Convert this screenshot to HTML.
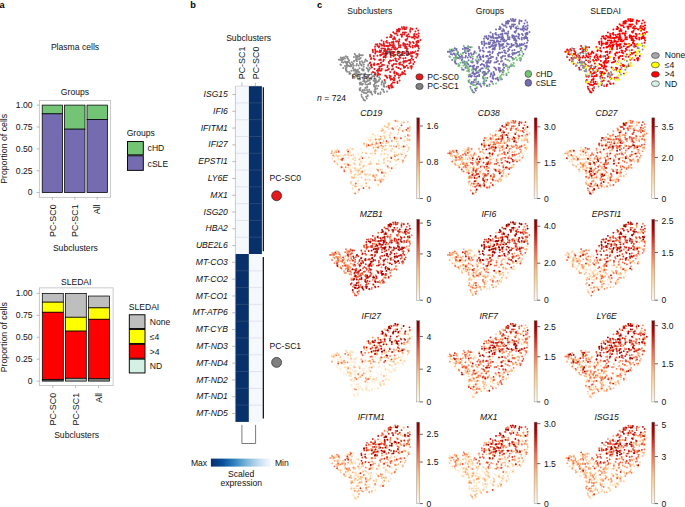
<!DOCTYPE html>
<html><head><meta charset="utf-8"><title>Plasma cells figure</title>
<style>
html,body{margin:0;padding:0;background:#fff;}
svg{display:block;font-family:"Liberation Sans",sans-serif;font-size:8.6px;fill:#111;}
</style></head>
<body>
<svg width="685" height="507" viewBox="0 0 685 507">
<defs>
<linearGradient id="blues" x1="0" x2="1" y1="0" y2="0">
<stop offset="0" stop-color="#08306b"/><stop offset="0.2" stop-color="#08519c"/><stop offset="0.4" stop-color="#3585c0"/><stop offset="0.6" stop-color="#7fb9da"/><stop offset="0.8" stop-color="#c8ddf0"/><stop offset="1" stop-color="#f7fbff"/>
</linearGradient>
<linearGradient id="orrd" x1="0" x2="0" y1="0" y2="1"><stop offset="0.000" stop-color="rgb(127, 0, 0)"/><stop offset="0.125" stop-color="rgb(179, 0, 0)"/><stop offset="0.250" stop-color="rgb(215, 48, 31)"/><stop offset="0.375" stop-color="rgb(239, 101, 72)"/><stop offset="0.500" stop-color="rgb(252, 141, 89)"/><stop offset="0.625" stop-color="rgb(253, 187, 132)"/><stop offset="0.750" stop-color="rgb(253, 212, 158)"/><stop offset="0.875" stop-color="rgb(254, 232, 200)"/><stop offset="1.000" stop-color="rgb(255, 247, 236)"/></linearGradient>
</defs>
<rect width="685" height="507" fill="#fff"/>
<text x="-0.6" y="7.6" font-weight="bold" font-size="9.2" fill="#000">a</text>
<text x="190.3" y="7.7" font-weight="bold" font-size="9.2" fill="#000">b</text>
<text x="317.0" y="7.7" font-weight="bold" font-size="9.2" fill="#000">c</text>
<text x="75.0" y="49.8" text-anchor="middle">Plasma cells</text>
<rect x="39.3" y="100.4" width="71.30" height="96.90" fill="#fff" stroke="#b3b3b3" stroke-width="0.7"/>
<rect x="42.2" y="105.10" width="20.40" height="8.75" fill="#74c476" stroke="#000" stroke-width="0.75"/>
<rect x="42.2" y="113.85" width="20.40" height="78.75" fill="#756bb1" stroke="#000" stroke-width="0.75"/>
<rect x="64.6" y="105.10" width="20.40" height="24.06" fill="#74c476" stroke="#000" stroke-width="0.75"/>
<rect x="64.6" y="129.16" width="20.40" height="63.44" fill="#756bb1" stroke="#000" stroke-width="0.75"/>
<rect x="87.0" y="105.10" width="20.40" height="14.44" fill="#74c476" stroke="#000" stroke-width="0.75"/>
<rect x="87.0" y="119.54" width="20.40" height="73.06" fill="#756bb1" stroke="#000" stroke-width="0.75"/>
<line x1="36.5" x2="39.3" y1="105.10" y2="105.10" stroke="#8a8a8a" stroke-width="0.6"/>
<text x="32.6" y="107.9" text-anchor="end">1.00</text>
<line x1="36.5" x2="39.3" y1="126.97" y2="126.97" stroke="#8a8a8a" stroke-width="0.6"/>
<text x="32.6" y="129.78" text-anchor="end">0.75</text>
<line x1="36.5" x2="39.3" y1="148.85" y2="148.85" stroke="#8a8a8a" stroke-width="0.6"/>
<text x="32.6" y="151.65" text-anchor="end">0.50</text>
<line x1="36.5" x2="39.3" y1="170.72" y2="170.72" stroke="#8a8a8a" stroke-width="0.6"/>
<text x="32.6" y="173.53" text-anchor="end">0.25</text>
<line x1="36.5" x2="39.3" y1="192.60" y2="192.60" stroke="#8a8a8a" stroke-width="0.6"/>
<text x="32.6" y="195.4" text-anchor="end">0</text>
<line x1="52.4" x2="52.4" y1="197.3" y2="199.60000000000002" stroke="#8a8a8a" stroke-width="0.6"/>
<text x="55.6" y="204.4" text-anchor="end" transform="rotate(-90 55.6 204.4)" font-size="8.9">PC-SC0</text>
<line x1="74.8" x2="74.8" y1="197.3" y2="199.60000000000002" stroke="#8a8a8a" stroke-width="0.6"/>
<text x="78.0" y="204.4" text-anchor="end" transform="rotate(-90 78.0 204.4)" font-size="8.9">PC-SC1</text>
<line x1="97.2" x2="97.2" y1="197.3" y2="199.60000000000002" stroke="#8a8a8a" stroke-width="0.6"/>
<text x="100.4" y="204.4" text-anchor="end" transform="rotate(-90 100.4 204.4)" font-size="8.9">All</text>
<text x="74.94999999999999" y="94.5" text-anchor="middle">Groups</text>
<text x="75.35" y="250.8" text-anchor="middle">Subclusters</text>
<text x="7.4" y="148.85" text-anchor="middle" transform="rotate(-90 7.4 148.85)" font-size="8.75">Proportion of cells</text>
<text x="126.7" y="136.4">Groups</text>
<rect x="127.5" y="141.55" width="15.80" height="13.30" fill="#74c476" stroke="#000" stroke-width="0.95"/>
<rect x="127.5" y="155.75" width="15.80" height="14.60" fill="#756bb1" stroke="#000" stroke-width="0.95"/>
<text x="147.6" y="151.1">cHD</text>
<text x="147.6" y="166.8">cSLE</text>
<rect x="39.3" y="287.9" width="73.80" height="97.70" fill="#fff" stroke="#b3b3b3" stroke-width="0.7"/>
<rect x="42.3" y="293.40" width="21.00" height="8.77" fill="#bebebe" stroke="#000" stroke-width="0.75"/>
<rect x="42.3" y="302.17" width="21.00" height="10.09" fill="#ffff00" stroke="#000" stroke-width="0.75"/>
<rect x="42.3" y="312.26" width="21.00" height="67.09" fill="#ff0000" stroke="#000" stroke-width="0.75"/>
<rect x="42.3" y="379.35" width="21.00" height="1.75" fill="#5a5a5a" stroke="#000" stroke-width="0.75"/>
<rect x="65.4" y="293.40" width="20.90" height="23.85" fill="#bebebe" stroke="#000" stroke-width="0.75"/>
<rect x="65.4" y="317.25" width="20.90" height="13.86" fill="#ffff00" stroke="#000" stroke-width="0.75"/>
<rect x="65.4" y="331.11" width="20.90" height="47.18" fill="#ff0000" stroke="#000" stroke-width="0.75"/>
<rect x="65.4" y="378.29" width="20.90" height="2.81" fill="#a9b5ad" stroke="#000" stroke-width="0.75"/>
<rect x="88.6" y="296.03" width="20.80" height="11.84" fill="#bebebe" stroke="#000" stroke-width="0.75"/>
<rect x="88.6" y="307.87" width="20.80" height="11.40" fill="#ffff00" stroke="#000" stroke-width="0.75"/>
<rect x="88.6" y="319.27" width="20.80" height="59.55" fill="#ff0000" stroke="#000" stroke-width="0.75"/>
<rect x="88.6" y="378.82" width="20.80" height="2.28" fill="#8d9690" stroke="#000" stroke-width="0.75"/>
<line x1="36.5" x2="39.3" y1="293.40" y2="293.40" stroke="#8a8a8a" stroke-width="0.6"/>
<text x="32.6" y="296.2" text-anchor="end">1.00</text>
<line x1="36.5" x2="39.3" y1="315.32" y2="315.32" stroke="#8a8a8a" stroke-width="0.6"/>
<text x="32.6" y="318.12" text-anchor="end">0.75</text>
<line x1="36.5" x2="39.3" y1="337.25" y2="337.25" stroke="#8a8a8a" stroke-width="0.6"/>
<text x="32.6" y="340.05" text-anchor="end">0.50</text>
<line x1="36.5" x2="39.3" y1="359.18" y2="359.18" stroke="#8a8a8a" stroke-width="0.6"/>
<text x="32.6" y="361.98" text-anchor="end">0.25</text>
<line x1="36.5" x2="39.3" y1="381.10" y2="381.10" stroke="#8a8a8a" stroke-width="0.6"/>
<text x="32.6" y="383.9" text-anchor="end">0</text>
<line x1="52.8" x2="52.8" y1="385.6" y2="387.90000000000003" stroke="#8a8a8a" stroke-width="0.6"/>
<text x="56.0" y="392.9" text-anchor="end" transform="rotate(-90 56.0 392.9)" font-size="8.9">PC-SC0</text>
<line x1="75.6" x2="75.6" y1="385.6" y2="387.90000000000003" stroke="#8a8a8a" stroke-width="0.6"/>
<text x="78.8" y="392.9" text-anchor="end" transform="rotate(-90 78.8 392.9)" font-size="8.9">PC-SC1</text>
<line x1="98.6" x2="98.6" y1="385.6" y2="387.90000000000003" stroke="#8a8a8a" stroke-width="0.6"/>
<text x="101.8" y="392.9" text-anchor="end" transform="rotate(-90 101.8 392.9)" font-size="8.9">All</text>
<text x="76.19999999999999" y="284.6" text-anchor="middle">SLEDAI</text>
<text x="76.6" y="438.4" text-anchor="middle">Subclusters</text>
<text x="7.4" y="337.25" text-anchor="middle" transform="rotate(-90 7.4 337.25)" font-size="8.75">Proportion of cells</text>
<text x="128.7" y="309.7">SLEDAI</text>
<rect x="129.3" y="314.75" width="15.70" height="13.80" fill="#bebebe" stroke="#000" stroke-width="0.95"/>
<rect x="129.3" y="329.45" width="15.70" height="14.00" fill="#ffff00" stroke="#000" stroke-width="0.95"/>
<rect x="129.3" y="344.35" width="15.70" height="13.90" fill="#ff0000" stroke="#000" stroke-width="0.95"/>
<rect x="129.3" y="359.15" width="15.70" height="13.80" fill="#d3f2e3" stroke="#000" stroke-width="0.95"/>
<text x="149.8" y="324.8">None</text>
<text x="149.8" y="339.9">≤4</text>
<text x="149.8" y="354.5">&gt;4</text>
<text x="149.8" y="369.2">ND</text>
<text x="248.6" y="40.8" text-anchor="middle">Subclusters</text>
<text x="245.2" y="79.2" transform="rotate(-90 245.2 79.2)" font-size="8.9">PC-SC1</text>
<text x="258.7" y="79.2" transform="rotate(-90 258.7 79.2)" font-size="8.9">PC-SC0</text>
<line x1="241.9" x2="241.9" y1="82.7" y2="86.1" stroke="#8a8a8a" stroke-width="0.6"/>
<line x1="255.3" x2="255.3" y1="82.7" y2="86.1" stroke="#8a8a8a" stroke-width="0.6"/>
<rect x="235.4" y="86.1" width="13.50" height="167.90" fill="#f5f9fe"/>
<rect x="248.9" y="86.1" width="13.00" height="167.90" fill="#08306b"/>
<rect x="235.4" y="254.00" width="13.50" height="167.90" fill="#08306b"/>
<rect x="248.9" y="254.00" width="13.00" height="167.90" fill="#f5f9fe"/>
<line x1="235.4" x2="261.9" y1="102.89" y2="102.89" stroke="#9a9a9a" stroke-opacity="0.45" stroke-width="0.5"/>
<line x1="235.4" x2="261.9" y1="119.68" y2="119.68" stroke="#9a9a9a" stroke-opacity="0.45" stroke-width="0.5"/>
<line x1="235.4" x2="261.9" y1="136.47" y2="136.47" stroke="#9a9a9a" stroke-opacity="0.45" stroke-width="0.5"/>
<line x1="235.4" x2="261.9" y1="153.26" y2="153.26" stroke="#9a9a9a" stroke-opacity="0.45" stroke-width="0.5"/>
<line x1="235.4" x2="261.9" y1="170.05" y2="170.05" stroke="#9a9a9a" stroke-opacity="0.45" stroke-width="0.5"/>
<line x1="235.4" x2="261.9" y1="186.84" y2="186.84" stroke="#9a9a9a" stroke-opacity="0.45" stroke-width="0.5"/>
<line x1="235.4" x2="261.9" y1="203.63" y2="203.63" stroke="#9a9a9a" stroke-opacity="0.45" stroke-width="0.5"/>
<line x1="235.4" x2="261.9" y1="220.42" y2="220.42" stroke="#9a9a9a" stroke-opacity="0.45" stroke-width="0.5"/>
<line x1="235.4" x2="261.9" y1="237.21" y2="237.21" stroke="#9a9a9a" stroke-opacity="0.45" stroke-width="0.5"/>
<line x1="235.4" x2="261.9" y1="270.79" y2="270.79" stroke="#9a9a9a" stroke-opacity="0.45" stroke-width="0.5"/>
<line x1="235.4" x2="261.9" y1="287.58" y2="287.58" stroke="#9a9a9a" stroke-opacity="0.45" stroke-width="0.5"/>
<line x1="235.4" x2="261.9" y1="304.37" y2="304.37" stroke="#9a9a9a" stroke-opacity="0.45" stroke-width="0.5"/>
<line x1="235.4" x2="261.9" y1="321.16" y2="321.16" stroke="#9a9a9a" stroke-opacity="0.45" stroke-width="0.5"/>
<line x1="235.4" x2="261.9" y1="337.95" y2="337.95" stroke="#9a9a9a" stroke-opacity="0.45" stroke-width="0.5"/>
<line x1="235.4" x2="261.9" y1="354.74" y2="354.74" stroke="#9a9a9a" stroke-opacity="0.45" stroke-width="0.5"/>
<line x1="235.4" x2="261.9" y1="371.53" y2="371.53" stroke="#9a9a9a" stroke-opacity="0.45" stroke-width="0.5"/>
<line x1="235.4" x2="261.9" y1="388.32" y2="388.32" stroke="#9a9a9a" stroke-opacity="0.45" stroke-width="0.5"/>
<line x1="235.4" x2="261.9" y1="405.11" y2="405.11" stroke="#9a9a9a" stroke-opacity="0.45" stroke-width="0.5"/>
<line x1="235.4" x2="235.4" y1="86.1" y2="421.90" stroke="#9a9a9a" stroke-width="0.5"/>
<line x1="235.4" x2="261.9" y1="86.1" y2="86.1" stroke="#9a9a9a" stroke-opacity="0.6" stroke-width="0.5"/>
<line x1="232.3" x2="235.4" y1="94.49" y2="94.49" stroke="#8a8a8a" stroke-width="0.6"/>
<text x="227.9" y="97.09" text-anchor="end" font-style="italic">ISG15</text>
<line x1="232.3" x2="235.4" y1="111.28" y2="111.28" stroke="#8a8a8a" stroke-width="0.6"/>
<text x="227.9" y="113.88" text-anchor="end" font-style="italic">IFI6</text>
<line x1="232.3" x2="235.4" y1="128.07" y2="128.07" stroke="#8a8a8a" stroke-width="0.6"/>
<text x="227.9" y="130.67" text-anchor="end" font-style="italic">IFITM1</text>
<line x1="232.3" x2="235.4" y1="144.87" y2="144.87" stroke="#8a8a8a" stroke-width="0.6"/>
<text x="227.9" y="147.47" text-anchor="end" font-style="italic">IFI27</text>
<line x1="232.3" x2="235.4" y1="161.65" y2="161.65" stroke="#8a8a8a" stroke-width="0.6"/>
<text x="227.9" y="164.25" text-anchor="end" font-style="italic">EPSTI1</text>
<line x1="232.3" x2="235.4" y1="178.44" y2="178.44" stroke="#8a8a8a" stroke-width="0.6"/>
<text x="227.9" y="181.04" text-anchor="end" font-style="italic">LY6E</text>
<line x1="232.3" x2="235.4" y1="195.23" y2="195.23" stroke="#8a8a8a" stroke-width="0.6"/>
<text x="227.9" y="197.83" text-anchor="end" font-style="italic">MX1</text>
<line x1="232.3" x2="235.4" y1="212.02" y2="212.02" stroke="#8a8a8a" stroke-width="0.6"/>
<text x="227.9" y="214.62" text-anchor="end" font-style="italic">ISG20</text>
<line x1="232.3" x2="235.4" y1="228.81" y2="228.81" stroke="#8a8a8a" stroke-width="0.6"/>
<text x="227.9" y="231.41" text-anchor="end" font-style="italic">HBA2</text>
<line x1="232.3" x2="235.4" y1="245.60" y2="245.60" stroke="#8a8a8a" stroke-width="0.6"/>
<text x="227.9" y="248.2" text-anchor="end" font-style="italic">UBE2L6</text>
<line x1="232.3" x2="235.4" y1="262.39" y2="262.39" stroke="#8a8a8a" stroke-width="0.6"/>
<text x="227.9" y="265.0" text-anchor="end" font-style="italic">MT-CO3</text>
<line x1="232.3" x2="235.4" y1="279.18" y2="279.18" stroke="#8a8a8a" stroke-width="0.6"/>
<text x="227.9" y="281.78" text-anchor="end" font-style="italic">MT-CO2</text>
<line x1="232.3" x2="235.4" y1="295.98" y2="295.98" stroke="#8a8a8a" stroke-width="0.6"/>
<text x="227.9" y="298.58" text-anchor="end" font-style="italic">MT-CO1</text>
<line x1="232.3" x2="235.4" y1="312.76" y2="312.76" stroke="#8a8a8a" stroke-width="0.6"/>
<text x="227.9" y="315.37" text-anchor="end" font-style="italic">MT-ATP6</text>
<line x1="232.3" x2="235.4" y1="329.55" y2="329.55" stroke="#8a8a8a" stroke-width="0.6"/>
<text x="227.9" y="332.15" text-anchor="end" font-style="italic">MT-CYB</text>
<line x1="232.3" x2="235.4" y1="346.35" y2="346.35" stroke="#8a8a8a" stroke-width="0.6"/>
<text x="227.9" y="348.95" text-anchor="end" font-style="italic">MT-ND3</text>
<line x1="232.3" x2="235.4" y1="363.13" y2="363.13" stroke="#8a8a8a" stroke-width="0.6"/>
<text x="227.9" y="365.74" text-anchor="end" font-style="italic">MT-ND4</text>
<line x1="232.3" x2="235.4" y1="379.92" y2="379.92" stroke="#8a8a8a" stroke-width="0.6"/>
<text x="227.9" y="382.52" text-anchor="end" font-style="italic">MT-ND2</text>
<line x1="232.3" x2="235.4" y1="396.72" y2="396.72" stroke="#8a8a8a" stroke-width="0.6"/>
<text x="227.9" y="399.32" text-anchor="end" font-style="italic">MT-ND1</text>
<line x1="232.3" x2="235.4" y1="413.50" y2="413.50" stroke="#8a8a8a" stroke-width="0.6"/>
<text x="227.9" y="416.11" text-anchor="end" font-style="italic">MT-ND5</text>
<line x1="263.3" x2="263.3" y1="87.3" y2="251.3" stroke="#000" stroke-width="1.2"/>
<line x1="263.3" x2="263.3" y1="257.1" y2="418.6" stroke="#000" stroke-width="1.2"/>
<path d="M241.9 424.9V443.5H255.6V424.9" fill="none" stroke="#444" stroke-width="0.7"/>
<text x="269.6" y="181.0">PC-SC0</text>
<circle cx="276.6" cy="195.8" r="4.95" fill="#e41a1c" stroke="#222" stroke-width="0.7"/>
<text x="269.6" y="348.8">PC-SC1</text>
<circle cx="276.6" cy="362.4" r="4.95" fill="#808080" stroke="#222" stroke-width="0.7"/>
<rect x="210.9" y="458.6" width="60.4" height="8" fill="url(#blues)"/>
<text x="190.9" y="465.8">Max</text>
<text x="274.9" y="465.8">Min</text>
<text x="241.2" y="477.0" text-anchor="middle">Scaled</text>
<text x="241.2" y="485.8" text-anchor="middle">expression</text>
<path d="M344.9 58.5h.01M354.6 77.8h.01M363.7 70.6h.01M357.8 69.8h.01M347.2 58.1h.01M350.0 63.4h.01M377.1 76.6h.01M370.1 92.1h.01M360.7 57.9h.01M359.5 88.9h.01M359.2 54.2h.01M356.3 65.5h.01M366.7 67.9h.01M367.0 61.1h.01M338.9 59.7h.01M351.8 62.2h.01M383.9 85.6h.01M380.3 78.7h.01M364.0 80.9h.01M365.1 73.5h.01M362.9 83.7h.01M361.9 61.2h.01M356.8 70.7h.01M349.0 66.0h.01M362.8 69.3h.01M361.7 65.5h.01M375.1 83.2h.01M359.1 75.9h.01M358.1 56.7h.01M350.2 65.9h.01M358.4 74.5h.01M356.1 71.8h.01M379.1 77.3h.01M356.0 58.0h.01M366.8 98.5h.01M379.1 80.0h.01M356.9 58.0h.01M362.0 69.2h.01M345.9 62.3h.01M358.7 71.7h.01M364.8 77.6h.01M345.8 56.3h.01M363.1 98.3h.01M371.4 93.0h.01M368.4 64.6h.01M346.4 63.5h.01M347.2 71.7h.01M348.1 59.0h.01M360.4 87.9h.01M347.0 66.5h.01M367.5 92.3h.01M349.8 72.9h.01M380.3 93.9h.01M356.4 75.7h.01M356.1 70.5h.01M354.4 73.5h.01M376.3 82.4h.01M359.6 68.3h.01M364.7 92.8h.01M373.9 84.7h.01M352.8 63.8h.01M356.9 61.3h.01M374.1 84.8h.01M349.2 72.0h.01M352.7 75.8h.01M345.8 69.8h.01M370.2 84.0h.01M359.7 54.9h.01M362.6 62.7h.01M381.8 82.4h.01M365.0 100.4h.01M378.0 94.1h.01M381.4 84.6h.01M368.1 69.9h.01M367.8 75.1h.01M359.4 58.4h.01M383.8 86.6h.01M356.9 72.3h.01M367.7 69.1h.01M384.1 92.1h.01M349.0 60.3h.01M368.4 71.4h.01M364.2 80.1h.01M347.5 57.1h.01M387.0 91.4h.01M385.4 82.8h.01M343.1 59.2h.01M359.6 77.6h.01M359.8 61.7h.01M383.1 89.8h.01M362.1 84.7h.01M366.9 77.4h.01M375.7 81.0h.01M370.1 68.4h.01M361.6 65.1h.01M340.8 57.6h.01M363.0 78.6h.01M362.8 89.9h.01M351.6 65.9h.01M364.4 80.4h.01M357.7 55.9h.01M346.9 66.8h.01M347.6 65.2h.01M360.0 84.6h.01M364.2 76.5h.01M362.7 55.3h.01M363.4 74.6h.01M358.7 59.3h.01M365.3 87.9h.01M364.5 61.9h.01M346.4 63.4h.01M353.2 67.5h.01M362.4 70.3h.01M365.7 59.6h.01M366.1 93.2h.01M353.1 77.6h.01M368.5 70.3h.01M346.8 65.2h.01M344.0 57.3h.01M374.2 91.5h.01M345.7 67.9h.01M374.8 89.6h.01M352.8 68.3h.01M363.2 81.3h.01M367.3 84.8h.01M359.8 79.6h.01M365.1 82.3h.01M371.0 91.6h.01M359.3 59.2h.01M355.5 69.4h.01M359.7 83.1h.01M378.0 93.6h.01M340.5 64.6h.01M363.9 92.7h.01M340.9 64.9h.01M364.5 75.2h.01M363.8 99.7h.01M357.0 74.0h.01M369.1 80.2h.01M364.3 73.9h.01M356.0 72.7h.01M367.2 87.0h.01M368.1 65.8h.01M354.2 69.5h.01M341.0 59.9h.01M363.7 66.7h.01M342.1 59.2h.01M384.4 86.8h.01M364.5 89.9h.01M369.2 74.8h.01M376.3 81.4h.01M365.3 60.4h.01M383.6 85.9h.01M347.1 63.9h.01M347.2 61.8h.01M353.9 57.0h.01M378.3 86.1h.01M356.9 71.4h.01M366.0 87.6h.01M367.0 90.1h.01M360.0 79.3h.01M350.9 66.3h.01M375.4 87.5h.01M383.7 91.4h.01M367.7 76.3h.01M370.2 82.8h.01M360.9 83.9h.01M380.6 92.6h.01M359.1 56.2h.01M361.5 74.0h.01M343.2 67.9h.01M342.8 57.7h.01M360.3 90.1h.01M342.3 60.1h.01M343.3 62.6h.01M377.3 88.4h.01M346.4 69.0h.01M355.3 70.6h.01M354.1 60.9h.01M341.8 62.0h.01M356.5 56.1h.01M351.0 65.1h.01M362.7 83.9h.01M374.4 79.7h.01M350.8 66.5h.01M361.4 94.8h.01M374.6 81.4h.01M367.8 81.0h.01M361.2 55.3h.01M355.7 55.5h.01M375.9 80.1h.01M347.2 62.7h.01M356.7 59.7h.01M376.0 81.6h.01M376.8 82.3h.01M356.9 64.1h.01M340.3 59.6h.01M371.0 77.7h.01M366.1 76.9h.01M351.4 70.7h.01M357.8 76.1h.01M382.2 81.2h.01M369.6 80.5h.01M353.5 70.4h.01M347.3 64.7h.01M367.7 80.5h.01M381.9 89.3h.01M369.2 89.8h.01M353.9 61.4h.01M363.4 92.3h.01M346.2 70.8h.01M354.7 53.9h.01M373.6 80.6h.01M345.0 66.0h.01M364.9 81.7h.01M367.7 96.1h.01M349.4 74.1h.01M360.5 58.2h.01M358.7 65.5h.01M354.2 70.6h.01M365.5 84.3h.01M371.7 73.1h.01M363.8 64.6h.01M366.8 78.6h.01M367.7 95.3h.01M374.2 86.1h.01M375.2 92.9h.01M369.5 78.6h.01M385.1 81.4h.01M359.3 72.6h.01M374.4 81.2h.01M378.7 80.9h.01M375.6 91.5h.01M382.7 82.3h.01M366.1 96.7h.01M348.8 62.0h.01M383.8 83.9h.01M369.6 67.8h.01M363.6 69.4h.01M372.2 94.5h.01M371.3 79.1h.01M386.7 86.8h.01M342.2 58.4h.01M350.4 73.6h.01M373.7 76.3h.01M356.0 56.6h.01M359.6 77.0h.01M370.9 78.4h.01M361.8 96.8h.01M368.1 80.2h.01M353.8 65.6h.01M360.6 64.4h.01M372.4 76.6h.01M377.8 81.6h.01M359.9 63.3h.01M363.7 99.9h.01M368.5 83.9h.01M356.9 70.7h.01M364.6 75.1h.01M357.7 70.8h.01M356.4 73.6h.01M344.9 61.4h.01M351.5 65.0h.01M368.5 91.4h.01M364.9 90.2h.01M375.7 89.2h.01M351.7 64.9h.01M363.2 77.6h.01M355.9 59.9h.01M384.9 83.2h.01M359.8 90.2h.01M374.2 86.5h.01M376.2 85.7h.01M360.9 82.6h.01M358.1 78.9h.01M366.5 81.7h.01M366.9 87.7h.01M360.5 74.4h.01M368.9 70.1h.01M361.8 91.5h.01" stroke="#8c8c8c" stroke-width="2.0" stroke-linecap="round" fill="none"/>
<path d="M382.3 54.1h.01M405.8 40.2h.01M390.9 54.6h.01M387.2 70.2h.01M406.3 48.0h.01M401.8 36.4h.01M378.0 70.9h.01M370.2 56.6h.01M400.3 62.6h.01M386.5 46.1h.01M379.4 66.6h.01M384.0 51.1h.01M384.3 45.3h.01M402.1 64.8h.01M374.5 72.7h.01M416.4 46.1h.01M407.2 38.8h.01M380.6 52.1h.01M383.8 59.7h.01M396.1 33.4h.01M395.1 58.6h.01M375.4 52.1h.01M415.1 46.8h.01M381.5 44.6h.01M398.8 68.1h.01M390.7 57.1h.01M377.1 64.4h.01M411.1 55.9h.01M394.6 78.8h.01M389.9 77.8h.01M400.1 64.4h.01M399.1 45.6h.01M375.0 46.8h.01M416.7 42.5h.01M375.1 49.3h.01M386.7 53.7h.01M415.1 36.2h.01M384.1 56.3h.01M413.3 64.0h.01M400.2 57.7h.01M381.3 55.0h.01M418.5 36.1h.01M410.6 28.3h.01M377.0 70.8h.01M391.6 84.1h.01M391.5 49.5h.01M381.3 70.4h.01M377.2 44.3h.01M399.3 64.6h.01M416.9 37.6h.01M415.5 51.4h.01M418.2 42.2h.01M412.6 28.9h.01M412.7 52.1h.01M416.5 28.5h.01M417.4 55.7h.01M402.2 72.3h.01M403.0 32.6h.01M400.5 45.2h.01M399.2 41.6h.01M416.7 34.6h.01M389.3 43.0h.01M404.0 67.8h.01M384.8 53.5h.01M398.4 41.9h.01M418.5 41.5h.01M389.4 88.6h.01M403.3 43.3h.01M370.8 65.6h.01M389.9 49.7h.01M374.8 59.6h.01M389.2 63.4h.01M374.4 65.0h.01M415.4 31.6h.01M379.8 50.6h.01M386.5 76.5h.01M416.3 37.3h.01M405.6 39.8h.01M403.5 66.0h.01M385.2 49.8h.01M413.7 37.5h.01M399.1 31.6h.01M397.4 54.3h.01M396.4 67.1h.01M396.0 64.1h.01M403.3 73.8h.01M391.5 52.8h.01M392.9 82.4h.01M398.8 59.3h.01M390.8 34.7h.01M379.3 74.2h.01M391.1 60.8h.01M390.1 45.4h.01M375.5 73.4h.01M406.9 65.8h.01M405.2 74.3h.01M405.8 61.8h.01M390.8 76.2h.01M392.4 45.4h.01M402.5 52.7h.01M411.4 68.4h.01M378.5 64.1h.01M407.8 54.8h.01M397.6 73.6h.01M409.6 54.2h.01M373.8 58.4h.01M371.2 64.5h.01M392.2 86.2h.01M411.6 67.6h.01M387.3 77.8h.01M384.5 46.0h.01M372.7 50.6h.01M391.4 42.6h.01M405.9 32.6h.01M384.9 48.6h.01M406.7 51.6h.01M387.8 49.8h.01M405.1 47.9h.01M414.0 52.7h.01M403.7 61.2h.01M411.6 65.9h.01M386.8 40.9h.01M390.4 85.8h.01M387.4 52.6h.01M378.1 69.3h.01M418.2 45.7h.01M417.8 46.0h.01M393.5 56.2h.01M394.1 49.1h.01M400.9 34.6h.01M397.5 41.3h.01M390.0 60.6h.01M410.4 46.7h.01M407.8 51.8h.01M393.4 42.5h.01M381.5 40.6h.01M413.8 43.0h.01M378.9 47.2h.01M386.2 41.8h.01M407.1 54.2h.01M380.9 60.1h.01M380.4 66.5h.01M405.9 28.9h.01M396.0 41.3h.01M387.6 70.0h.01M397.5 30.0h.01M378.7 64.3h.01M402.5 52.1h.01M415.7 45.4h.01M390.4 54.0h.01M389.4 45.5h.01M391.6 35.7h.01M385.2 75.5h.01M396.9 61.3h.01M388.7 61.9h.01M380.3 55.4h.01M409.6 44.6h.01M379.2 60.0h.01M385.6 70.4h.01M411.8 58.3h.01M390.2 72.0h.01M393.4 41.4h.01M385.5 57.5h.01M388.7 87.3h.01M386.2 52.9h.01M389.3 45.4h.01M418.8 48.5h.01M393.1 52.3h.01M396.5 33.6h.01M407.4 36.2h.01M379.7 43.7h.01M386.6 54.3h.01M392.5 69.3h.01M384.5 53.8h.01M409.6 36.6h.01M393.0 53.1h.01M392.6 79.2h.01M408.4 53.1h.01M397.1 29.7h.01M390.0 60.7h.01M395.9 58.8h.01M404.9 46.3h.01M382.9 45.4h.01M393.6 44.5h.01M411.6 37.3h.01M407.1 35.2h.01M392.1 45.5h.01M406.6 50.7h.01M395.0 38.9h.01M418.7 33.4h.01M403.3 58.6h.01M392.8 65.3h.01M374.5 69.0h.01M389.3 87.6h.01M394.1 72.4h.01M377.6 75.3h.01M381.8 69.1h.01M381.8 45.5h.01M383.8 43.7h.01M387.2 42.7h.01M406.6 35.9h.01M397.9 29.9h.01M394.0 45.8h.01M395.0 55.3h.01M404.5 29.3h.01M370.2 62.4h.01M385.7 55.8h.01M393.6 47.1h.01M379.3 46.3h.01M380.0 74.4h.01M383.5 57.2h.01M410.4 60.7h.01M385.0 49.4h.01M410.2 31.7h.01M412.8 47.4h.01M410.8 52.3h.01M400.2 75.4h.01M394.3 52.0h.01M389.9 51.8h.01M387.5 46.0h.01M398.1 51.4h.01M379.4 68.4h.01M416.2 54.1h.01M414.6 38.8h.01M379.2 74.5h.01M404.5 61.2h.01M394.6 71.6h.01M394.6 33.4h.01M398.7 47.2h.01M384.0 53.9h.01M395.1 75.7h.01M415.0 45.8h.01M381.1 62.5h.01M381.7 66.0h.01M405.6 44.6h.01M410.1 29.9h.01M395.6 60.4h.01M409.4 41.8h.01M403.8 73.1h.01M397.1 48.8h.01M391.7 87.6h.01M400.8 55.2h.01M374.2 63.6h.01M399.4 56.8h.01M401.9 35.5h.01M400.5 69.1h.01M394.5 80.1h.01M383.9 65.0h.01M409.2 46.0h.01M378.3 70.5h.01M384.7 51.0h.01M404.7 71.1h.01M393.9 77.4h.01M394.9 38.3h.01M407.5 48.7h.01M386.1 50.6h.01M381.5 48.5h.01M387.5 67.3h.01M391.6 36.6h.01M393.0 39.0h.01M410.6 62.7h.01M382.2 64.7h.01M397.0 31.3h.01M416.2 57.6h.01M398.9 77.7h.01M403.7 62.7h.01M400.4 74.5h.01M404.6 71.0h.01M375.7 44.4h.01M403.9 27.0h.01M405.5 58.1h.01M375.7 51.8h.01M392.8 87.3h.01M406.4 40.5h.01M417.7 53.9h.01M412.3 56.3h.01M393.2 32.3h.01M413.4 64.1h.01M400.2 29.3h.01M412.1 37.5h.01M395.3 47.5h.01M399.3 39.5h.01M418.1 40.7h.01M416.5 41.5h.01M418.2 46.7h.01M390.8 85.2h.01M400.5 47.3h.01M404.9 52.9h.01M410.5 66.6h.01M385.8 57.0h.01M396.4 72.7h.01M406.5 47.2h.01M390.1 37.1h.01M390.1 52.2h.01M405.2 67.0h.01M402.6 28.8h.01M375.5 52.3h.01M380.6 59.6h.01M396.4 41.4h.01M397.7 31.4h.01M397.9 74.0h.01M407.9 36.7h.01M403.3 61.5h.01M411.9 66.8h.01M378.0 74.7h.01M390.7 79.8h.01M393.8 80.3h.01M391.8 78.7h.01M399.5 29.5h.01M404.4 32.5h.01M383.1 48.5h.01M405.4 61.1h.01M391.9 42.2h.01M383.1 53.1h.01M408.5 34.3h.01M401.8 27.2h.01M387.6 65.7h.01M404.0 66.6h.01M406.6 50.2h.01M418.5 33.4h.01M420.4 39.9h.01M400.5 45.3h.01M395.6 49.5h.01M386.6 76.3h.01M392.0 69.5h.01M403.4 45.6h.01M407.5 44.3h.01M381.3 44.7h.01M409.9 42.6h.01M375.3 50.5h.01M392.9 53.8h.01M392.1 65.3h.01M416.9 44.2h.01M418.0 50.8h.01M388.3 46.0h.01M384.5 80.1h.01M417.9 37.8h.01M414.1 34.5h.01M418.1 41.1h.01M404.4 27.4h.01M403.2 44.1h.01M417.7 42.2h.01M371.4 58.3h.01M394.0 38.7h.01M381.1 50.7h.01M377.5 46.1h.01M398.5 52.3h.01M393.0 69.1h.01M390.5 44.7h.01M413.0 42.0h.01M392.9 46.2h.01M397.8 30.8h.01M402.4 34.6h.01M369.8 63.0h.01M393.4 43.3h.01M375.5 74.5h.01M413.6 36.3h.01M389.3 49.2h.01M418.2 30.5h.01M401.8 36.8h.01M373.0 52.0h.01M388.0 48.3h.01M397.4 81.8h.01M399.8 52.3h.01M406.0 46.6h.01M405.5 45.7h.01M383.3 60.9h.01M410.3 42.7h.01M404.2 43.7h.01M380.8 63.0h.01M403.5 53.4h.01M372.9 71.9h.01M397.5 82.9h.01M394.2 37.3h.01M387.0 37.5h.01M371.0 59.1h.01M417.0 37.6h.01M386.8 77.5h.01M404.5 28.6h.01M377.6 63.9h.01M412.4 52.9h.01M377.3 51.6h.01M388.4 85.7h.01M396.7 74.0h.01M373.8 56.0h.01M399.2 31.1h.01M409.3 63.4h.01M398.6 75.4h.01M392.2 47.5h.01M390.7 54.9h.01M405.7 29.1h.01M412.3 29.2h.01M379.3 51.9h.01M402.0 74.1h.01M409.0 60.0h.01M394.5 82.6h.01M383.8 57.1h.01M393.5 53.7h.01M383.7 42.1h.01M406.5 27.6h.01M389.6 75.8h.01M398.2 68.1h.01M412.8 45.8h.01M379.5 69.8h.01M371.9 67.5h.01M377.4 55.8h.01M407.4 60.7h.01M372.8 49.8h.01M415.9 45.0h.01M379.8 51.8h.01M399.6 80.5h.01M414.5 34.1h.01M397.5 35.3h.01M380.1 70.8h.01M380.2 54.8h.01M375.2 53.5h.01M390.6 78.8h.01M404.8 43.9h.01M399.2 63.3h.01M410.1 59.7h.01M402.2 54.8h.01M413.1 59.7h.01M387.3 45.8h.01M370.0 55.1h.01M394.3 73.6h.01M388.6 48.7h.01M408.0 67.9h.01M404.4 34.5h.01M373.6 64.8h.01M411.0 53.5h.01M388.9 69.0h.01M392.4 66.6h.01M393.1 60.2h.01M398.9 28.8h.01M394.0 64.0h.01M391.5 78.8h.01M391.4 36.9h.01M377.9 73.0h.01M406.8 65.8h.01M398.7 43.7h.01M417.4 54.3h.01M410.8 53.5h.01M371.4 66.1h.01M414.4 62.1h.01" stroke="#e41a1c" stroke-width="2.0" stroke-linecap="round" fill="none"/>
<text x="347.3" y="13.5">Subclusters</text>
<text x="397.0" y="56.0" text-anchor="middle" font-size="6.7">PC-SC0</text>
<text x="364.1" y="79.0" text-anchor="middle" font-size="6.7" fill="#222">PC-SC1</text>
<ellipse cx="419.5" cy="76.9" rx="3.7" ry="3.1" fill="#e41a1c" stroke="#333" stroke-width="0.6"/>
<ellipse cx="419.5" cy="86.4" rx="3.7" ry="3.1" fill="#808080" stroke="#333" stroke-width="0.6"/>
<text x="427.2" y="79.6">PC-SC0</text>
<text x="427.2" y="89.2">PC-SC1</text>
<text x="317.1" y="100.6"><tspan font-style="italic">n</tspan> = 724</text>
<path d="M491.3 46.1h.01M453.9 50.5h.01M514.8 32.2h.01M499.9 46.6h.01M463.6 69.8h.01M472.7 62.6h.01M456.2 50.1h.01M459.0 55.4h.01M496.2 62.2h.01M515.3 40.0h.01M510.8 28.4h.01M479.1 84.1h.01M469.7 49.9h.01M487.0 62.9h.01M479.2 48.6h.01M468.5 80.9h.01M468.2 46.2h.01M465.3 57.5h.01M509.3 54.6h.01M495.5 38.1h.01M488.4 58.6h.01M447.9 51.7h.01M493.0 43.1h.01M492.9 77.6h.01M493.3 37.3h.01M511.1 56.8h.01M483.5 64.7h.01M489.3 70.7h.01M525.4 38.1h.01M516.2 30.8h.01M489.6 44.1h.01M473.0 72.9h.01M492.8 51.7h.01M474.1 65.5h.01M505.1 25.4h.01M504.1 50.6h.01M484.4 44.1h.01M524.1 38.8h.01M490.5 36.6h.01M471.9 75.7h.01M507.8 60.1h.01M499.7 49.1h.01M470.9 53.2h.01M486.1 56.4h.01M465.8 62.7h.01M458.0 58.0h.01M503.6 70.8h.01M498.9 69.8h.01M509.1 56.4h.01M508.1 37.6h.01M470.7 57.5h.01M484.0 38.8h.01M525.7 34.5h.01M484.1 41.3h.01M495.7 45.7h.01M484.1 75.2h.01M524.1 28.2h.01M493.1 48.3h.01M509.2 49.7h.01M490.3 47.0h.01M527.5 28.1h.01M467.1 48.7h.01M519.6 20.3h.01M486.0 62.8h.01M459.2 57.9h.01M500.5 41.5h.01M490.3 62.4h.01M465.1 63.8h.01M486.2 36.3h.01M488.1 69.3h.01M508.3 56.6h.01M465.0 50.0h.01M525.9 29.6h.01M524.5 43.4h.01M475.8 90.5h.01M527.2 34.2h.01M521.6 20.9h.01M521.7 44.1h.01M525.5 20.5h.01M526.4 47.7h.01M512.0 24.6h.01M509.5 37.2h.01M488.1 72.0h.01M508.2 33.6h.01M454.9 54.3h.01M525.7 26.6h.01M498.3 35.0h.01M467.7 63.7h.01M473.8 69.6h.01M454.8 48.3h.01M472.1 90.3h.01M493.8 45.5h.01M507.4 33.9h.01M480.4 85.0h.01M477.4 56.6h.01M455.4 55.5h.01M527.5 33.5h.01M498.4 80.6h.01M512.3 35.3h.01M479.8 57.6h.01M456.2 63.7h.01M498.9 41.7h.01M483.8 51.6h.01M498.2 55.4h.01M483.4 57.0h.01M524.4 23.6h.01M488.8 42.6h.01M456.0 58.5h.01M476.5 84.3h.01M495.5 68.5h.01M465.4 67.7h.01M525.3 29.3h.01M514.6 31.8h.01M485.3 74.4h.01M468.6 60.3h.01M512.5 58.0h.01M473.7 84.8h.01M494.2 41.8h.01M522.7 29.5h.01M508.1 23.6h.01M506.4 46.3h.01M505.4 59.1h.01M461.8 55.8h.01M505.0 56.1h.01M465.9 53.3h.01M500.5 44.8h.01M483.1 76.8h.01M507.8 51.3h.01M499.8 26.7h.01M488.3 66.2h.01M500.1 52.8h.01M499.1 37.4h.01M484.5 65.4h.01M454.8 61.8h.01M479.2 76.0h.01M514.8 53.8h.01M471.6 54.7h.01M499.8 68.2h.01M501.4 37.4h.01M511.5 44.7h.01M490.8 74.4h.01M520.4 60.4h.01M487.5 56.1h.01M516.8 46.8h.01M474.0 92.4h.01M487.0 86.1h.01M506.6 65.6h.01M518.6 46.2h.01M490.4 76.6h.01M482.8 50.4h.01M480.2 56.5h.01M496.3 69.8h.01M493.5 38.0h.01M481.7 42.6h.01M500.4 34.6h.01M514.9 24.6h.01M477.1 61.9h.01M476.8 67.1h.01M493.9 40.6h.01M515.7 43.6h.01M496.8 41.8h.01M514.1 39.9h.01M468.4 50.4h.01M523.0 44.7h.01M492.8 78.6h.01M512.7 53.2h.01M495.8 32.9h.01M476.7 61.1h.01M496.4 44.6h.01M487.1 61.3h.01M527.2 37.7h.01M526.8 38.0h.01M502.5 48.2h.01M503.1 41.1h.01M509.9 26.6h.01M506.5 33.3h.01M458.0 52.3h.01M499.0 52.6h.01M519.4 38.7h.01M516.8 43.8h.01M502.4 34.5h.01M490.5 32.6h.01M522.8 35.0h.01M487.9 39.2h.01M495.2 33.8h.01M516.1 46.2h.01M477.4 63.4h.01M489.9 52.1h.01M473.2 72.1h.01M489.4 58.5h.01M514.9 20.9h.01M505.0 33.3h.01M496.6 62.0h.01M506.5 22.0h.01M487.7 56.3h.01M456.5 49.1h.01M494.4 74.8h.01M511.5 44.1h.01M524.7 37.4h.01M499.4 46.0h.01M452.1 51.2h.01M468.6 69.6h.01M498.4 37.5h.01M500.6 27.7h.01M468.8 53.7h.01M492.1 81.8h.01M494.2 67.5h.01M505.9 53.3h.01M497.7 53.9h.01M489.3 47.4h.01M518.6 36.6h.01M471.1 76.7h.01M475.9 69.4h.01M484.7 73.0h.01M488.2 52.0h.01M494.6 62.4h.01M520.8 50.3h.01M470.6 57.1h.01M499.2 64.0h.01M471.8 81.9h.01M502.4 33.4h.01M494.5 49.5h.01M460.6 57.9h.01M497.7 79.3h.01M473.4 72.4h.01M495.2 44.9h.01M498.3 37.4h.01M466.7 47.9h.01M527.8 40.5h.01M502.1 44.3h.01M505.5 25.6h.01M516.4 28.2h.01M488.7 35.7h.01M495.6 46.3h.01M456.6 57.2h.01M469.0 76.6h.01M501.5 61.3h.01M473.2 68.5h.01M493.5 45.8h.01M518.6 28.6h.01M502.0 45.1h.01M517.4 45.1h.01M506.1 21.7h.01M472.4 66.6h.01M467.7 51.3h.01M499.0 52.7h.01M504.9 50.8h.01M513.9 38.3h.01M491.9 37.4h.01M502.6 36.5h.01M520.6 29.3h.01M474.3 79.9h.01M516.1 27.2h.01M473.5 53.9h.01M455.4 55.4h.01M462.2 59.5h.01M501.1 37.5h.01M515.6 42.7h.01M471.4 62.3h.01M504.0 30.9h.01M527.7 25.4h.01M512.3 50.6h.01M501.8 57.3h.01M474.7 51.6h.01M483.5 61.0h.01M498.3 79.6h.01M503.1 64.4h.01M486.6 67.3h.01M462.1 69.6h.01M477.5 62.3h.01M490.8 61.1h.01M490.8 37.5h.01M492.8 35.7h.01M455.8 57.2h.01M483.2 83.5h.01M496.2 34.7h.01M515.6 27.9h.01M506.9 21.9h.01M503.0 37.8h.01M483.8 81.6h.01M461.8 60.3h.01M504.0 47.3h.01M513.5 21.3h.01M479.2 54.4h.01M494.7 47.8h.01M502.6 39.1h.01M488.3 38.3h.01M489.0 66.4h.01M492.5 49.2h.01M494.0 41.4h.01M472.2 73.3h.01M476.3 76.8h.01M519.2 23.7h.01M521.8 39.4h.01M519.8 44.3h.01M509.2 67.4h.01M503.3 44.0h.01M498.9 43.8h.01M496.5 38.0h.01M507.1 43.4h.01M474.1 74.3h.01M488.4 60.4h.01M525.2 46.1h.01M523.6 30.8h.01M488.2 66.5h.01M513.5 53.2h.01M468.3 51.2h.01M464.5 61.4h.01M487.0 85.6h.01M503.6 63.6h.01M503.6 25.4h.01M449.5 56.6h.01M507.7 39.2h.01M493.0 45.9h.01M504.1 67.7h.01M524.0 37.8h.01M473.5 67.2h.01M466.0 66.0h.01M478.1 72.2h.01M473.3 65.9h.01M465.0 64.7h.01M490.1 54.5h.01M490.7 58.0h.01M514.6 36.6h.01M519.1 21.9h.01M504.6 52.4h.01M518.4 33.8h.01M450.0 51.9h.01M506.1 40.8h.01M509.8 47.2h.01M483.2 55.6h.01M508.4 48.8h.01M510.9 27.5h.01M492.9 57.0h.01M518.2 38.0h.01M487.3 62.5h.01M472.7 58.7h.01M493.7 43.0h.01M451.1 51.2h.01M493.4 78.8h.01M502.9 69.4h.01M503.9 30.3h.01M516.5 40.7h.01M495.1 42.6h.01M473.5 81.9h.01M478.2 66.8h.01M485.3 73.4h.01M490.5 40.5h.01M496.5 59.3h.01M474.3 52.4h.01M492.6 77.9h.01M500.6 28.6h.01M502.0 31.0h.01M519.6 54.7h.01M456.1 55.9h.01M491.2 56.7h.01M462.9 49.0h.01M487.3 78.1h.01M506.0 23.3h.01M475.0 79.6h.01M525.2 49.6h.01M512.7 54.7h.01M484.7 36.4h.01M512.9 19.0h.01M514.5 50.1h.01M484.7 43.8h.01M469.0 71.3h.01M501.8 79.3h.01M515.4 32.5h.01M526.7 45.9h.01M521.3 48.3h.01M502.2 24.3h.01M476.7 68.3h.01M509.2 21.3h.01M521.1 29.5h.01M479.2 74.8h.01M469.9 75.9h.01M504.3 39.5h.01M489.6 84.6h.01M508.3 31.5h.01M527.1 32.7h.01M525.5 33.5h.01M468.1 48.2h.01M527.2 38.7h.01M509.5 39.3h.01M470.5 66.0h.01M452.2 59.9h.01M513.9 44.9h.01M451.8 49.7h.01M494.8 49.0h.01M505.4 64.7h.01M515.5 39.2h.01M499.1 29.1h.01M499.1 44.2h.01M511.6 20.8h.01M452.3 54.6h.01M484.5 44.3h.01M489.6 51.6h.01M505.4 33.4h.01M506.7 23.4h.01M486.3 80.4h.01M455.4 61.0h.01M516.9 28.7h.01M464.3 62.6h.01M512.3 53.5h.01M520.9 58.8h.01M487.0 66.7h.01M463.1 52.9h.01M499.7 71.8h.01M450.8 54.0h.01M502.8 72.3h.01M500.8 70.7h.01M465.5 48.1h.01M508.5 21.5h.01M460.0 57.1h.01M513.4 24.5h.01M492.1 40.5h.01M514.4 53.1h.01M500.9 34.2h.01M492.1 45.1h.01M471.7 75.9h.01M510.8 19.2h.01M496.6 57.7h.01M483.4 71.7h.01M513.0 58.6h.01M515.6 42.2h.01M459.8 58.5h.01M527.5 25.4h.01M470.4 86.8h.01M529.4 31.9h.01M509.5 37.3h.01M504.6 41.5h.01M483.6 73.4h.01M495.6 68.3h.01M501.0 61.5h.01M476.8 73.0h.01M512.4 37.6h.01M470.2 47.3h.01M464.7 47.5h.01M516.5 36.3h.01M484.9 72.1h.01M490.3 36.7h.01M518.9 34.6h.01M485.0 73.6h.01M484.3 42.5h.01M501.9 45.8h.01M501.1 57.3h.01M485.8 74.3h.01M465.9 56.1h.01M449.3 51.6h.01M480.0 69.7h.01M525.9 36.2h.01M527.0 42.8h.01M475.1 68.9h.01M497.3 38.0h.01M493.5 72.1h.01M526.9 29.8h.01M523.1 26.5h.01M527.1 33.1h.01M513.4 19.4h.01M512.2 36.1h.01M526.7 34.2h.01M480.4 50.3h.01M503.0 30.7h.01M491.2 73.2h.01M490.1 42.7h.01M486.5 38.1h.01M507.5 44.3h.01M478.6 72.5h.01M502.0 61.1h.01M462.5 62.4h.01M499.5 36.7h.01M522.0 34.0h.01M501.9 38.2h.01M506.8 22.8h.01M476.7 72.5h.01M511.4 26.6h.01M478.8 55.0h.01M502.4 35.3h.01M484.5 66.5h.01M522.6 28.3h.01M498.3 41.2h.01M527.2 22.5h.01M510.8 28.8h.01M490.9 81.3h.01M482.0 44.0h.01M497.0 40.3h.01M508.8 44.3h.01M515.0 38.6h.01M514.5 37.7h.01M478.2 81.8h.01M492.3 52.9h.01M519.3 34.7h.01M513.2 35.7h.01M472.4 84.3h.01M455.2 62.8h.01M489.8 55.0h.01M482.6 72.6h.01M512.5 45.4h.01M473.9 73.7h.01M476.7 88.1h.01M481.9 63.9h.01M469.5 50.2h.01M506.5 74.9h.01M467.7 57.5h.01M463.2 62.6h.01M503.2 29.3h.01M474.5 76.3h.01M480.7 65.1h.01M496.0 29.5h.01M475.8 70.6h.01M480.0 51.1h.01M526.0 29.6h.01M495.8 69.5h.01M513.5 20.6h.01M486.6 55.9h.01M521.4 44.9h.01M486.3 43.6h.01M497.4 77.7h.01M482.8 48.0h.01M508.2 23.1h.01M483.2 78.1h.01M494.1 73.4h.01M468.3 64.6h.01M501.2 39.5h.01M484.6 83.5h.01M491.7 74.3h.01M499.7 46.9h.01M514.7 21.1h.01M521.3 21.2h.01M475.1 88.7h.01M488.3 43.9h.01M511.0 66.1h.01M518.0 52.0h.01M492.8 49.1h.01M457.8 54.0h.01M492.8 75.9h.01M478.6 59.8h.01M502.5 45.7h.01M492.7 34.1h.01M472.6 61.4h.01M481.2 86.5h.01M515.5 19.6h.01M480.3 71.1h.01M498.6 67.8h.01M521.8 37.8h.01M495.7 78.8h.01M488.5 61.8h.01M480.9 59.5h.01M451.2 50.4h.01M486.4 47.8h.01M516.4 52.7h.01M481.8 41.8h.01M524.9 37.0h.01M459.4 65.6h.01M488.8 43.8h.01M482.7 68.3h.01M465.0 48.6h.01M479.9 70.4h.01M523.5 26.1h.01M477.1 72.2h.01M506.5 27.3h.01M462.8 57.6h.01M489.1 62.8h.01M481.4 68.6h.01M489.2 46.8h.01M486.8 73.6h.01M484.2 45.5h.01M499.6 70.8h.01M513.8 35.9h.01M508.2 55.3h.01M468.9 55.3h.01M519.1 51.7h.01M472.7 91.9h.01M511.2 46.8h.01M496.3 37.8h.01M479.0 47.1h.01M477.5 75.9h.01M503.3 65.6h.01M497.6 40.7h.01M465.9 62.7h.01M473.6 67.1h.01M466.7 62.8h.01M513.4 26.5h.01M453.9 53.4h.01M482.6 56.8h.01M460.5 57.0h.01M477.5 83.4h.01M520.0 45.5h.01M497.9 61.0h.01M501.4 58.6h.01M473.9 82.2h.01M502.1 52.2h.01M507.9 20.8h.01M503.0 56.0h.01M500.5 70.8h.01M500.4 28.9h.01M460.7 56.9h.01M486.9 65.0h.01M464.9 51.9h.01M493.9 75.2h.01M483.2 78.5h.01M507.7 35.7h.01M469.9 74.6h.01M526.4 46.3h.01M519.8 45.5h.01M475.5 73.7h.01M480.4 58.1h.01M523.4 54.1h.01M475.9 79.7h.01M469.5 66.4h.01M477.9 62.1h.01M470.8 83.5h.01" stroke="#756bb1" stroke-width="2.0" stroke-linecap="round" fill="none"/>
<path d="M466.8 61.8h.01M486.1 68.6h.01M475.7 59.9h.01M476.0 53.1h.01M460.8 54.2h.01M520.1 47.9h.01M471.8 61.3h.01M468.1 67.9h.01M522.3 56.0h.01M500.6 76.1h.01M467.4 66.5h.01M511.2 64.3h.01M465.9 50.0h.01M471.0 61.2h.01M513.0 59.8h.01M457.1 51.0h.01M469.4 79.9h.01M458.8 64.9h.01M489.3 85.9h.01M465.1 62.5h.01M463.4 65.5h.01M482.9 76.7h.01M512.3 65.8h.01M501.9 74.4h.01M458.2 64.0h.01M461.7 67.8h.01M515.9 57.8h.01M514.2 66.3h.01M468.7 46.9h.01M501.2 78.2h.01M520.6 59.6h.01M465.9 64.3h.01M520.6 57.9h.01M499.4 77.8h.01M493.1 84.1h.01M496.0 83.4h.01M479.1 60.4h.01M449.8 49.6h.01M472.0 70.6h.01M455.9 58.8h.01M501.6 71.2h.01M471.7 47.3h.01M475.1 85.2h.01M453.0 49.3h.01M454.7 59.9h.01M519.4 52.7h.01M468.8 71.6h.01M480.0 83.6h.01M468.7 75.1h.01M472.9 84.7h.01M449.9 56.9h.01M472.8 91.7h.01M476.2 79.0h.01M477.1 57.8h.01M463.2 61.5h.01M512.8 65.1h.01M500.7 79.6h.01M509.5 61.1h.01M503.5 72.1h.01M513.7 63.1h.01M456.2 53.8h.01M465.9 63.4h.01M507.9 69.7h.01M509.4 66.5h.01M513.6 63.0h.01M476.0 82.1h.01M459.9 58.3h.01M484.4 79.5h.01M492.7 83.4h.01M522.4 56.1h.01M499.8 77.2h.01M519.5 58.6h.01M469.3 82.1h.01M451.3 52.1h.01M514.2 59.0h.01M506.9 66.0h.01M517.5 26.3h.01M456.2 54.7h.01M465.7 51.7h.01M460.4 62.7h.01M466.8 68.1h.01M456.3 56.7h.01M506.4 73.8h.01M462.9 53.4h.01M463.7 45.9h.01M454.0 58.0h.01M458.4 66.1h.01M472.8 56.6h.01M476.7 87.3h.01M505.7 66.0h.01M484.2 84.9h.01M478.5 70.6h.01M518.3 55.4h.01M483.4 73.2h.01M507.6 67.4h.01M487.7 72.9h.01M503.5 74.6h.01M507.2 60.1h.01M508.6 72.5h.01M468.6 69.0h.01M470.8 88.8h.01M469.6 56.4h.01M522.1 51.7h.01M465.4 65.6h.01M517.0 59.9h.01M484.7 81.2h.01M472.2 69.6h.01M468.8 82.2h.01M515.8 57.8h.01M485.2 77.7h.01M467.1 70.9h.01" stroke="#74c476" stroke-width="2.0" stroke-linecap="round" fill="none"/>
<text x="475.8" y="13.5">Groups</text>
<ellipse cx="528.3" cy="73.9" rx="3.3" ry="3.5" fill="#74c476" stroke="#333" stroke-width="0.6"/>
<ellipse cx="528.3" cy="82.8" rx="3.3" ry="3.5" fill="#756bb1" stroke="#333" stroke-width="0.6"/>
<text x="536.0" y="76.7">cHD</text>
<text x="536.0" y="85.7">cSLE</text>
<path d="M608.7 46.1h.01M571.3 50.5h.01M632.2 32.2h.01M617.3 46.6h.01M576.4 55.4h.01M613.6 62.2h.01M603.5 68.6h.01M632.7 40.0h.01M628.2 28.4h.01M596.5 84.1h.01M587.1 49.9h.01M604.4 62.9h.01M582.7 57.5h.01M626.7 54.6h.01M593.1 59.9h.01M612.9 38.1h.01M593.4 53.1h.01M605.8 58.6h.01M565.3 51.7h.01M610.4 43.1h.01M610.3 77.6h.01M610.7 37.3h.01M628.5 56.8h.01M600.9 64.7h.01M606.7 70.7h.01M642.8 38.1h.01M633.6 30.8h.01M607.0 44.1h.01M590.4 72.9h.01M610.2 51.7h.01M591.5 65.5h.01M622.5 25.4h.01M621.5 50.6h.01M601.8 44.1h.01M641.5 38.8h.01M607.9 36.6h.01M589.3 75.7h.01M617.1 49.1h.01M588.3 53.2h.01M603.5 56.4h.01M616.3 69.8h.01M625.5 37.6h.01M588.1 57.5h.01M601.4 38.8h.01M643.1 34.5h.01M601.5 41.3h.01M613.1 45.7h.01M601.5 75.2h.01M641.5 28.2h.01M610.5 48.3h.01M639.7 56.0h.01M626.6 49.7h.01M607.7 47.0h.01M644.9 28.1h.01M584.5 48.7h.01M637.0 20.3h.01M603.4 62.8h.01M576.6 57.9h.01M617.9 41.5h.01M607.7 62.4h.01M603.6 36.3h.01M605.5 69.3h.01M625.7 56.6h.01M643.3 29.6h.01M593.2 90.5h.01M644.6 34.2h.01M639.0 20.9h.01M642.9 20.5h.01M629.4 24.6h.01M626.9 37.2h.01M583.3 50.0h.01M588.4 61.2h.01M625.6 33.6h.01M643.1 26.6h.01M615.7 35.0h.01M630.4 59.8h.01M589.5 90.3h.01M611.2 45.5h.01M624.8 33.9h.01M594.8 56.6h.01M572.8 55.5h.01M644.9 33.5h.01M629.7 35.3h.01M597.2 57.6h.01M573.6 63.7h.01M616.3 41.7h.01M601.2 51.6h.01M615.6 55.4h.01M574.5 51.0h.01M600.8 57.0h.01M641.8 23.6h.01M586.8 79.9h.01M606.2 42.6h.01M593.9 84.3h.01M612.9 68.5h.01M606.7 85.9h.01M642.7 29.3h.01M632.0 31.8h.01M586.0 60.3h.01M591.1 84.8h.01M611.6 41.8h.01M625.5 23.6h.01M623.8 46.3h.01M600.3 76.7h.01M622.8 59.1h.01M579.2 55.8h.01M622.4 56.1h.01M617.9 44.8h.01M600.5 76.8h.01M625.2 51.3h.01M617.2 26.7h.01M605.7 66.2h.01M617.5 52.8h.01M616.5 37.4h.01M601.9 65.4h.01M579.1 67.8h.01M572.2 61.8h.01M596.6 76.0h.01M632.2 53.8h.01M586.1 46.9h.01M589.0 54.7h.01M617.2 68.2h.01M618.8 37.4h.01M637.8 60.4h.01M604.9 56.1h.01M634.2 46.8h.01M591.4 92.4h.01M604.4 86.1h.01M624.0 65.6h.01M636.0 46.2h.01M607.8 76.6h.01M600.2 50.4h.01M597.6 56.5h.01M638.0 59.6h.01M613.7 69.8h.01M610.9 38.0h.01M599.1 42.6h.01M617.8 34.6h.01M632.3 24.6h.01M611.3 40.6h.01M633.1 43.6h.01M614.2 41.8h.01M631.5 39.9h.01M585.8 50.4h.01M638.0 57.9h.01M613.2 32.9h.01M594.1 61.1h.01M616.8 77.8h.01M613.8 44.6h.01M604.5 61.3h.01M644.6 37.7h.01M610.5 84.1h.01M644.2 38.0h.01M619.9 48.2h.01M620.5 41.1h.01M627.3 26.6h.01M623.9 33.3h.01M575.4 52.3h.01M616.4 52.6h.01M636.8 38.7h.01M634.2 43.8h.01M619.8 34.5h.01M607.9 32.6h.01M605.3 39.2h.01M612.6 33.8h.01M594.8 63.4h.01M607.3 52.1h.01M590.6 72.1h.01M606.8 58.5h.01M632.3 20.9h.01M622.4 33.3h.01M614.0 62.0h.01M623.9 22.0h.01M605.1 56.3h.01M573.9 49.1h.01M613.4 83.4h.01M611.8 74.8h.01M628.9 44.1h.01M642.1 37.4h.01M616.8 46.0h.01M615.8 37.5h.01M618.0 27.7h.01M611.6 67.5h.01M623.3 53.3h.01M615.1 53.9h.01M606.7 47.4h.01M636.0 36.6h.01M588.5 76.7h.01M602.1 73.0h.01M596.5 60.4h.01M605.6 52.0h.01M612.0 62.4h.01M588.0 57.1h.01M567.2 49.6h.01M619.8 33.4h.01M611.9 49.5h.01M590.8 72.4h.01M612.6 44.9h.01M615.7 37.4h.01M645.2 40.5h.01M573.3 58.8h.01M619.5 44.3h.01M622.9 25.6h.01M633.8 28.2h.01M606.1 35.7h.01M613.0 46.3h.01M574.0 57.2h.01M586.4 76.6h.01M590.6 68.5h.01M610.9 45.8h.01M636.0 28.6h.01M619.4 45.1h.01M634.8 45.1h.01M623.5 21.7h.01M589.1 47.3h.01M616.4 52.7h.01M622.3 50.8h.01M631.3 38.3h.01M609.3 37.4h.01M620.0 36.5h.01M638.0 29.3h.01M591.7 79.9h.01M633.5 27.2h.01M590.9 53.9h.01M572.8 55.4h.01M579.6 59.5h.01M618.5 37.5h.01M633.0 42.7h.01M588.8 62.3h.01M621.4 30.9h.01M645.1 25.4h.01M619.2 57.3h.01M592.1 51.6h.01M600.9 61.0h.01M604.0 67.3h.01M592.5 85.2h.01M579.5 69.6h.01M594.9 62.3h.01M608.2 61.1h.01M608.2 37.5h.01M610.2 35.7h.01M570.4 49.3h.01M613.6 34.7h.01M633.0 27.9h.01M624.3 21.9h.01M620.4 37.8h.01M579.2 60.3h.01M621.4 47.3h.01M630.9 21.3h.01M596.6 54.4h.01M612.1 47.8h.01M620.0 39.1h.01M605.7 38.3h.01M606.4 66.4h.01M609.9 49.2h.01M611.4 41.4h.01M593.7 76.8h.01M636.6 23.7h.01M639.2 39.4h.01M637.2 44.3h.01M620.7 44.0h.01M616.3 43.8h.01M613.9 38.0h.01M624.5 43.4h.01M605.8 60.4h.01M641.0 30.8h.01M605.6 66.5h.01M630.9 53.2h.01M585.7 51.2h.01M621.0 25.4h.01M590.3 84.7h.01M625.1 39.2h.01M567.3 56.9h.01M610.4 45.9h.01M641.4 37.8h.01M590.9 67.2h.01M590.2 91.7h.01M595.5 72.2h.01M607.5 54.5h.01M608.1 58.0h.01M632.0 36.6h.01M636.5 21.9h.01M593.6 79.0h.01M622.0 52.4h.01M594.5 57.8h.01M635.8 33.8h.01M623.5 40.8h.01M627.2 47.2h.01M600.6 55.6h.01M625.8 48.8h.01M628.3 27.5h.01M635.6 38.0h.01M604.7 62.5h.01M611.1 43.0h.01M568.5 51.2h.01M610.8 78.8h.01M620.3 69.4h.01M621.3 30.3h.01M633.9 40.7h.01M612.5 42.6h.01M590.9 81.9h.01M595.6 66.8h.01M602.7 73.4h.01M607.9 40.5h.01M613.9 59.3h.01M591.7 52.4h.01M610.0 77.9h.01M618.0 28.6h.01M619.4 31.0h.01M573.6 53.8h.01M608.6 56.7h.01M580.3 49.0h.01M623.4 23.3h.01M592.4 79.6h.01M630.1 54.7h.01M602.1 36.4h.01M630.3 19.0h.01M631.9 50.1h.01M602.1 43.8h.01M593.4 82.1h.01M632.8 32.5h.01M577.3 58.3h.01M610.1 83.4h.01M619.6 24.3h.01M594.1 68.3h.01M639.8 56.1h.01M626.6 21.3h.01M638.5 29.5h.01M596.6 74.8h.01M621.7 39.5h.01M607.0 84.6h.01M625.7 31.5h.01M644.5 32.7h.01M642.9 33.5h.01M585.5 48.2h.01M644.6 38.7h.01M626.9 39.3h.01M587.9 66.0h.01M569.6 59.9h.01M631.3 44.9h.01M636.9 58.6h.01M612.2 49.0h.01M622.8 64.7h.01M632.9 39.2h.01M616.5 29.1h.01M568.7 52.1h.01M616.5 44.2h.01M629.0 20.8h.01M569.7 54.6h.01M601.9 44.3h.01M607.0 51.6h.01M622.8 33.4h.01M624.1 23.4h.01M624.3 66.0h.01M603.7 80.4h.01M634.3 28.7h.01M581.7 62.6h.01M638.3 58.8h.01M604.4 66.7h.01M580.5 52.9h.01M568.2 54.0h.01M620.2 72.3h.01M582.9 48.1h.01M625.9 21.5h.01M577.4 57.1h.01M630.8 24.5h.01M609.5 40.5h.01M631.8 53.1h.01M618.3 34.2h.01M609.5 45.1h.01M634.9 26.3h.01M628.2 19.2h.01M614.0 57.7h.01M600.8 71.7h.01M633.0 42.2h.01M644.9 25.4h.01M587.8 86.8h.01M646.8 31.9h.01M626.9 37.3h.01M622.0 41.5h.01M601.0 73.4h.01M618.4 61.5h.01M594.2 73.0h.01M629.8 37.6h.01M633.9 36.3h.01M602.3 72.1h.01M573.6 54.7h.01M583.1 51.7h.01M607.7 36.7h.01M636.3 34.6h.01M602.4 73.6h.01M601.7 42.5h.01M619.3 45.8h.01M618.5 57.3h.01M603.2 74.3h.01M583.3 56.1h.01M566.7 51.6h.01M643.3 36.2h.01M644.4 42.8h.01M592.5 68.9h.01M614.7 38.0h.01M644.3 29.8h.01M640.5 26.5h.01M644.5 33.1h.01M630.8 19.4h.01M629.6 36.1h.01M597.8 50.3h.01M620.4 30.7h.01M608.6 73.2h.01M607.5 42.7h.01M603.9 38.1h.01M624.9 44.3h.01M579.9 62.4h.01M616.9 36.7h.01M639.4 34.0h.01M619.3 38.2h.01M624.2 22.8h.01M594.1 72.5h.01M628.8 26.6h.01M596.2 55.0h.01M619.8 35.3h.01M601.9 66.5h.01M640.0 28.3h.01M615.7 41.2h.01M644.6 22.5h.01M628.2 28.8h.01M608.3 81.3h.01M599.4 44.0h.01M614.4 40.3h.01M623.8 73.8h.01M626.2 44.3h.01M632.4 38.6h.01M631.9 37.7h.01M595.6 81.8h.01M609.7 52.9h.01M636.7 34.7h.01M630.6 35.7h.01M589.8 84.3h.01M607.2 55.0h.01M581.1 45.9h.01M571.4 58.0h.01M629.9 45.4h.01M599.3 63.9h.01M585.1 57.5h.01M620.6 29.3h.01M591.9 76.3h.01M590.2 56.6h.01M613.4 29.5h.01M597.4 51.1h.01M643.4 29.6h.01M630.9 20.6h.01M603.7 43.6h.01M614.8 77.7h.01M594.1 87.3h.01M623.1 66.0h.01M600.2 48.0h.01M625.6 23.1h.01M601.6 84.9h.01M585.7 64.6h.01M635.7 55.4h.01M600.8 73.2h.01M605.1 72.9h.01M618.6 39.5h.01M617.1 46.9h.01M632.1 21.1h.01M638.7 21.2h.01M592.5 88.7h.01M605.7 43.9h.01M628.4 66.1h.01M635.4 52.0h.01M575.2 54.0h.01M596.0 59.8h.01M619.9 45.7h.01M610.1 34.1h.01M590.0 61.4h.01M632.9 19.6h.01M597.7 71.1h.01M616.0 67.8h.01M639.2 37.8h.01M605.9 61.8h.01M598.3 59.5h.01M568.6 50.4h.01M603.8 47.8h.01M633.8 52.7h.01M599.2 41.8h.01M642.3 37.0h.01M606.2 43.8h.01M600.1 68.3h.01M582.4 48.6h.01M597.3 70.4h.01M640.9 26.1h.01M588.2 88.8h.01M594.5 72.2h.01M623.9 27.3h.01M580.2 57.6h.01M606.5 62.8h.01M587.0 56.4h.01M598.8 68.6h.01M606.6 46.8h.01M604.2 73.6h.01M601.6 45.5h.01M631.2 35.9h.01M586.3 55.3h.01M590.1 91.9h.01M628.6 46.8h.01M613.7 37.8h.01M596.4 47.1h.01M594.9 75.9h.01M620.7 65.6h.01M615.0 40.7h.01M584.1 62.8h.01M582.8 65.6h.01M634.4 59.9h.01M630.8 26.5h.01M600.0 56.8h.01M594.9 83.4h.01M615.3 61.0h.01M618.8 58.6h.01M619.5 52.2h.01M602.1 81.2h.01M625.3 20.8h.01M620.4 56.0h.01M617.8 28.9h.01M604.3 65.0h.01M589.6 69.6h.01M582.3 51.9h.01M633.2 57.8h.01M625.1 35.7h.01M602.6 77.7h.01M592.9 73.7h.01M597.8 58.1h.01M593.3 79.7h.01M588.2 83.5h.01" stroke="#ff0000" stroke-width="2.0" stroke-linecap="round" fill="none"/>
<path d="M581.0 69.8h.01M590.1 62.6h.01M584.2 61.8h.01M573.6 50.1h.01M585.9 80.9h.01M585.6 46.2h.01M578.2 54.2h.01M583.2 62.7h.01M637.5 47.9h.01M575.4 58.0h.01M626.5 56.4h.01M589.2 61.3h.01M584.8 66.5h.01M582.5 63.8h.01M582.4 50.0h.01M641.9 43.4h.01M628.6 64.3h.01M585.1 63.7h.01M572.2 48.3h.01M573.4 58.5h.01M576.2 64.9h.01M582.8 67.7h.01M582.5 62.5h.01M580.8 65.5h.01M629.7 65.8h.01M583.3 53.3h.01M608.2 74.4h.01M618.6 78.2h.01M594.5 61.9h.01M594.2 67.1h.01M633.5 46.2h.01M569.5 51.2h.01M586.0 69.6h.01M586.2 53.7h.01M609.5 81.8h.01M593.3 69.4h.01M589.4 70.6h.01M578.0 57.9h.01M615.1 79.3h.01M619.0 71.2h.01M589.8 66.6h.01M585.1 51.3h.01M629.7 50.6h.01M573.2 57.2h.01M572.1 59.9h.01M601.2 81.6h.01M586.2 71.6h.01M626.6 67.4h.01M591.5 74.3h.01M642.6 46.1h.01M597.4 83.6h.01M581.9 61.4h.01M586.1 75.1h.01M604.4 85.6h.01M621.0 63.6h.01M566.9 56.6h.01M621.5 67.7h.01M583.4 66.0h.01M590.7 65.9h.01M582.4 64.7h.01M580.6 61.5h.01M626.9 61.1h.01M590.1 58.7h.01M604.7 78.1h.01M583.3 63.4h.01M642.6 49.6h.01M625.3 69.7h.01M626.8 66.5h.01M631.0 63.0h.01M586.4 71.3h.01M644.1 45.9h.01M638.7 48.3h.01M587.3 75.9h.01M617.2 77.2h.01M569.2 49.7h.01M631.6 59.0h.01M572.8 61.0h.01M589.1 75.9h.01M587.6 47.3h.01M582.1 47.5h.01M597.4 69.7h.01M610.9 72.1h.01M577.8 62.7h.01M584.2 68.1h.01M596.0 72.5h.01M573.7 56.7h.01M580.3 53.4h.01M600.0 72.6h.01M591.3 73.7h.01M594.1 88.1h.01M575.8 66.1h.01M580.6 62.6h.01M593.2 70.6h.01M604.0 55.9h.01M600.6 78.1h.01M611.5 73.4h.01M602.0 83.5h.01M609.1 74.3h.01M620.9 74.6h.01M610.2 75.9h.01M598.6 86.5h.01M624.6 60.1h.01M576.8 65.6h.01M586.0 69.0h.01M617.0 70.8h.01M639.5 51.7h.01M583.3 62.7h.01M591.0 67.1h.01M571.3 53.4h.01M577.9 57.0h.01M591.3 82.2h.01M578.1 56.9h.01M611.3 75.2h.01M586.2 82.2h.01M600.6 78.5h.01M584.5 70.9h.01M637.2 45.5h.01" stroke="#8c8c8c" stroke-width="2.0" stroke-linecap="round" fill="none"/>
<path d="M596.6 48.6h.01M625.2 60.1h.01M621.0 70.8h.01M585.5 67.9h.01M618.0 76.1h.01M639.1 44.1h.01M643.8 47.7h.01M605.5 72.0h.01M572.3 54.3h.01M591.2 69.6h.01M597.8 85.0h.01M615.8 80.6h.01M602.7 74.4h.01M629.9 58.0h.01M640.1 29.5h.01M619.3 74.4h.01M575.6 64.0h.01M633.3 57.8h.01M631.6 66.3h.01M628.9 44.7h.01M640.4 44.7h.01M610.2 78.6h.01M583.3 64.3h.01M630.1 53.2h.01M640.2 35.0h.01M638.2 50.3h.01M616.6 64.0h.01M589.2 81.9h.01M584.1 47.9h.01M618.9 61.3h.01M615.7 79.6h.01M620.5 64.4h.01M600.6 83.5h.01M636.8 52.7h.01M589.6 73.3h.01M630.2 65.1h.01M567.4 51.9h.01M618.1 79.6h.01M620.9 72.1h.01M610.3 57.0h.01M631.1 63.1h.01M637.0 54.7h.01M573.5 55.9h.01M619.2 79.3h.01M601.8 79.5h.01M586.7 82.1h.01M629.7 53.5h.01M617.1 71.8h.01M618.2 70.7h.01M630.4 58.6h.01M577.2 58.5h.01M613.0 68.3h.01M644.1 34.2h.01M619.4 61.1h.01M572.6 62.8h.01M586.9 50.2h.01M623.9 74.9h.01M598.1 65.1h.01M613.2 69.5h.01M638.8 44.9h.01M595.9 70.6h.01M625.0 67.4h.01M610.2 49.1h.01M613.1 78.8h.01M626.0 72.5h.01M625.6 55.3h.01M636.5 51.7h.01M637.4 45.5h.01M617.9 70.8h.01M587.3 74.6h.01M643.8 46.3h.01M640.8 54.1h.01M586.9 66.4h.01M595.3 62.1h.01" stroke="#ffff00" stroke-width="2.0" stroke-linecap="round" fill="none"/>
<text x="590.3" y="13.5">SLEDAI</text>
<ellipse cx="655.4" cy="55.5" rx="4.0" ry="2.9" fill="#a8a8a8" stroke="#333" stroke-width="0.6"/>
<text x="664.8" y="58.3">None</text>
<ellipse cx="655.4" cy="64.9" rx="4.0" ry="2.9" fill="#ffff00" stroke="#333" stroke-width="0.6"/>
<text x="664.8" y="67.7">≤4</text>
<ellipse cx="655.4" cy="74.3" rx="4.0" ry="2.9" fill="#ff0000" stroke="#333" stroke-width="0.6"/>
<text x="664.8" y="77.1">&gt;4</text>
<ellipse cx="655.4" cy="83.7" rx="4.0" ry="2.9" fill="#d3f2e3" stroke="#333" stroke-width="0.6"/>
<text x="664.8" y="86.5">ND</text>
<path d="M397.1 133.8h.01M345.9 171.4h.01M349.1 163.4h.01M341.3 157.0h.01M368.4 170.2h.01M397.6 141.6h.01M393.1 130.0h.01M352.0 151.5h.01M369.3 164.5h.01M361.5 150.2h.01M347.6 159.1h.01M391.6 156.2h.01M358.0 161.5h.01M377.8 139.7h.01M370.7 160.2h.01M330.2 153.3h.01M375.2 179.2h.01M393.4 158.4h.01M365.8 166.3h.01M371.6 172.3h.01M371.9 145.7h.01M355.3 174.5h.01M356.4 167.1h.01M386.4 152.2h.01M366.7 145.7h.01M406.4 140.4h.01M372.8 138.2h.01M368.4 158.0h.01M348.1 164.3h.01M381.2 171.4h.01M390.4 139.2h.01M366.3 140.4h.01M366.4 142.9h.01M366.4 176.8h.01M372.6 148.6h.01M349.4 150.3h.01M382.9 177.7h.01M349.7 168.1h.01M372.6 164.0h.01M347.4 165.4h.01M368.5 137.9h.01M370.4 170.9h.01M390.6 158.2h.01M347.3 151.6h.01M408.2 131.2h.01M404.0 145.7h.01M393.5 165.9h.01M394.3 126.2h.01M391.8 138.8h.01M370.4 173.6h.01M390.5 135.2h.01M356.1 171.2h.01M395.3 161.4h.01M354.4 191.9h.01M362.7 186.6h.01M337.7 157.1h.01M409.8 135.1h.01M394.6 136.9h.01M362.1 159.2h.01M338.5 165.3h.01M381.2 143.3h.01M380.5 157.0h.01M339.4 152.6h.01M365.7 158.6h.01M406.7 125.2h.01M338.3 160.1h.01M358.8 185.9h.01M377.8 170.1h.01M371.6 187.5h.01M347.7 169.3h.01M396.9 133.4h.01M367.6 176.0h.01M350.9 161.9h.01M405.0 131.1h.01M390.4 125.2h.01M388.7 147.9h.01M365.2 178.3h.01M344.1 157.4h.01M394.6 167.4h.01M365.4 178.4h.01M390.1 152.9h.01M370.6 167.8h.01M340.5 165.6h.01M382.4 154.4h.01M381.4 139.0h.01M366.8 167.0h.01M398.2 159.4h.01M396.5 167.9h.01M351.0 148.5h.01M383.7 139.0h.01M369.8 157.7h.01M356.3 194.0h.01M388.9 167.2h.01M400.9 147.8h.01M372.7 178.2h.01M365.1 152.0h.01M382.7 136.2h.01M359.4 163.5h.01M359.1 168.7h.01M398.0 145.2h.01M350.7 152.0h.01M348.2 165.9h.01M395.0 154.8h.01M402.9 159.5h.01M378.1 134.5h.01M359.0 162.7h.01M369.4 162.9h.01M375.4 185.7h.01M340.3 153.9h.01M401.7 140.3h.01M377.5 135.4h.01M398.4 147.8h.01M372.2 153.7h.01M355.5 173.7h.01M371.7 160.1h.01M397.2 122.5h.01M387.3 134.9h.01M378.9 163.6h.01M370.0 157.9h.01M376.7 176.4h.01M393.8 145.7h.01M407.0 139.0h.01M381.7 147.6h.01M380.7 139.1h.01M374.4 183.4h.01M380.0 155.5h.01M371.6 149.0h.01M367.0 174.6h.01M403.1 151.9h.01M352.9 158.7h.01M381.5 165.6h.01M354.3 172.2h.01M354.1 183.5h.01M384.7 135.0h.01M342.9 159.5h.01M377.5 146.5h.01M410.1 142.1h.01M338.2 160.4h.01M384.4 145.9h.01M338.9 158.8h.01M351.3 178.2h.01M375.8 147.4h.01M400.9 130.2h.01M384.3 146.7h.01M399.7 146.7h.01M354.0 148.9h.01M381.3 154.3h.01M387.2 152.4h.01M396.2 139.9h.01M374.2 139.0h.01M356.6 181.5h.01M355.8 155.5h.01M344.5 161.1h.01M383.4 139.1h.01M397.9 144.3h.01M353.7 163.9h.01M386.3 132.5h.01M357.0 153.2h.01M365.8 162.6h.01M385.4 166.0h.01M368.9 168.9h.01M357.4 186.8h.01M373.1 162.7h.01M373.1 139.1h.01M375.1 137.3h.01M365.5 185.1h.01M378.5 136.3h.01M397.9 129.5h.01M337.0 161.5h.01M385.3 139.4h.01M344.1 161.9h.01M395.8 122.9h.01M361.5 156.0h.01M377.0 149.4h.01M384.9 140.7h.01M371.3 168.0h.01M358.6 178.4h.01M402.1 145.9h.01M378.8 139.6h.01M389.4 145.0h.01M356.4 175.9h.01M407.5 147.7h.01M405.9 132.4h.01M370.5 168.1h.01M395.8 154.8h.01M362.3 185.2h.01M350.6 152.8h.01M346.8 163.0h.01M331.8 158.2h.01M390.0 140.8h.01M375.3 147.5h.01M386.4 169.3h.01M406.3 139.4h.01M355.8 168.8h.01M355.6 167.5h.01M347.3 166.3h.01M372.4 156.1h.01M373.0 159.6h.01M386.9 154.0h.01M400.7 135.4h.01M395.1 166.7h.01M332.3 153.5h.01M365.5 157.2h.01M391.8 162.7h.01M375.2 158.6h.01M400.5 139.6h.01M376.0 144.6h.01M396.0 164.7h.01M333.4 152.8h.01M385.2 171.0h.01M386.2 131.9h.01M398.8 142.3h.01M367.6 175.0h.01M356.6 154.0h.01M401.9 156.3h.01M338.4 157.5h.01M338.5 155.4h.01M373.5 158.3h.01M345.2 150.6h.01M388.3 124.9h.01M357.3 181.2h.01M367.0 138.0h.01M396.8 151.7h.01M367.0 145.4h.01M358.3 183.7h.01M384.1 180.9h.01M366.7 181.1h.01M375.0 185.0h.01M404.7 157.7h.01M391.5 122.9h.01M403.4 131.1h.01M361.5 176.4h.01M371.9 186.2h.01M409.4 134.3h.01M350.4 149.8h.01M352.8 167.6h.01M334.1 151.3h.01M377.1 150.6h.01M351.6 183.7h.01M397.8 140.8h.01M381.4 145.8h.01M393.9 122.4h.01M387.7 135.0h.01M368.6 182.0h.01M337.7 162.6h.01M399.2 130.3h.01M346.6 164.2h.01M369.3 168.3h.01M385.1 173.9h.01M390.8 123.1h.01M395.7 126.1h.01M374.4 142.1h.01M374.4 146.7h.01M354.0 177.5h.01M393.1 120.8h.01M378.9 159.3h.01M365.7 173.3h.01M395.3 160.2h.01M342.1 160.1h.01M411.7 133.5h.01M391.8 138.9h.01M347.0 149.1h.01M398.8 137.9h.01M372.6 138.3h.01M401.2 136.2h.01M367.3 175.2h.01M384.2 147.4h.01M383.4 158.9h.01M368.1 175.9h.01M408.2 137.8h.01M409.3 144.4h.01M375.8 173.7h.01M342.7 164.3h.01M405.4 128.1h.01M349.1 169.7h.01M362.7 151.9h.01M385.3 132.3h.01M381.8 138.3h.01M404.3 135.6h.01M384.2 139.8h.01M389.1 124.4h.01M338.6 158.3h.01M359.0 174.1h.01M393.7 128.2h.01M366.8 168.1h.01M404.9 129.9h.01M409.5 124.1h.01M393.1 130.4h.01M373.2 182.9h.01M364.3 145.6h.01M379.3 141.9h.01M388.7 175.4h.01M397.3 140.2h.01M360.5 183.4h.01M401.6 136.3h.01M395.5 137.3h.01M372.1 156.6h.01M346.0 147.5h.01M336.3 159.6h.01M356.2 175.3h.01M351.8 151.8h.01M388.8 176.5h.01M350.0 159.1h.01M345.5 164.2h.01M356.8 177.9h.01M378.3 131.1h.01M395.8 122.2h.01M365.1 149.6h.01M390.5 124.7h.01M350.6 166.2h.01M400.6 157.0h.01M389.9 169.0h.01M366.9 185.1h.01M382.0 148.5h.01M397.0 122.7h.01M403.6 122.8h.01M357.4 190.3h.01M393.3 167.7h.01M385.8 176.2h.01M384.8 147.3h.01M354.9 163.0h.01M362.6 172.7h.01M389.5 161.7h.01M404.1 139.4h.01M363.2 161.1h.01M333.5 152.0h.01M368.7 149.4h.01M390.9 174.1h.01M405.8 127.7h.01M353.1 190.4h.01M359.4 173.8h.01M345.1 159.2h.01M371.4 164.4h.01M351.9 158.0h.01M363.7 170.2h.01M371.5 148.4h.01M396.1 137.5h.01M351.2 156.9h.01M401.4 153.3h.01M355.0 193.5h.01M393.5 148.4h.01M359.8 177.5h.01M385.6 167.2h.01M347.7 167.2h.01M399.3 161.5h.01M364.9 158.4h.01M359.8 185.0h.01M402.3 147.1h.01M380.2 162.6h.01M367.0 182.8h.01M390.2 122.4h.01M385.3 157.6h.01M382.8 172.4h.01M369.2 166.6h.01M354.5 171.2h.01M347.2 153.5h.01M365.5 180.1h.01M352.2 176.2h.01M349.4 172.5h.01M408.7 147.9h.01M362.7 159.7h.01M358.2 181.3h.01M351.8 168.0h.01M360.2 163.7h.01" stroke="#fff7ec" stroke-width="1.85" stroke-linecap="round" fill="none"/>
<path d="M358.3 154.7h.01M402.4 149.5h.01M353.3 162.8h.01M388.8 134.9h.01M376.8 151.1h.01M349.0 149.5h.01M398.4 128.8h.01M351.0 176.7h.01M345.5 163.1h.01M383.0 181.2h.01M385.8 173.7h.01M403.6 149.9h.01M401.8 160.2h.01M383.2 135.8h.01M365.9 175.0h.01M383.3 163.1h.01M374.6 154.5h.01M394.8 147.0h.01M340.7 167.7h.01M385.5 130.9h.01M378.1 171.1h.01M404.4 153.3h.01M361.3 148.7h.01M355.9 168.7h.01M395.7 128.1h.01M356.2 183.8h.01M376.2 176.8h.01" stroke="#feeacd" stroke-width="1.85" stroke-linecap="round" fill="none"/>
<path d="M361.4 185.7h.01M350.5 147.8h.01M398.5 132.4h.01M385.9 172.4h.01M354.1 162.9h.01M401.9 121.9h.01M368.3 164.4h.01M406.8 145.0h.01M409.5 135.8h.01M359.7 158.2h.01M351.7 181.5h.01M371.1 144.2h.01M407.6 130.9h.01M337.1 163.4h.01M353.9 156.3h.01M382.1 169.8h.01M397.2 126.2h.01M385.4 142.7h.01M384.7 136.1h.01M382.9 129.3h.01M388.2 154.9h.01M380.0 180.9h.01M355.7 174.0h.01M371.0 137.3h.01M337.7 157.0h.01M394.6 152.2h.01M338.1 158.8h.01M389.2 123.5h.01M351.1 173.2h.01M391.5 169.0h.01M369.3 187.2h.01M385.9 165.2h.01M332.2 158.5h.01M401.4 123.5h.01M358.5 180.6h.01M377.4 144.2h.01M372.8 142.1h.01M378.8 160.9h.01M390.2 171.3h.01M395.9 164.6h.01M382.1 178.8h.01M333.6 153.7h.01M371.9 153.2h.01M367.2 173.7h.01M348.0 153.3h.01M348.2 157.7h.01M409.4 134.7h.01M368.8 139.7h.01M389.8 145.9h.01M360.9 174.1h.01M358.1 172.2h.01M359.0 188.9h.01M400.3 153.6h.01M340.1 155.6h.01M375.0 135.7h.01M365.0 169.9h.01M350.9 170.6h.01M388.8 128.9h.01M369.1 175.2h.01M349.0 164.4h.01M351.1 183.8h.01M367.5 179.3h.01M357.8 175.3h.01" stroke="#fedfb6" stroke-width="1.85" stroke-linecap="round" fill="none"/>
<path d="M382.2 148.2h.01M343.1 155.8h.01M375.6 138.9h.01M387.4 127.0h.01M382.0 150.7h.01M353.0 159.1h.01M350.4 169.5h.01M391.5 151.3h.01M358.1 192.1h.01M408.7 149.3h.01M389.7 135.5h.01M341.1 166.5h.01M394.8 159.6h.01M387.3 157.7h.01M382.1 128.3h.01M402.9 161.2h.01M378.6 171.4h.01M364.0 144.2h.01M379.1 143.4h.01M396.4 141.5h.01M405.3 146.3h.01M409.1 139.6h.01M381.3 154.2h.01M399.1 145.4h.01M372.8 134.2h.01M370.2 140.8h.01M388.8 123.6h.01M376.5 169.1h.01M353.4 178.3h.01M361.4 162.0h.01M370.5 153.6h.01M377.9 147.9h.01M383.8 162.9h.01M355.5 170.1h.01M350.0 152.9h.01M410.0 127.0h.01M359.8 163.9h.01M335.3 150.9h.01M386.3 148.9h.01M370.6 139.9h.01M374.8 150.8h.01M404.1 141.0h.01M370.7 162.0h.01M385.9 127.0h.01M348.3 167.6h.01M360.4 173.8h.01M396.9 138.2h.01M390.7 150.4h.01M375.7 180.4h.01M407.5 151.2h.01M351.3 172.9h.01M397.7 134.1h.01M396.5 160.6h.01M334.6 156.2h.01M389.2 167.6h.01M345.4 154.5h.01M383.1 172.3h.01M396.7 154.7h.01M352.7 188.4h.01M338.5 156.3h.01M409.2 131.4h.01M409.0 135.8h.01M384.3 162.7h.01M344.8 164.0h.01M361.1 156.6h.01M396.8 139.3h.01M354.7 185.9h.01M355.1 158.2h.01M362.3 152.7h.01M408.3 131.2h.01M368.9 157.5h.01M366.5 186.5h.01M360.8 172.2h.01M370.0 174.5h.01M360.9 161.4h.01M407.2 138.6h.01M371.1 145.4h.01M366.5 147.1h.01M390.5 156.9h.01M378.6 139.4h.01M379.9 142.3h.01M336.2 155.0h.01M383.7 160.2h.01M382.7 130.5h.01M343.0 158.5h.01M402.1 147.1h.01M353.1 185.1h.01" stroke="#fdd49e" stroke-width="1.85" stroke-linecap="round" fill="none"/>
<path d="M355.0 164.2h.01M378.5 163.8h.01M350.8 182.5h.01M375.3 144.7h.01M407.7 139.7h.01M390.1 161.7h.01M353.2 154.8h.01M340.3 159.6h.01M408.0 136.1h.01M375.4 149.9h.01M409.8 129.7h.01M382.8 143.1h.01M337.2 155.9h.01M337.1 149.9h.01M376.1 147.1h.01M347.4 164.1h.01M387.7 160.7h.01M384.2 176.0h.01M361.5 177.6h.01M399.1 148.4h.01M383.5 179.8h.01M376.2 142.2h.01M378.7 146.2h.01M409.5 139.3h.01M359.7 165.0h.01M338.8 150.7h.01M378.3 185.0h.01M334.4 152.8h.01M358.2 171.0h.01M387.8 127.2h.01M388.4 123.3h.01M354.7 168.2h.01M384.9 138.1h.01M384.1 158.9h.01M376.3 143.0h.01M354.5 174.9h.01M392.1 148.8h.01M355.0 160.3h.01M360.5 168.4h.01M374.9 179.5h.01M384.3 132.6h.01M369.6 179.7h.01M409.0 147.5h.01M384.5 125.9h.01M359.0 169.9h.01M390.6 133.1h.01M389.0 125.0h.01M347.8 149.7h.01M342.3 158.7h.01M399.8 127.9h.01M397.9 143.8h.01M409.8 127.0h.01M386.9 143.1h.01M359.1 174.6h.01M394.7 139.2h.01M352.5 148.9h.01M366.6 144.1h.01M357.4 170.5h.01M384.7 136.9h.01M345.2 155.0h.01M337.5 164.4h.01M364.9 174.2h.01M364.2 165.5h.01M363.0 166.7h.01M388.0 167.6h.01M365.7 174.8h.01M397.8 121.2h.01M380.9 169.4h.01M378.0 180.4h.01M370.8 163.4h.01M398.7 154.3h.01M347.3 150.2h.01M348.2 164.3h.01M384.4 153.8h.01" stroke="#fdc68f" stroke-width="1.85" stroke-linecap="round" fill="none"/>
<path d="M373.6 147.7h.01M375.1 153.3h.01M354.2 177.3h.01M404.6 157.6h.01M403.9 122.5h.01M407.8 122.1h.01M350.0 165.3h.01M380.7 182.2h.01M366.1 153.2h.01M356.0 186.4h.01M348.2 154.9h.01M344.0 169.4h.01M397.1 155.4h.01M393.8 146.3h.01M402.7 162.0h.01M381.7 179.4h.01M384.8 149.8h.01M405.1 136.6h.01M350.9 171.2h.01M351.1 155.3h.01M376.9 164.0h.01M332.1 151.2h.01M380.6 139.0h.01M383.9 172.8h.01M366.1 183.2h.01M385.6 145.6h.01M355.2 186.3h.01M359.4 159.4h.01M388.4 142.4h.01M369.6 164.1h.01M382.9 130.2h.01M352.2 177.5h.01M409.5 140.3h.01M381.4 130.7h.01M394.6 155.1h.01M382.0 173.4h.01M373.5 174.8h.01M391.1 145.9h.01M379.7 179.3h.01M365.5 179.7h.01M376.4 175.0h.01M383.5 141.1h.01M374.0 175.9h.01M370.6 145.5h.01M375.1 150.7h.01M375.1 177.5h.01M364.1 143.4h.01M362.2 172.0h.01M390.0 137.3h.01" stroke="#fdb47e" stroke-width="1.85" stroke-linecap="round" fill="none"/>
<path d="M380.6 136.6h.01M382.8 146.4h.01M398.7 129.8h.01M401.7 154.3h.01M366.8 145.9h.01M403.2 160.4h.01M331.6 153.2h.01M398.1 159.4h.01M405.7 155.7h.01" stroke="#fc9a65" stroke-width="1.85" stroke-linecap="round" fill="none"/>
<path d="M336.2 152.1h.01M345.7 167.1h.01M373.1 176.0h.01M369.3 187.7h.01M375.8 139.6h.01M375.1 180.2h.01M402.9 130.9h.01M381.2 145.4h.01M395.0 156.3h.01M395.2 120.6h.01M391.8 140.9h.01M334.5 161.5h.01M396.2 146.5h.01M333.1 155.6h.01M379.6 139.6h.01M395.7 121.0h.01M372.4 144.3h.01" stroke="#f88254" stroke-width="1.85" stroke-linecap="round" fill="none"/>
<path d="M378.0 147.3h.01M341.5 159.5h.01M376.5 143.4h.01M392.2 128.2h.01M380.6 181.2h.01M355.1 193.3h.01M393.2 129.1h.01M355.8 183.5h.01M407.8 135.1h.01M387.7 166.3h.01M377.9 169.9h.01M362.3 171.3h.01M359.0 189.7h.01" stroke="#f16b4a" stroke-width="1.85" stroke-linecap="round" fill="none"/>
<path d="M338.5 151.7h.01M408.0 128.2h.01M400.9 138.2h.01M344.4 171.2h.01M401.5 125.3h.01M348.2 165.0h.01M391.7 168.1h.01M342.2 159.9h.01M341.7 167.2h.01" stroke="#e54e36" stroke-width="1.85" stroke-linecap="round" fill="none"/>
<path d="M391.4 158.0h.01M406.4 129.8h.01M348.2 151.6h.01M362.5 158.1h.01M386.6 141.1h.01M394.5 137.7h.01M403.7 146.5h.01M368.6 145.2h.01M363.5 188.1h.01M381.9 172.4h.01M342.8 158.6h.01" stroke="#d7301f" stroke-width="1.85" stroke-linecap="round" fill="none"/>
<path d="M380.6 142.8h.01" stroke="#c2150d" stroke-width="1.85" stroke-linecap="round" fill="none"/>
<text x="371.3" y="115.6" text-anchor="middle" font-style="italic">CD19</text>
<rect x="416.7" y="117.80" width="3.0" height="80.70" fill="url(#orrd)" stroke="#8a8a8a" stroke-width="0.45"/>
<line x1="419.7" x2="422.9" y1="198.50" y2="198.50" stroke="#333" stroke-width="0.75"/>
<text x="426.5" y="201.6">0</text>
<line x1="419.7" x2="422.9" y1="162.23" y2="162.23" stroke="#333" stroke-width="0.75"/>
<text x="426.5" y="165.33">0.8</text>
<line x1="419.7" x2="422.9" y1="125.96" y2="125.96" stroke="#333" stroke-width="0.75"/>
<text x="426.5" y="129.06">1.6</text>
<path d="M488.4 160.2h.01M527.5 129.7h.01M525.9 131.2h.01M508.2 135.2h.01M498.2 157.0h.01M525.3 130.9h.01M485.3 176.0h.01M514.2 167.9h.01M520.4 162.0h.01M523.0 146.3h.01M496.4 146.2h.01M519.4 140.3h.01M496.0 185.0h.01M492.1 183.4h.01M488.7 137.3h.01M456.6 158.8h.01M471.4 163.9h.01M479.2 156.0h.01M502.6 140.7h.01M492.5 150.8h.01M519.4 154.3h.01M496.5 139.6h.01M488.2 168.1h.01M449.5 158.2h.01M449.9 158.5h.01M500.6 130.2h.01M507.9 171.3h.01M501.8 180.9h.01M459.9 159.9h.01M469.3 183.7h.01M505.4 166.3h.01M520.9 160.4h.01M515.6 143.8h.01M470.4 188.4h.01M464.7 149.1h.01M456.2 156.3h.01M527.0 144.4h.01M512.2 137.7h.01M526.7 135.8h.01M522.6 129.9h.01M472.4 185.9h.01M463.7 147.5h.01M480.0 152.7h.01M526.0 131.2h.01M497.4 179.3h.01M478.5 172.2h.01M518.3 157.0h.01M488.3 145.5h.01M457.8 155.6h.01M481.8 143.4h.01M482.7 169.9h.01M460.7 158.5h.01M515.8 159.4h.01" stroke="#fff7ec" stroke-width="1.85" stroke-linecap="round" fill="none"/>
<path d="M456.2 151.7h.01M489.3 172.3h.01M468.1 169.5h.01M511.2 165.9h.01M472.1 191.9h.01M498.4 182.2h.01M488.8 144.2h.01M458.8 166.5h.01M465.4 169.3h.01M520.6 161.2h.01M520.6 159.5h.01M499.0 154.2h.01M452.1 152.8h.01M501.6 172.8h.01M472.4 168.2h.01M454.7 161.5h.01M524.0 139.4h.01M491.2 158.3h.01M525.2 151.2h.01M455.4 162.6h.01M464.3 164.2h.01M502.8 173.9h.01M509.5 138.9h.01M501.0 163.1h.01M470.2 148.9h.01M501.9 147.4h.01M465.9 157.7h.01M486.5 139.7h.01M527.2 124.1h.01M473.9 175.3h.01M458.4 167.7h.01M468.3 166.2h.01M507.6 169.0h.01M492.8 150.7h.01M481.2 188.1h.01M465.0 150.2h.01M481.4 170.2h.01M468.9 156.9h.01M472.2 171.2h.01M480.4 159.7h.01M469.5 168.0h.01" stroke="#feeacd" stroke-width="1.85" stroke-linecap="round" fill="none"/>
<path d="M479.2 150.2h.01M476.0 154.7h.01M492.9 179.2h.01M465.8 164.3h.01M467.4 168.1h.01M527.2 135.8h.01M454.8 149.9h.01M512.3 136.9h.01M468.6 161.9h.01M500.5 146.4h.01M493.5 139.6h.01M516.1 147.8h.01M466.7 149.5h.01M527.7 127.0h.01M496.2 136.3h.01M483.2 157.2h.01M492.9 158.6h.01M462.9 150.6h.01M465.9 165.0h.01M522.4 157.7h.01M521.1 131.1h.01M505.4 135.0h.01M465.5 149.7h.01M510.8 120.8h.01M459.8 160.1h.01M516.5 137.9h.01M465.7 153.3h.01M510.8 130.4h.01M513.2 137.3h.01M454.0 159.6h.01M513.5 122.2h.01M487.7 174.5h.01M503.5 176.2h.01M523.5 127.7h.01M522.1 153.3h.01M497.6 142.3h.01M453.9 155.0h.01M468.8 183.8h.01" stroke="#fedfb6" stroke-width="1.85" stroke-linecap="round" fill="none"/>
<path d="M465.3 159.1h.01M493.3 138.9h.01M525.4 139.7h.01M503.6 172.4h.01M470.7 159.1h.01M525.7 136.1h.01M465.0 151.6h.01M526.4 149.3h.01M498.3 136.6h.01M456.2 165.3h.01M500.1 154.4h.01M511.5 146.3h.01M482.8 152.0h.01M500.4 136.2h.01M468.4 152.0h.01M503.1 142.7h.01M509.9 128.2h.01M522.8 136.6h.01M487.9 140.8h.01M506.5 123.6h.01M524.7 139.0h.01M468.8 155.3h.01M471.1 178.3h.01M484.7 174.6h.01M462.1 171.2h.01M492.8 137.3h.01M455.8 158.8h.01M461.8 161.9h.01M488.3 139.9h.01M521.8 141.0h.01M513.5 154.8h.01M464.5 163.0h.01M512.8 166.7h.01M500.7 181.2h.01M518.2 139.6h.01M513.7 164.7h.01M456.2 155.4h.01M469.0 172.9h.01M526.7 147.5h.01M504.3 141.1h.01M499.8 178.8h.01M499.1 145.8h.01M486.3 182.0h.01M525.9 137.8h.01M526.9 131.4h.01M466.8 169.7h.01M527.1 134.7h.01M462.5 164.0h.01M456.3 158.3h.01M506.4 175.4h.01M508.8 145.9h.01M514.5 139.3h.01M506.5 176.5h.01M491.7 175.9h.01M518.0 153.6h.01M480.3 172.7h.01M521.8 139.4h.01M479.9 172.0h.01M508.2 156.9h.01M484.7 182.8h.01" stroke="#fdd49e" stroke-width="1.85" stroke-linecap="round" fill="none"/>
<path d="M486.1 170.2h.01M469.7 151.5h.01M468.5 182.5h.01M495.5 139.7h.01M493.0 144.7h.01M471.8 162.9h.01M467.1 150.3h.01M459.2 159.5h.01M500.6 177.7h.01M486.2 137.9h.01M455.4 157.1h.01M527.5 135.1h.01M473.7 186.4h.01M512.3 167.4h.01M458.2 165.6h.01M454.8 163.4h.01M515.9 159.4h.01M479.2 177.6h.01M474.0 194.0h.01M490.4 178.2h.01M477.1 163.5h.01M492.8 180.2h.01M527.2 139.3h.01M490.5 134.2h.01M489.4 160.1h.01M468.6 171.2h.01M498.4 139.1h.01M489.3 149.0h.01M488.2 153.6h.01M470.6 158.7h.01M460.6 159.5h.01M505.5 127.2h.01M499.0 154.3h.01M491.9 139.0h.01M462.2 161.1h.01M515.6 144.3h.01M498.3 181.2h.01M519.8 145.9h.01M498.9 145.4h.01M472.9 186.3h.01M506.1 142.4h.01M503.5 173.7h.01M490.5 142.1h.01M519.6 156.3h.01M470.5 167.6h.01M451.8 151.3h.01M452.3 156.2h.01M513.0 160.2h.01M483.6 175.0h.01M489.8 156.6h.01M482.6 174.2h.01M481.9 165.5h.01M496.0 131.1h.01M486.3 145.2h.01M475.1 190.3h.01M498.6 169.4h.01M480.9 161.1h.01M524.9 138.6h.01M462.8 159.2h.01M499.6 172.4h.01M466.7 164.4h.01M513.4 128.1h.01M526.4 147.9h.01M523.4 155.7h.01M475.9 181.3h.01" stroke="#fdc68f" stroke-width="1.85" stroke-linecap="round" fill="none"/>
<path d="M514.8 133.8h.01M499.9 148.2h.01M509.3 156.2h.01M475.7 161.5h.01M516.2 132.4h.01M474.1 167.1h.01M524.1 140.4h.01M471.9 177.3h.01M470.9 154.8h.01M458.0 159.6h.01M490.3 148.6h.01M490.3 164.0h.01M465.9 151.6h.01M525.7 128.2h.01M473.8 171.2h.01M477.4 158.2h.01M483.8 153.2h.01M465.1 164.1h.01M514.6 133.4h.01M494.2 143.4h.01M499.8 128.3h.01M468.7 148.5h.01M471.6 156.3h.01M487.5 157.7h.01M501.2 179.8h.01M496.3 171.4h.01M476.8 168.7h.01M499.4 179.4h.01M493.1 185.7h.01M526.8 139.6h.01M458.0 153.9h.01M514.9 122.5h.01M496.6 163.6h.01M499.4 147.6h.01M505.9 154.9h.01M449.8 151.2h.01M495.2 146.5h.01M502.1 145.9h.01M516.4 129.8h.01M501.5 162.9h.01M517.4 146.7h.01M506.1 123.3h.01M512.3 152.2h.01M515.6 129.5h.01M503.0 139.4h.01M504.0 148.9h.01M489.0 168.0h.01M494.0 143.0h.01M503.3 145.6h.01M468.3 152.8h.01M468.7 176.7h.01M503.6 165.2h.01M473.3 167.5h.01M465.0 166.3h.01M476.2 180.6h.01M508.4 150.4h.01M451.1 152.8h.01M473.5 183.5h.01M512.9 120.6h.01M514.5 151.7h.01M476.0 183.7h.01M521.3 149.9h.01M525.5 135.1h.01M516.9 130.3h.01M487.0 168.3h.01M450.8 155.6h.01M500.8 172.3h.01M492.1 142.1h.01M517.5 127.9h.01M529.4 133.5h.01M484.3 144.1h.01M497.3 139.6h.01M460.4 164.3h.01M491.2 174.8h.01M478.6 174.1h.01M484.5 168.1h.01M482.0 145.6h.01M462.9 155.0h.01M469.5 151.8h.01M467.7 159.1h.01M476.7 188.9h.01M508.2 124.7h.01M483.4 174.8h.01M499.7 148.5h.01M451.2 152.0h.01M468.6 170.6h.01M477.1 173.8h.01M469.6 158.0h.01M511.2 148.4h.01M465.9 164.3h.01M473.6 168.7h.01M482.6 158.4h.01M470.8 185.1h.01" stroke="#fdb47e" stroke-width="1.85" stroke-linecap="round" fill="none"/>
<path d="M468.2 147.8h.01M447.9 153.3h.01M483.5 166.3h.01M509.1 158.0h.01M484.1 142.9h.01M522.3 157.6h.01M509.2 151.3h.01M524.5 145.0h.01M454.9 155.9h.01M498.9 143.3h.01M508.1 125.2h.01M482.9 178.3h.01M488.3 167.8h.01M514.9 126.2h.01M496.8 143.4h.01M502.5 149.8h.01M505.0 134.9h.01M494.4 176.4h.01M511.5 145.7h.01M518.6 138.2h.01M472.0 172.2h.01M497.7 180.9h.01M473.4 174.0h.01M527.8 142.1h.01M455.9 160.4h.01M469.0 178.2h.01M518.6 130.2h.01M513.9 139.9h.01M520.6 130.9h.01M455.4 157.0h.01M503.1 166.0h.01M486.6 168.9h.01M477.5 163.9h.01M506.9 123.5h.01M525.2 147.7h.01M487.0 187.2h.01M493.0 147.5h.01M504.1 169.3h.01M472.8 193.3h.01M490.1 156.1h.01M490.7 159.6h.01M510.9 129.1h.01M493.4 180.4h.01M502.9 171.0h.01M503.9 131.9h.01M478.2 168.4h.01M474.3 154.0h.01M512.7 156.3h.01M513.6 164.6h.01M509.2 122.9h.01M489.6 186.2h.01M527.2 140.3h.01M509.5 140.9h.01M519.5 160.2h.01M515.5 140.8h.01M451.3 153.7h.01M483.4 173.3h.01M490.3 138.3h.01M493.5 173.7h.01M503.0 132.3h.01M490.1 144.3h.01M506.8 124.4h.01M497.0 141.9h.01M455.2 164.4h.01M463.2 164.2h.01M483.2 179.7h.01M492.8 177.5h.01M492.7 135.7h.01M495.7 180.4h.01M479.0 148.7h.01M477.5 177.5h.01M465.4 167.2h.01M460.5 158.6h.01M501.4 160.2h.01M503.0 157.6h.01M485.2 179.3h.01M467.1 172.5h.01" stroke="#fc9a65" stroke-width="1.85" stroke-linecap="round" fill="none"/>
<path d="M453.9 152.1h.01M460.8 155.8h.01M473.0 174.5h.01M499.7 150.7h.01M520.1 149.5h.01M508.1 139.2h.01M524.1 129.8h.01M500.5 143.1h.01M465.1 165.4h.01M475.8 192.1h.01M521.7 145.7h.01M509.5 138.8h.01M493.8 147.1h.01M457.1 152.6h.01M483.4 158.6h.01M469.4 181.5h.01M456.0 160.1h.01M463.4 167.1h.01M499.1 139.0h.01M499.8 169.8h.01M516.8 148.4h.01M518.6 147.8h.01M480.2 158.1h.01M515.7 145.2h.01M495.8 134.5h.01M476.7 162.7h.01M516.8 145.4h.01M502.4 136.1h.01M477.4 165.0h.01M489.9 153.7h.01M473.2 173.7h.01M494.2 169.1h.01M497.7 155.5h.01M520.8 151.9h.01M471.8 183.5h.01M502.0 146.7h.01M504.9 152.4h.01M474.3 181.5h.01M473.5 155.5h.01M501.8 158.9h.01M474.7 153.2h.01M490.8 162.7h.01M483.2 185.1h.01M513.5 122.9h.01M494.7 149.4h.01M507.7 140.8h.01M466.0 167.6h.01M518.4 135.4h.01M472.7 160.3h.01M485.3 175.0h.01M496.5 160.9h.01M506.0 124.9h.01M509.4 168.1h.01M508.3 133.1h.01M513.9 146.5h.01M494.8 150.6h.01M514.2 160.6h.01M511.6 122.4h.01M512.3 155.1h.01M463.1 154.5h.01M508.5 123.1h.01M460.0 158.7h.01M471.7 177.5h.01M496.6 159.3h.01M484.9 173.7h.01M501.1 158.9h.01M480.0 171.3h.01M475.1 170.5h.01M480.4 151.9h.01M499.5 138.3h.01M498.3 142.8h.01M512.5 147.0h.01M503.2 130.9h.01M495.8 171.1h.01M511.0 167.7h.01M516.4 154.3h.01M508.6 174.1h.01M470.8 190.4h.01M489.1 164.4h.01M484.2 147.1h.01M519.1 153.3h.01M477.5 185.0h.01M502.1 153.8h.01M507.9 122.4h.01" stroke="#f88254" stroke-width="1.85" stroke-linecap="round" fill="none"/>
<path d="M463.6 171.4h.01M472.7 164.2h.01M466.8 163.4h.01M459.0 157.0h.01M515.3 141.6h.01M487.0 164.5h.01M489.6 145.7h.01M505.1 127.0h.01M484.4 145.7h.01M507.8 161.7h.01M486.1 158.0h.01M484.1 176.8h.01M493.1 149.9h.01M486.0 164.4h.01M512.0 126.2h.01M467.7 165.3h.01M507.4 135.5h.01M480.4 186.6h.01M524.4 125.2h.01M476.5 185.9h.01M489.3 187.5h.01M505.4 160.7h.01M461.8 157.4h.01M514.8 155.4h.01M506.6 167.2h.01M493.9 142.2h.01M465.9 165.9h.01M495.2 135.4h.01M494.6 164.0h.01M499.2 165.6h.01M471.7 148.9h.01M453.0 150.9h.01M483.8 183.2h.01M476.3 178.4h.01M507.1 145.0h.01M474.1 175.9h.01M523.6 132.4h.01M503.6 127.0h.01M463.2 163.1h.01M509.8 148.8h.01M493.7 144.6h.01M516.5 142.3h.01M502.0 132.6h.01M484.7 138.0h.01M469.9 177.5h.01M468.1 149.8h.01M452.2 161.5h.01M499.1 130.7h.01M504.6 143.1h.01M476.8 174.6h.01M512.4 139.2h.01M518.9 136.2h.01M485.8 175.9h.01M501.9 139.8h.01M490.9 182.9h.01M515.0 140.2h.01M475.8 172.2h.01M482.8 149.6h.01M484.2 186.5h.01M494.1 175.0h.01M514.7 122.7h.01M521.3 122.8h.01M478.6 161.4h.01M459.4 167.2h.01M520.0 147.1h.01M497.9 162.6h.01M500.5 172.4h.01M464.9 153.5h.01M469.9 176.2h.01M519.8 147.1h.01" stroke="#f16b4a" stroke-width="1.85" stroke-linecap="round" fill="none"/>
<path d="M491.3 147.7h.01M510.8 130.0h.01M504.1 152.2h.01M490.5 138.2h.01M508.3 158.2h.01M521.6 122.5h.01M505.0 157.7h.01M465.9 154.9h.01M501.9 176.0h.01M484.5 167.0h.01M501.4 139.0h.01M487.0 187.7h.01M487.1 162.9h.01M502.4 135.0h.01M494.5 151.1h.01M493.5 147.4h.01M467.7 152.9h.01M516.1 128.8h.01M501.1 139.1h.01M490.8 139.1h.01M473.5 168.8h.01M504.6 154.0h.01M450.0 153.5h.01M495.1 144.2h.01M456.1 157.5h.01M484.7 145.4h.01M476.7 169.9h.01M527.1 134.3h.01M513.4 126.1h.01M514.4 154.7h.01M500.9 135.8h.01M492.1 146.7h.01M449.3 153.2h.01M513.4 121.0h.01M502.0 162.7h.01M522.0 135.6h.01M511.4 128.2h.01M478.8 156.6h.01M519.3 136.3h.01M521.4 146.5h.01M501.2 141.1h.01M502.5 147.3h.01M472.6 163.0h.01M515.5 121.2h.01M488.5 163.4h.01M506.5 128.9h.01M489.2 148.4h.01M486.8 175.2h.01M496.3 139.4h.01M503.3 167.2h.01M517.0 161.5h.01M473.9 183.8h.01M493.9 176.8h.01M475.5 175.3h.01M477.9 163.7h.01" stroke="#e54e36" stroke-width="1.85" stroke-linecap="round" fill="none"/>
<path d="M496.2 163.8h.01M479.1 185.7h.01M511.1 158.4h.01M492.8 153.3h.01M498.9 171.4h.01M519.6 121.9h.01M525.5 122.1h.01M488.1 173.6h.01M471.0 162.8h.01M495.5 170.1h.01M522.7 131.1h.01M483.1 178.4h.01M461.7 169.4h.01M490.8 176.0h.01M512.7 154.8h.01M487.7 157.9h.01M475.9 171.0h.01M479.1 162.0h.01M498.3 139.0h.01M473.2 170.1h.01M483.5 162.6h.01M475.1 186.8h.01M519.2 125.3h.01M468.8 173.2h.01M509.2 169.0h.01M488.4 162.0h.01M478.1 173.8h.01M514.6 138.2h.01M487.3 179.7h.01M492.7 185.0h.01M484.5 145.9h.01M506.9 167.6h.01M485.0 175.2h.01M478.2 183.4h.01M480.7 166.7h.01" stroke="#d7301f" stroke-width="1.85" stroke-linecap="round" fill="none"/>
<path d="M484.0 140.4h.01M488.1 170.9h.01M513.0 161.4h.01M512.5 159.6h.01M506.4 147.9h.01M507.8 152.9h.01M456.5 150.7h.01M502.6 138.1h.01M519.1 123.5h.01M477.1 159.4h.01M509.5 162.7h.01M492.6 179.5h.01M506.7 125.0h.01M495.6 169.9h.01M476.7 174.1h.01M502.4 136.9h.01M492.3 154.5h.01M505.7 167.6h.01M472.7 193.5h.01M486.9 166.6h.01M507.7 137.3h.01" stroke="#c2150d" stroke-width="1.85" stroke-linecap="round" fill="none"/>
<path d="M495.7 147.3h.01M481.7 144.2h.01M506.5 134.9h.01M472.2 174.9h.01M480.0 185.2h.01M487.3 164.1h.01M475.0 181.2h.01M515.4 134.1h.01M484.4 181.1h.01M502.2 125.9h.01M527.5 127.0h.01M476.7 189.7h.01M474.5 177.9h.01M472.8 158.2h.01M507.2 161.7h.01M488.8 145.4h.01M513.8 137.5h.01M500.4 130.5h.01M483.2 180.1h.01" stroke="#ac0000" stroke-width="1.85" stroke-linecap="round" fill="none"/>
<path d="M479.8 159.2h.01M514.1 141.5h.01M500.6 129.3h.01M495.6 147.9h.01M504.0 132.5h.01M479.2 176.4h.01M489.6 153.2h.01M499.7 173.4h.01M523.1 128.1h.01M507.5 145.9h.01M486.6 157.5h.01M484.6 185.1h.01M486.4 149.4h.01" stroke="#8e0000" stroke-width="1.85" stroke-linecap="round" fill="none"/>
<text x="488.8" y="115.6" text-anchor="middle" font-style="italic">CD38</text>
<rect x="534.1" y="117.80" width="3.0" height="80.70" fill="url(#orrd)" stroke="#8a8a8a" stroke-width="0.45"/>
<line x1="537.1" x2="540.3000000000001" y1="198.50" y2="198.50" stroke="#333" stroke-width="0.75"/>
<text x="543.9" y="201.6">0</text>
<line x1="537.1" x2="540.3000000000001" y1="162.69" y2="162.69" stroke="#333" stroke-width="0.75"/>
<text x="543.9" y="165.79">1.5</text>
<line x1="537.1" x2="540.3000000000001" y1="126.87" y2="126.87" stroke="#333" stroke-width="0.75"/>
<text x="543.9" y="129.97">3.0</text>
<path d="M581.0 171.4h.01M573.6 151.7h.01M578.2 155.8h.01M642.8 139.7h.01M641.5 140.4h.01M625.2 161.7h.01M603.5 158.0h.01M613.1 147.3h.01M576.6 159.5h.01M584.8 168.1h.01M611.2 147.1h.01M644.9 135.1h.01M606.7 187.5h.01M572.2 163.4h.01M632.2 155.4h.01M586.1 148.5h.01M604.4 187.7h.01M609.5 183.4h.01M606.7 149.0h.01M612.0 164.0h.01M611.9 151.1h.01M633.8 129.8h.01M622.3 152.4h.01M579.6 161.1h.01M633.0 144.3h.01M621.4 132.5h.01M645.1 127.0h.01M629.7 152.2h.01M579.2 161.9h.01M636.8 154.3h.01M611.4 143.0h.01M625.1 140.8h.01M610.4 147.5h.01M612.5 144.2h.01M573.5 157.5h.01M573.6 155.4h.01M593.4 183.7h.01M619.2 180.9h.01M616.5 130.7h.01M572.8 162.6h.01M582.1 149.1h.01M573.6 156.3h.01M583.1 153.3h.01M607.7 138.3h.01M583.3 157.7h.01M597.8 151.9h.01M619.4 162.7h.01M639.4 135.6h.01M580.3 155.0h.01M575.8 167.7h.01M643.4 131.2h.01M623.1 167.6h.01M625.0 169.0h.01M609.1 175.9h.01M610.2 150.7h.01M596.0 161.4h.01M576.8 167.2h.01M586.3 156.9h.01M615.0 142.3h.01M602.1 182.8h.01M617.9 172.4h.01M578.1 158.5h.01M582.3 153.5h.01M584.5 172.5h.01" stroke="#fff7ec" stroke-width="1.85" stroke-linecap="round" fill="none"/>
<path d="M587.1 151.5h.01M585.5 169.5h.01M610.5 149.9h.01M626.6 151.3h.01M582.4 151.6h.01M574.5 152.6h.01M573.4 160.1h.01M632.0 133.4h.01M579.2 157.4h.01M575.6 165.6h.01M575.4 153.9h.01M633.5 147.8h.01M569.5 152.8h.01M615.7 139.0h.01M584.1 149.5h.01M573.3 160.4h.01M586.4 178.2h.01M572.8 157.0h.01M613.6 136.3h.01M633.0 129.5h.01M581.9 163.0h.01M621.0 165.2h.01M582.4 166.3h.01M568.5 152.8h.01M583.3 165.0h.01M631.0 164.6h.01M586.7 183.7h.01M568.7 153.7h.01M569.7 156.2h.01M622.8 135.0h.01M629.7 155.1h.01M604.4 168.3h.01M577.2 160.1h.01M608.6 174.8h.01M579.9 164.0h.01M615.7 142.8h.01M600.0 174.2h.01M605.1 174.5h.01M597.7 172.7h.01M580.2 159.2h.01M601.6 147.1h.01M625.3 122.4h.01" stroke="#feeacd" stroke-width="1.85" stroke-linecap="round" fill="none"/>
<path d="M588.3 154.8h.01M575.4 159.6h.01M601.5 142.9h.01M607.7 148.6h.01M588.4 162.8h.01M616.3 143.3h.01M600.8 158.6h.01M586.8 181.5h.01M608.2 176.0h.01M594.2 168.7h.01M567.2 151.2h.01M615.1 180.9h.01M572.1 161.5h.01M641.4 139.4h.01M630.2 166.7h.01M586.4 172.9h.01M636.9 160.2h.01M629.0 122.4h.01M618.2 172.3h.01M628.2 120.8h.01M566.7 153.2h.01M643.3 137.8h.01M644.1 135.8h.01M573.7 158.3h.01M628.2 130.4h.01M586.9 151.8h.01M580.6 164.2h.01M635.7 157.0h.01M575.2 155.6h.01M587.0 158.0h.01M584.1 164.4h.01M615.3 162.6h.01M587.3 176.2h.01" stroke="#fedfb6" stroke-width="1.85" stroke-linecap="round" fill="none"/>
<path d="M571.3 152.1h.01M603.5 170.2h.01M582.7 159.1h.01M610.7 138.9h.01M618.0 177.7h.01M643.8 149.3h.01M585.1 165.3h.01M572.2 149.9h.01M572.8 157.1h.01M582.8 169.3h.01M582.5 164.1h.01M583.3 154.9h.01M619.3 176.0h.01M601.9 167.0h.01M589.0 156.3h.01M585.8 152.0h.01M605.6 153.6h.01M589.2 183.5h.01M590.6 170.1h.01M585.1 152.9h.01M579.5 171.2h.01M624.5 145.0h.01M604.4 187.2h.01M590.9 168.8h.01M583.4 167.6h.01M590.7 167.5h.01M636.5 123.5h.01M620.9 173.7h.01M611.1 144.6h.01M610.0 179.5h.01M625.3 171.3h.01M587.3 177.5h.01M585.5 149.8h.01M587.9 167.6h.01M569.6 161.5h.01M612.2 150.6h.01M577.4 158.7h.01M589.1 177.5h.01M601.7 144.1h.01M577.8 164.3h.01M640.5 128.1h.01M607.5 144.3h.01M596.0 174.1h.01M581.1 147.5h.01M604.0 157.5h.01M600.2 149.6h.01M616.0 169.4h.01M618.8 160.2h.01M620.4 157.6h.01" stroke="#fdd49e" stroke-width="1.85" stroke-linecap="round" fill="none"/>
<path d="M596.5 185.7h.01M585.9 182.5h.01M644.9 129.7h.01M584.5 150.3h.01M644.6 135.8h.01M601.2 153.2h.01M593.9 185.9h.01M612.9 170.1h.01M586.0 161.9h.01M611.6 143.4h.01M618.8 139.0h.01M607.8 178.2h.01M632.3 126.2h.01M604.5 162.9h.01M619.8 136.1h.01M605.3 140.8h.01M606.8 160.1h.01M628.9 145.7h.01M586.2 155.3h.01M645.2 142.1h.01M616.4 154.3h.01M631.3 139.9h.01M620.0 138.1h.01M615.7 181.2h.01M610.2 137.3h.01M573.2 158.8h.01M624.3 123.5h.01M593.7 178.4h.01M567.3 158.5h.01M594.5 159.4h.01M600.6 157.2h.01M635.6 139.6h.01M621.3 131.9h.01M602.7 175.0h.01M619.6 125.9h.01M638.5 131.1h.01M617.2 178.8h.01M569.2 151.3h.01M632.9 140.8h.01M601.9 145.9h.01M607.0 153.2h.01M581.7 164.2h.01M580.5 154.5h.01M582.9 149.7h.01M634.9 127.9h.01M600.8 173.3h.01M601.0 175.0h.01M629.8 139.2h.01M614.7 139.6h.01M584.2 169.7h.01M644.5 134.7h.01M624.9 145.9h.01M623.8 175.4h.01M572.6 164.4h.01M571.4 159.6h.01M623.9 176.5h.01M585.1 159.1h.01M590.2 158.2h.01M603.7 145.2h.01M614.8 179.3h.01M625.6 124.7h.01M638.7 122.8h.01M568.6 152.0h.01M633.8 154.3h.01M626.0 174.1h.01M582.4 150.2h.01M582.8 167.2h.01M634.4 161.5h.01M643.8 147.9h.01" stroke="#fdc68f" stroke-width="1.85" stroke-linecap="round" fill="none"/>
<path d="M584.2 163.4h.01M576.4 157.0h.01M596.6 150.2h.01M593.1 161.5h.01M612.9 139.7h.01M628.5 158.4h.01M600.9 166.3h.01M607.0 145.7h.01M591.5 167.1h.01M601.8 145.7h.01M607.9 138.2h.01M616.3 171.4h.01M589.2 162.9h.01M637.0 121.9h.01M582.5 165.4h.01M605.5 173.6h.01M572.3 155.9h.01M573.6 165.3h.01M576.2 166.5h.01M580.8 167.1h.01M622.4 157.7h.01M629.7 167.4h.01M633.3 159.4h.01M637.8 162.0h.01M604.9 157.7h.01M624.0 167.2h.01M630.1 154.8h.01M610.5 185.7h.01M616.4 154.2h.01M636.8 140.3h.01M590.6 173.7h.01M622.4 134.9h.01M623.9 123.6h.01M611.8 176.4h.01M586.0 171.2h.01M611.6 169.1h.01M593.3 171.0h.01M591.7 181.5h.01M592.5 186.8h.01M609.9 150.8h.01M589.6 174.9h.01M636.6 125.3h.01M586.2 173.2h.01M642.6 147.7h.01M630.9 154.8h.01M635.8 135.4h.01M627.2 148.8h.01M590.1 160.3h.01M620.3 171.0h.01M618.0 130.2h.01M580.3 150.6h.01M623.4 124.9h.01M577.3 159.9h.01M601.8 181.1h.01M610.1 185.0h.01M642.9 135.1h.01M568.2 155.6h.01M620.2 173.9h.01M633.0 143.8h.01M594.1 174.1h.01M619.8 136.9h.01M609.7 154.5h.01M636.7 136.3h.01M595.9 172.2h.01M585.7 166.2h.01M618.6 141.1h.01M602.0 185.1h.01M620.9 176.2h.01M639.2 139.4h.01M642.3 138.6h.01M600.1 169.9h.01M606.6 148.4h.01M631.2 137.5h.01M594.9 177.5h.01M583.3 164.3h.01M586.9 168.0h.01M595.3 163.7h.01" stroke="#fdb47e" stroke-width="1.85" stroke-linecap="round" fill="none"/>
<path d="M626.7 156.2h.01M565.3 153.3h.01M621.5 152.2h.01M637.5 149.5h.01M626.5 158.0h.01M588.1 159.1h.01M639.7 157.6h.01M605.5 170.9h.01M643.3 131.2h.01M593.2 192.1h.01M639.1 145.7h.01M628.6 165.9h.01M625.6 135.2h.01M630.4 161.4h.01M624.8 135.5h.01M615.8 182.2h.01M606.2 144.2h.01M591.1 186.4h.01M600.3 178.3h.01M600.5 178.4h.01M625.2 152.9h.01M617.2 128.3h.01M579.1 169.4h.01M631.6 167.9h.01M628.9 146.3h.01M634.2 148.4h.01M631.5 141.5h.01M616.8 179.4h.01M644.2 139.6h.01M607.9 134.2h.01M594.8 165.0h.01M605.1 157.9h.01M615.8 139.1h.01M623.3 154.9h.01M636.0 138.2h.01M588.5 178.3h.01M596.5 162.0h.01M638.2 151.9h.01M619.8 135.0h.01M606.1 137.3h.01M574.0 158.8h.01M636.0 130.2h.01M588.8 163.9h.01M620.5 166.0h.01M604.0 168.9h.01M594.9 163.9h.01M612.1 149.4h.01M605.7 139.9h.01M616.3 145.4h.01M608.1 159.6h.01M593.6 180.6h.01M567.4 153.5h.01M623.5 142.4h.01M626.9 162.7h.01M604.7 164.1h.01M591.7 154.0h.01M608.6 158.3h.01M592.4 181.2h.01M642.6 151.2h.01M594.1 169.9h.01M639.8 157.7h.01M596.6 176.4h.01M618.3 135.8h.01M644.9 127.0h.01M646.8 133.5h.01M626.9 138.9h.01M618.5 158.9h.01M592.5 170.5h.01M644.3 131.4h.01M630.8 121.0h.01M628.8 128.2h.01M601.9 168.1h.01M608.3 182.9h.01M595.6 183.4h.01M599.3 165.5h.01M593.2 172.2h.01M630.9 122.2h.01M638.8 146.5h.01M600.8 174.8h.01M632.1 122.7h.01M613.1 180.4h.01M588.2 190.4h.01M630.8 128.1h.01M594.9 185.0h.01M617.8 130.5h.01M586.2 183.8h.01M633.2 159.4h.01M600.6 180.1h.01M640.8 155.7h.01M593.3 181.3h.01" stroke="#fc9a65" stroke-width="1.85" stroke-linecap="round" fill="none"/>
<path d="M632.2 133.8h.01M606.7 172.3h.01M590.4 174.5h.01M583.2 164.3h.01M641.5 129.8h.01M617.9 143.1h.01M607.7 164.0h.01M643.1 128.2h.01M597.8 186.6h.01M594.8 158.2h.01M597.2 159.2h.01M615.6 157.0h.01M640.1 131.1h.01M622.8 160.7h.01M596.6 177.6h.01M591.4 194.0h.01M638.0 161.2h.01M617.8 136.2h.01M594.5 163.5h.01M611.3 142.2h.01M638.0 159.5h.01M613.2 134.5h.01M644.6 139.3h.01M623.9 134.9h.01M640.2 136.6h.01M612.6 135.4h.01M607.3 153.7h.01M632.3 122.5h.01M616.8 147.6h.01M618.9 162.9h.01M610.9 147.4h.01M619.4 146.7h.01M619.0 172.8h.01M589.8 168.2h.01M633.5 128.8h.01M592.1 153.2h.01M600.9 162.6h.01M600.6 185.1h.01M620.4 139.4h.01M621.4 148.9h.01M630.9 122.9h.01M596.6 156.0h.01M639.2 141.0h.01M637.2 145.9h.01M613.9 139.6h.01M605.6 168.1h.01M595.5 173.8h.01M580.6 163.1h.01M618.1 181.2h.01M604.7 179.7h.01M644.1 147.5h.01M638.7 149.9h.01M644.5 134.3h.01M644.6 140.3h.01M626.9 140.9h.01M638.3 160.4h.01M630.8 126.1h.01M614.0 159.3h.01M630.4 160.2h.01M613.0 169.9h.01M594.2 174.6h.01M602.4 175.2h.01M597.4 171.3h.01M629.6 137.7h.01M603.9 139.7h.01M616.9 138.3h.01M640.0 129.9h.01M614.4 141.9h.01M631.9 139.3h.01M589.8 185.9h.01M607.2 156.6h.01M591.3 175.3h.01M620.6 130.9h.01M591.9 177.9h.01M613.4 131.1h.01M600.6 179.7h.01M628.4 167.7h.01M619.9 147.3h.01M610.1 135.7h.01M605.9 163.4h.01M606.2 145.4h.01M597.3 172.0h.01M636.5 153.3h.01M639.5 153.3h.01M596.4 148.7h.01M620.7 167.2h.01M611.3 176.8h.01M637.2 147.1h.01" stroke="#f88254" stroke-width="1.85" stroke-linecap="round" fill="none"/>
<path d="M617.3 148.2h.01M613.6 163.8h.01M628.2 130.0h.01M593.4 154.7h.01M610.4 144.7h.01M610.3 179.2h.01M589.3 177.3h.01M603.4 164.4h.01M603.6 137.9h.01M639.0 122.5h.01M589.5 191.9h.01M629.9 159.6h.01M623.8 147.9h.01M617.5 154.4h.01M636.0 147.8h.01M613.7 171.4h.01M610.9 139.6h.01M640.4 146.3h.01M610.2 180.2h.01M583.3 165.9h.01M613.8 146.2h.01M642.1 139.0h.01M618.0 129.3h.01M615.1 155.5h.01M622.9 127.2h.01M589.1 148.9h.01M609.3 139.0h.01M638.0 130.9h.01M590.9 155.5h.01M608.2 162.7h.01M570.4 150.9h.01M626.6 169.0h.01M585.7 152.8h.01M590.2 193.3h.01M625.8 150.4h.01M628.3 129.1h.01M631.1 164.7h.01M590.9 183.5h.01M595.6 168.4h.01M626.8 168.1h.01M630.3 120.6h.01M631.9 151.7h.01M621.7 141.1h.01M607.0 186.2h.01M616.5 145.8h.01M624.3 167.6h.01M609.5 142.1h.01M602.3 173.7h.01M619.3 147.4h.01M603.2 175.9h.01M619.3 139.8h.01M596.2 156.6h.01M644.6 124.1h.01M599.4 145.6h.01M630.6 137.3h.01M601.6 186.5h.01M611.5 175.0h.01M617.1 148.5h.01M592.5 190.3h.01M610.2 177.5h.01M598.6 188.1h.01M632.9 121.2h.01M624.6 161.7h.01M606.5 164.4h.01M598.8 170.2h.01M613.7 139.4h.01M600.0 158.4h.01M625.1 137.3h.01M592.9 175.3h.01M588.2 185.1h.01" stroke="#f16b4a" stroke-width="1.85" stroke-linecap="round" fill="none"/>
<path d="M585.6 147.8h.01M622.5 127.0h.01M621.0 172.4h.01M625.5 139.2h.01M643.1 136.1h.01M641.9 145.0h.01M629.4 126.2h.01M626.9 138.8h.01M629.7 136.9h.01M641.8 125.2h.01M602.7 176.0h.01M617.9 146.4h.01M616.5 139.0h.01M617.2 169.8h.01M600.2 152.0h.01M597.6 158.1h.01M618.6 179.8h.01M627.3 128.2h.01M613.4 185.0h.01M616.6 165.6h.01M578.0 159.5h.01M634.8 146.7h.01M618.5 139.1h.01M620.7 145.6h.01M641.0 132.4h.01M586.1 176.7h.01M590.3 186.3h.01M621.5 169.3h.01M632.0 138.2h.01M633.9 142.3h.01M607.9 142.1h.01M637.0 156.3h.01M630.1 156.3h.01M626.6 122.9h.01M631.3 146.5h.01M622.8 166.3h.01M631.6 160.6h.01M631.8 154.7h.01M609.5 146.7h.01M587.8 188.4h.01M587.6 148.9h.01M633.9 137.9h.01M636.3 136.2h.01M644.4 144.4h.01M610.9 173.7h.01M626.2 145.9h.01M632.4 140.2h.01M629.9 147.0h.01M597.4 152.7h.01M590.0 163.0h.01M599.2 143.4h.01M625.6 156.9h.01M571.3 155.0h.01M577.9 158.6h.01M619.5 153.8h.01M602.6 179.3h.01" stroke="#e54e36" stroke-width="1.85" stroke-linecap="round" fill="none"/>
<path d="M608.7 147.7h.01M632.7 141.6h.01M604.4 164.5h.01M633.6 132.4h.01M610.2 153.3h.01M601.4 140.4h.01M601.5 176.8h.01M642.9 122.1h.01M583.3 151.6h.01M642.7 130.9h.01M625.5 125.2h.01M605.7 167.8h.01M599.1 144.2h.01M589.4 172.2h.01M590.8 174.0h.01M619.5 145.9h.01M608.2 139.1h.01M601.2 183.2h.01M620.0 140.7h.01M606.4 168.0h.01M605.8 162.0h.01M566.9 158.2h.01M607.5 156.1h.01M622.0 154.0h.01M610.8 180.4h.01M602.1 145.4h.01M632.8 134.1h.01M625.7 133.1h.01M624.1 125.0h.01M617.1 173.4h.01M625.9 123.1h.01M622.0 143.1h.01M618.4 163.1h.01M594.1 189.7h.01M598.1 166.7h.01M613.2 171.1h.01M586.0 170.6h.01M640.9 127.7h.01M604.3 166.6h.01" stroke="#d7301f" stroke-width="1.85" stroke-linecap="round" fill="none"/>
<path d="M590.1 164.2h.01M605.8 160.2h.01M615.7 136.6h.01M591.2 171.2h.01M614.2 143.4h.01M619.9 149.8h.01M634.2 145.4h.01M573.9 150.7h.01M613.0 147.9h.01M621.0 127.0h.01M613.9 160.9h.01M634.3 130.3h.01M620.4 132.3h.01M605.7 145.5h.01M603.8 149.4h.01M623.9 128.9h.01M628.6 148.4h.01M591.3 183.8h.01M597.8 159.7h.01" stroke="#c2150d" stroke-width="1.85" stroke-linecap="round" fill="none"/>
<path d="M617.1 150.7h.01M620.5 142.7h.01M614.0 163.6h.01M602.1 174.6h.01M588.0 158.7h.01M619.2 158.9h.01M597.4 185.2h.01M610.3 158.6h.01M619.4 132.6h.01M603.7 182.0h.01M624.2 124.4h.01M635.4 153.6h.01M594.5 173.8h.01M604.2 175.2h.01M590.1 193.5h.01M637.4 147.1h.01M589.6 171.2h.01" stroke="#ac0000" stroke-width="1.85" stroke-linecap="round" fill="none"/>
<path d="M625.7 158.2h.01M633.1 145.2h.01M594.1 162.7h.01M612.6 146.5h.01M623.5 123.3h.01M591.5 175.9h.01M602.1 138.0h.01M594.1 188.9h.01M598.3 161.1h.01M617.0 172.4h.01M591.0 168.7h.01" stroke="#8e0000" stroke-width="1.85" stroke-linecap="round" fill="none"/>
<text x="606.6" y="115.6" text-anchor="middle" font-style="italic">CD27</text>
<rect x="651.8" y="117.80" width="3.0" height="80.70" fill="url(#orrd)" stroke="#8a8a8a" stroke-width="0.45"/>
<line x1="654.8" x2="658.0" y1="198.50" y2="198.50" stroke="#333" stroke-width="0.75"/>
<text x="661.6" y="201.6">0</text>
<line x1="654.8" x2="658.0" y1="157.43" y2="157.43" stroke="#333" stroke-width="0.75"/>
<text x="661.6" y="160.53">2.0</text>
<line x1="654.8" x2="658.0" y1="126.63" y2="126.63" stroke="#333" stroke-width="0.75"/>
<text x="661.6" y="129.73">3.5</text>
<path d="M382.2 249.8h.01M372.8 239.8h.01M372.6 250.2h.01M393.5 267.5h.01M409.8 236.7h.01M362.5 259.7h.01M381.3 255.8h.01M405.1 238.2h.01M385.2 272.6h.01M395.7 227.7h.01M340.7 269.3h.01M348.2 265.9h.01" stroke="#fff7ec" stroke-width="1.85" stroke-linecap="round" fill="none"/>
<path d="M351.6 285.3h.01M359.0 275.7h.01M371.5 250.0h.01" stroke="#feeacd" stroke-width="1.85" stroke-linecap="round" fill="none"/>
<path d="M338.5 266.9h.01M338.3 261.7h.01M342.9 261.1h.01M334.1 252.9h.01M345.1 260.8h.01" stroke="#fedfb6" stroke-width="1.85" stroke-linecap="round" fill="none"/>
<path d="M338.5 253.3h.01M380.7 283.8h.01M402.9 262.8h.01M350.7 253.6h.01M380.6 282.8h.01M338.4 259.1h.01M407.5 252.8h.01M349.0 266.0h.01" stroke="#fdd49e" stroke-width="1.85" stroke-linecap="round" fill="none"/>
<path d="M349.1 265.0h.01M407.7 241.3h.01M349.7 269.7h.01M337.1 251.5h.01M381.7 281.0h.01M374.4 285.0h.01M338.9 260.4h.01M332.3 255.1h.01M333.1 257.2h.01M338.5 257.9h.01M408.2 239.4h.01M364.1 245.0h.01M351.1 285.4h.01M352.2 277.8h.01" stroke="#fdc68f" stroke-width="1.85" stroke-linecap="round" fill="none"/>
<path d="M341.3 258.6h.01M408.0 237.7h.01M409.8 231.3h.01M372.6 265.6h.01M347.4 267.0h.01M344.1 259.0h.01M340.3 255.5h.01M376.3 244.6h.01M346.8 264.6h.01M351.0 278.3h.01M355.1 294.9h.01M395.1 268.3h.01M409.0 249.1h.01M345.4 256.1h.01M409.0 237.4h.01M345.2 256.6h.01M350.6 267.8h.01M393.3 269.3h.01M340.1 257.2h.01M350.9 272.2h.01" stroke="#fdb47e" stroke-width="1.85" stroke-linecap="round" fill="none"/>
<path d="M336.2 253.7h.01M361.5 251.8h.01M348.1 265.9h.01M340.3 261.2h.01M341.5 261.1h.01M348.2 253.2h.01M350.0 266.9h.01M337.7 258.7h.01M350.9 263.5h.01M390.4 226.8h.01M340.5 267.2h.01M344.0 271.0h.01M376.2 243.8h.01M405.3 247.9h.01M378.1 236.1h.01M409.5 240.9h.01M409.1 241.2h.01M388.8 236.5h.01M338.8 252.3h.01M350.9 272.8h.01M351.1 256.9h.01M352.9 260.3h.01M332.1 252.8h.01M338.2 262.0h.01M350.0 254.5h.01M344.4 272.8h.01M344.1 263.5h.01M351.1 274.8h.01M391.5 270.6h.01M407.5 249.3h.01M406.3 241.0h.01M345.5 264.7h.01M338.5 257.0h.01M348.2 266.6h.01M395.9 266.2h.01M351.3 274.5h.01M342.2 261.5h.01M409.4 235.9h.01M350.4 251.4h.01M333.6 255.3h.01M337.7 264.2h.01M346.6 265.8h.01M347.8 251.3h.01M342.3 260.3h.01M386.9 244.7h.01M377.9 271.5h.01M347.0 250.7h.01M409.3 246.0h.01M397.3 241.8h.01M364.9 275.8h.01M336.3 261.2h.01M388.8 278.1h.01M350.0 260.7h.01M379.7 280.9h.01M389.9 270.6h.01M341.7 268.8h.01M347.3 251.8h.01M396.1 239.1h.01M408.7 249.5h.01M351.8 269.6h.01" stroke="#fc9a65" stroke-width="1.85" stroke-linecap="round" fill="none"/>
<path d="M345.9 273.0h.01M368.4 271.8h.01M352.0 253.1h.01M347.6 260.7h.01M391.6 257.8h.01M358.0 263.1h.01M393.4 260.0h.01M398.5 234.0h.01M366.7 247.3h.01M349.4 251.9h.01M382.9 279.3h.01M347.3 253.2h.01M406.8 246.6h.01M358.1 293.7h.01M390.5 236.8h.01M337.2 257.5h.01M354.4 293.5h.01M371.6 289.1h.01M347.4 265.7h.01M345.7 268.7h.01M407.6 232.5h.01M387.7 262.3h.01M365.4 280.0h.01M372.7 279.8h.01M378.6 273.0h.01M379.1 245.0h.01M348.2 267.5h.01M381.7 249.2h.01M376.5 270.7h.01M367.0 276.2h.01M370.5 255.2h.01M381.5 267.2h.01M402.9 232.5h.01M344.5 262.7h.01M373.1 264.3h.01M358.6 280.0h.01M378.8 241.2h.01M331.8 259.8h.01M332.2 260.1h.01M347.3 267.9h.01M376.0 246.2h.01M396.0 266.3h.01M333.4 254.4h.01M391.7 269.7h.01M403.4 232.7h.01M352.2 279.1h.01M334.5 263.1h.01M385.1 275.5h.01M374.4 243.7h.01M411.7 235.1h.01M367.3 276.8h.01M348.2 259.3h.01M331.6 254.8h.01M338.6 259.9h.01M384.7 238.5h.01M393.1 232.0h.01M395.8 223.8h.01M359.0 290.5h.01M370.6 247.1h.01M362.6 274.3h.01M333.5 253.6h.01M359.4 275.4h.01M351.9 259.6h.01M351.2 258.5h.01M336.2 256.6h.01M382.7 232.1h.01M343.0 260.1h.01M347.2 255.1h.01M390.0 238.9h.01M349.4 274.1h.01M358.2 282.9h.01" stroke="#f88254" stroke-width="1.85" stroke-linecap="round" fill="none"/>
<path d="M397.1 235.4h.01M375.2 280.8h.01M375.6 240.5h.01M402.4 251.1h.01M391.4 259.6h.01M354.1 264.5h.01M350.4 271.1h.01M404.6 259.2h.01M401.9 223.5h.01M353.3 264.4h.01M389.7 237.1h.01M339.4 254.2h.01M394.6 269.0h.01M348.2 256.5h.01M384.2 277.6h.01M366.8 268.6h.01M351.0 250.1h.01M402.7 263.6h.01M375.8 241.2h.01M397.2 227.8h.01M359.1 270.3h.01M396.4 243.1h.01M359.0 264.3h.01M359.7 266.6h.01M372.2 255.3h.01M355.5 275.3h.01M370.0 259.5h.01M407.0 240.6h.01M376.8 252.7h.01M380.0 282.5h.01M410.1 243.7h.01M351.3 279.8h.01M375.8 249.0h.01M383.9 274.4h.01M381.3 255.9h.01M396.2 241.5h.01M398.4 230.4h.01M337.7 258.6h.01M353.7 265.5h.01M368.9 270.5h.01M373.1 240.7h.01M338.1 260.4h.01M378.5 237.9h.01M374.8 252.4h.01M404.1 242.6h.01M370.5 269.7h.01M355.6 269.1h.01M388.4 244.0h.01M401.9 257.9h.01M345.2 252.2h.01M390.2 272.9h.01M395.0 257.9h.01M395.2 222.2h.01M384.1 282.5h.01M371.9 287.8h.01M390.6 234.7h.01M334.6 257.8h.01M369.3 269.9h.01M342.1 261.7h.01M359.1 276.2h.01M366.6 245.7h.01M362.3 272.9h.01M379.6 241.2h.01M375.8 275.3h.01M409.2 233.0h.01M342.7 265.9h.01M349.1 271.3h.01M409.4 236.3h.01M384.3 264.3h.01M389.1 226.0h.01M364.3 247.2h.01M360.5 285.0h.01M395.5 238.9h.01M346.0 249.1h.01M356.2 276.9h.01M359.0 291.3h.01M378.3 232.7h.01M408.3 232.8h.01M368.6 246.8h.01M360.8 273.8h.01M382.0 250.1h.01M397.0 224.3h.01M375.1 279.1h.01M375.0 237.3h.01M407.2 240.2h.01M371.1 247.0h.01M390.9 275.7h.01M353.1 292.0h.01M347.7 268.8h.01M395.7 229.7h.01M359.8 286.6h.01M380.2 264.2h.01M383.7 261.8h.01M367.0 284.4h.01M353.1 286.7h.01" stroke="#f16b4a" stroke-width="1.85" stroke-linecap="round" fill="none"/>
<path d="M355.0 265.8h.01M393.1 231.6h.01M361.4 287.3h.01M369.3 266.1h.01M350.5 249.4h.01M377.8 241.3h.01M330.2 254.9h.01M365.8 267.9h.01M371.6 273.9h.01M356.4 268.7h.01M390.4 240.8h.01M368.5 239.5h.01M390.6 259.8h.01M408.2 232.8h.01M370.4 275.2h.01M356.1 272.8h.01M359.7 259.8h.01M366.1 254.8h.01M406.7 226.8h.01M341.1 268.1h.01M396.9 235.0h.01M356.0 288.0h.01M388.7 249.5h.01M387.3 259.3h.01M382.4 256.0h.01M337.1 265.0h.01M396.5 269.5h.01M393.8 247.9h.01M369.3 289.3h.01M382.7 237.8h.01M359.4 265.1h.01M375.1 281.8h.01M378.7 247.8h.01M397.2 224.1h.01M334.4 254.4h.01M382.9 230.9h.01M358.2 272.6h.01M354.3 273.8h.01M377.5 248.1h.01M349.0 251.1h.01M371.0 238.9h.01M377.9 249.5h.01M383.8 264.5h.01M400.9 231.8h.01M399.7 248.3h.01M354.7 269.8h.01M384.9 239.7h.01M355.8 257.1h.01M385.3 241.0h.01M361.5 257.6h.01M384.9 242.3h.01M371.3 269.6h.01M354.5 276.5h.01M401.5 226.9h.01M356.4 277.5h.01M395.8 256.4h.01M350.6 254.4h.01M348.3 269.2h.01M383.0 282.8h.01M392.1 250.4h.01M385.8 275.3h.01M355.0 261.9h.01M386.2 233.5h.01M398.8 243.9h.01M372.8 243.7h.01M378.8 262.5h.01M384.3 234.2h.01M388.3 226.5h.01M357.3 282.8h.01M396.8 253.3h.01M367.0 247.0h.01M397.7 235.7h.01M366.7 282.7h.01M384.5 227.5h.01M409.5 241.9h.01M382.1 280.4h.01M401.8 261.8h.01M381.4 247.4h.01M393.9 224.0h.01M387.7 236.6h.01M389.0 226.6h.01M368.6 283.6h.01M403.2 262.0h.01M390.8 224.7h.01M365.7 274.9h.01M391.8 240.5h.01M401.2 237.8h.01M384.2 249.0h.01M405.4 229.7h.01M344.8 265.6h.01M381.8 239.9h.01M366.8 269.7h.01M409.5 225.7h.01M391.1 247.5h.01M396.8 240.9h.01M351.8 253.4h.01M345.5 265.8h.01M363.0 268.3h.01M355.1 259.8h.01M368.9 259.1h.01M365.1 251.2h.01M403.6 224.4h.01M385.8 277.8h.01M375.1 252.3h.01M360.9 263.0h.01M380.9 271.0h.01M370.8 265.0h.01M365.0 271.5h.01M362.2 273.6h.01M363.7 271.8h.01M369.1 276.8h.01M366.5 248.7h.01M401.4 254.9h.01M355.0 295.1h.01M399.3 263.1h.01M342.8 260.2h.01M369.2 268.2h.01M376.2 278.4h.01M402.1 248.7h.01M357.8 276.9h.01M405.7 257.3h.01" stroke="#e54e36" stroke-width="1.85" stroke-linecap="round" fill="none"/>
<path d="M397.6 243.2h.01M358.3 256.3h.01M343.1 257.4h.01M375.3 246.3h.01M371.9 247.3h.01M387.4 228.6h.01M406.4 242.0h.01M354.2 278.9h.01M368.4 259.6h.01M353.0 260.7h.01M366.3 242.0h.01M366.4 278.4h.01M406.4 231.4h.01M375.4 251.5h.01M368.3 266.0h.01M407.8 223.7h.01M391.8 240.4h.01M408.0 229.8h.01M395.3 263.0h.01M394.6 238.5h.01M362.1 260.8h.01M351.7 283.1h.01M371.1 245.8h.01M347.7 270.9h.01M365.2 279.9h.01M381.4 240.6h.01M369.8 259.3h.01M356.3 295.6h.01M365.1 253.6h.01M364.0 245.8h.01M395.0 256.4h.01M402.9 261.1h.01M384.8 251.4h.01M385.4 244.3h.01M387.3 236.5h.01M376.7 278.0h.01M380.0 257.1h.01M376.9 265.6h.01M403.1 253.5h.01M354.1 285.1h.01M380.6 240.6h.01M387.8 228.8h.01M398.7 231.4h.01M355.5 271.7h.01M354.0 250.5h.01M374.2 240.6h.01M397.9 245.9h.01M386.3 234.1h.01M365.8 264.2h.01M375.1 238.9h.01M335.3 252.5h.01M365.5 286.7h.01M397.9 231.1h.01M395.8 224.5h.01M401.7 255.9h.01M381.2 247.0h.01M405.9 234.0h.01M385.9 228.6h.01M390.0 242.4h.01M375.3 249.1h.01M355.8 270.4h.01M360.4 275.4h.01M372.4 257.7h.01M373.0 261.2h.01M396.9 239.8h.01M358.5 282.2h.01M359.4 261.0h.01M400.7 237.0h.01M390.7 252.0h.01M375.2 260.2h.01M400.5 241.2h.01M356.6 255.6h.01M374.9 281.1h.01M369.6 281.3h.01M367.0 239.6h.01M403.6 251.5h.01M387.7 267.9h.01M396.5 262.2h.01M366.8 247.5h.01M396.7 256.3h.01M374.4 248.3h.01M393.1 222.4h.01M378.9 260.9h.01M395.3 261.8h.01M397.9 245.4h.01M409.8 228.6h.01M365.9 276.6h.01M383.4 260.5h.01M368.1 277.5h.01M394.5 239.3h.01M373.5 276.4h.01M372.4 245.9h.01M360.9 275.7h.01M404.3 237.2h.01M393.7 229.8h.01M374.6 256.1h.01M364.2 267.1h.01M385.5 232.5h.01M358.1 273.8h.01M362.3 254.3h.01M388.0 269.2h.01M365.5 281.3h.01M400.6 258.6h.01M365.7 276.4h.01M357.4 291.9h.01M354.9 264.6h.01M363.5 289.7h.01M397.8 222.8h.01M389.5 263.3h.01M404.1 241.0h.01M388.8 230.5h.01M371.4 266.0h.01M381.9 274.0h.01M393.5 250.0h.01M404.4 254.9h.01M361.3 250.3h.01M379.9 243.9h.01M364.9 260.0h.01M385.3 259.2h.01M398.1 261.0h.01M362.7 261.3h.01M360.2 265.3h.01" stroke="#d7301f" stroke-width="1.85" stroke-linecap="round" fill="none"/>
<path d="M350.8 284.1h.01M370.7 261.8h.01M375.1 254.9h.01M386.4 253.8h.01M390.1 263.3h.01M382.0 252.3h.01M353.2 256.4h.01M385.9 274.0h.01M366.4 244.5h.01M378.0 248.9h.01M391.5 252.9h.01M370.4 272.5h.01M403.9 224.1h.01M404.0 247.3h.01M408.7 250.9h.01M381.2 244.9h.01M380.5 258.6h.01M365.7 260.2h.01M377.8 271.7h.01M376.5 245.0h.01M405.0 232.7h.01M382.8 248.0h.01M390.1 254.5h.01M370.6 269.4h.01M361.5 279.2h.01M353.9 257.9h.01M383.7 240.6h.01M388.9 268.8h.01M383.5 281.4h.01M375.4 287.3h.01M392.2 229.8h.01M399.1 247.0h.01M384.7 237.7h.01M372.8 235.8h.01M388.8 225.2h.01M378.3 286.6h.01M393.8 247.3h.01M380.7 240.7h.01M388.2 256.5h.01M400.9 239.8h.01M353.4 279.9h.01M384.7 236.6h.01M355.7 275.6h.01M384.4 247.5h.01M388.4 224.9h.01M410.0 228.6h.01M385.4 267.6h.01M357.4 288.4h.01M359.8 265.5h.01M337.0 263.1h.01M366.1 284.8h.01M386.3 250.5h.01M369.3 288.8h.01M385.9 266.8h.01M393.2 230.7h.01M391.8 264.3h.01M369.6 265.7h.01M367.6 276.6h.01M358.3 285.3h.01M375.0 286.6h.01M359.0 271.5h.01M404.7 259.3h.01M386.6 242.7h.01M407.8 236.7h.01M377.1 252.2h.01M397.8 242.4h.01M381.4 232.3h.01M399.2 231.9h.01M382.0 275.0h.01M383.1 273.9h.01M383.2 237.4h.01M399.8 229.5h.01M394.7 240.8h.01M352.5 250.5h.01M372.6 239.9h.01M357.4 272.1h.01M395.7 222.6h.01M362.7 253.5h.01M384.2 241.4h.01M380.6 244.4h.01M373.2 284.5h.01M388.7 277.0h.01M401.6 237.9h.01M354.7 287.5h.01M394.8 248.6h.01M378.1 272.7h.01M403.7 248.1h.01M376.4 276.6h.01M370.0 276.1h.01M400.3 255.2h.01M378.0 282.0h.01M363.2 262.7h.01M368.7 251.0h.01M398.7 255.9h.01M390.5 258.5h.01M378.6 241.0h.01M359.8 279.1h.01M355.9 270.3h.01M402.3 248.7h.01M354.5 272.8h.01M367.5 280.9h.01" stroke="#c2150d" stroke-width="1.85" stroke-linecap="round" fill="none"/>
<path d="M378.5 265.4h.01M381.2 273.0h.01M382.8 244.7h.01M409.5 237.4h.01M394.3 227.8h.01M380.6 238.2h.01M367.6 277.6h.01M398.2 261.0h.01M397.1 257.0h.01M382.1 271.4h.01M399.1 250.0h.01M398.0 246.8h.01M369.4 264.5h.01M370.2 242.4h.01M398.4 249.4h.01M378.9 265.2h.01M361.4 263.6h.01M356.6 283.1h.01M394.6 253.8h.01M389.2 225.1h.01M370.6 241.5h.01M402.1 247.5h.01M385.6 247.2h.01M389.4 246.6h.01M370.7 263.6h.01M362.3 286.8h.01M386.4 270.9h.01M401.4 225.1h.01M386.9 255.6h.01M375.7 282.0h.01M360.5 270.0h.01M391.5 224.5h.01M391.8 242.5h.01M396.2 248.1h.01M383.3 264.7h.01M367.2 275.3h.01M348.0 254.9h.01M368.8 241.3h.01M389.8 247.5h.01M379.3 243.5h.01M337.5 266.0h.01M356.8 279.5h.01M390.5 226.3h.01M366.5 288.1h.01M383.5 242.7h.01M366.9 286.7h.01M384.8 248.9h.01M385.6 268.8h.01M356.2 285.4h.01M384.4 255.4h.01M390.2 224.0h.01M382.8 274.0h.01" stroke="#ac0000" stroke-width="1.85" stroke-linecap="round" fill="none"/>
<path d="M373.6 249.3h.01M355.3 276.1h.01M376.1 248.7h.01M362.7 288.2h.01M358.8 287.5h.01M394.8 261.2h.01M382.1 229.9h.01M373.1 277.6h.01M400.9 249.4h.01M401.7 241.9h.01M377.5 237.0h.01M371.7 261.7h.01M371.6 250.6h.01M384.3 248.3h.01M387.2 254.0h.01M383.4 240.7h.01M384.1 260.5h.01M357.0 254.8h.01M377.0 251.0h.01M355.2 287.9h.01M365.5 258.8h.01M377.4 245.8h.01M355.8 285.1h.01M382.9 231.8h.01M373.5 259.9h.01M361.5 278.0h.01M352.8 269.2h.01M371.9 254.8h.01M389.2 269.2h.01M394.6 256.7h.01M354.0 279.1h.01M352.7 290.0h.01M398.8 239.5h.01M385.3 233.9h.01M361.1 258.2h.01M404.9 231.5h.01M372.1 258.2h.01M374.0 277.5h.01M405.8 229.3h.01M365.5 281.7h.01" stroke="#8e0000" stroke-width="1.85" stroke-linecap="round" fill="none"/>
<text x="371.3" y="217.1" text-anchor="middle" font-style="italic">MZB1</text>
<rect x="416.7" y="219.20" width="3.0" height="81.00" fill="url(#orrd)" stroke="#8a8a8a" stroke-width="0.45"/>
<line x1="419.7" x2="422.9" y1="300.20" y2="300.20" stroke="#333" stroke-width="0.75"/>
<text x="426.5" y="303.3">0</text>
<line x1="419.7" x2="422.9" y1="253.91" y2="253.91" stroke="#333" stroke-width="0.75"/>
<text x="426.5" y="257.01">3</text>
<line x1="419.7" x2="422.9" y1="223.06" y2="223.06" stroke="#333" stroke-width="0.75"/>
<text x="426.5" y="226.16">5</text>
<path d="M463.6 273.0h.01M459.0 258.6h.01M468.5 284.1h.01M468.2 249.4h.01M475.7 263.1h.01M493.3 240.5h.01M489.3 273.9h.01M471.9 278.9h.01M465.8 265.9h.01M525.7 237.7h.01M495.7 248.9h.01M527.5 231.3h.01M465.1 267.0h.01M508.3 259.8h.01M524.5 246.6h.01M465.9 253.2h.01M512.3 238.5h.01M456.0 261.7h.01M485.3 277.6h.01M508.1 226.8h.01M500.5 248.0h.01M499.1 240.6h.01M479.2 279.2h.01M490.8 277.6h.01M474.0 295.6h.01M487.0 289.3h.01M487.1 264.5h.01M511.5 247.3h.01M479.1 263.6h.01M493.5 249.0h.01M506.1 224.9h.01M513.9 241.5h.01M501.1 240.7h.01M498.3 282.8h.01M461.8 263.5h.01M513.5 224.5h.01M494.7 251.0h.01M489.0 269.6h.01M494.0 244.6h.01M472.2 276.5h.01M476.3 280.0h.01M509.2 270.6h.01M474.1 277.5h.01M504.1 270.9h.01M478.1 275.4h.01M514.6 239.8h.01M519.1 225.1h.01M476.2 282.2h.01M518.4 237.0h.01M483.2 258.8h.01M472.7 261.9h.01M493.4 282.0h.01M495.1 245.8h.01M492.6 281.1h.01M456.1 259.1h.01M509.4 269.7h.01M513.6 266.2h.01M501.8 282.5h.01M492.7 286.6h.01M479.2 278.0h.01M468.1 251.4h.01M499.8 280.4h.01M515.5 242.4h.01M451.3 255.3h.01M511.6 224.0h.01M484.5 247.5h.01M506.9 269.2h.01M455.4 264.2h.01M450.8 257.2h.01M492.1 243.7h.01M483.4 274.9h.01M483.6 276.6h.01M495.6 271.5h.01M464.7 250.7h.01M456.2 257.9h.01M501.1 260.5h.01M480.4 253.5h.01M491.2 276.4h.01M507.5 247.5h.01M498.3 244.4h.01M482.0 247.2h.01M515.0 241.8h.01M454.0 261.2h.01M458.4 269.3h.01M481.9 267.1h.01M474.5 279.5h.01M476.7 290.5h.01M507.6 270.6h.01M511.0 269.3h.01M503.5 277.8h.01M492.7 237.3h.01M472.6 264.6h.01M486.4 251.0h.01M508.6 275.7h.01M482.7 271.5h.01M465.0 251.8h.01M489.1 266.0h.01M477.5 279.1h.01M453.9 256.6h.01M497.9 264.2h.01M473.9 285.4h.01M500.4 232.1h.01M464.9 255.1h.01M467.1 274.1h.01" stroke="#fff7ec" stroke-width="1.85" stroke-linecap="round" fill="none"/>
<path d="M484.1 278.4h.01M468.1 271.1h.01M522.3 259.2h.01M467.7 266.9h.01M484.5 268.6h.01M520.6 262.8h.01M477.1 265.1h.01M465.9 267.5h.01M494.4 278.0h.01M497.7 282.5h.01M473.2 271.7h.01M501.6 274.4h.01M462.2 262.7h.01M471.4 265.5h.01M486.6 270.5h.01M454.7 263.1h.01M483.8 284.8h.01M504.0 250.5h.01M502.6 242.3h.01M488.2 269.7h.01M500.7 282.8h.01M485.3 276.6h.01M506.0 226.5h.01M451.8 252.9h.01M486.3 283.6h.01M464.3 265.8h.01M463.1 256.1h.01M502.8 275.5h.01M476.8 276.2h.01M462.5 265.6h.01M506.8 226.0h.01M490.9 284.5h.01M506.4 277.0h.01M513.2 238.9h.01M467.7 260.7h.01M484.2 288.1h.01M524.9 240.2h.01M468.6 272.2h.01M506.5 230.5h.01M486.8 276.8h.01M499.6 274.0h.01M519.1 254.9h.01M473.6 270.3h.01M472.2 272.8h.01M493.9 278.4h.01M526.4 249.5h.01M523.4 257.3h.01M477.9 265.3h.01" stroke="#feeacd" stroke-width="1.85" stroke-linecap="round" fill="none"/>
<path d="M466.8 265.0h.01M469.7 253.1h.01M476.0 256.3h.01M470.9 256.4h.01M503.6 274.0h.01M471.8 264.5h.01M500.6 279.3h.01M526.4 250.9h.01M488.1 275.2h.01M495.5 271.7h.01M489.3 289.1h.01M505.4 262.3h.01M512.3 269.0h.01M514.2 269.5h.01M476.8 270.3h.01M456.5 252.3h.01M475.9 272.6h.01M455.9 262.0h.01M483.2 286.7h.01M468.7 278.3h.01M487.0 288.8h.01M472.9 287.9h.01M465.0 267.9h.01M459.9 261.5h.01M489.6 287.8h.01M527.1 235.9h.01M452.3 257.8h.01M514.4 256.3h.01M471.7 279.1h.01M527.0 246.0h.01M493.5 275.3h.01M478.2 285.0h.01M482.6 275.8h.01M495.8 272.7h.01M491.7 277.5h.01" stroke="#fedfb6" stroke-width="1.85" stroke-linecap="round" fill="none"/>
<path d="M453.9 253.7h.01M479.1 287.3h.01M473.0 276.1h.01M498.9 273.0h.01M490.3 265.6h.01M454.9 257.5h.01M472.1 293.5h.01M456.2 266.9h.01M461.7 271.0h.01M454.8 265.0h.01M501.2 281.4h.01M526.8 241.2h.01M496.6 265.2h.01M472.0 273.8h.01M471.8 285.1h.01M460.6 261.1h.01M471.7 250.5h.01M473.5 257.1h.01M455.4 258.6h.01M468.3 254.4h.01M464.5 264.6h.01M503.6 266.8h.01M449.9 260.1h.01M473.3 269.1h.01M512.8 268.3h.01M503.5 275.3h.01M451.1 254.4h.01M478.2 270.0h.01M487.3 281.3h.01M507.9 272.9h.01M521.3 251.5h.01M469.9 279.1h.01M470.5 269.2h.01M514.2 262.2h.01M487.0 269.9h.01M459.8 261.7h.01M485.0 276.8h.01M475.1 272.1h.01M480.7 268.3h.01M492.8 279.1h.01M459.4 268.8h.01M479.9 273.6h.01M503.3 268.8h.01M466.7 266.0h.01M477.5 286.6h.01M500.5 274.0h.01M483.2 281.7h.01M485.2 280.9h.01M475.5 276.9h.01" stroke="#fdd49e" stroke-width="1.85" stroke-linecap="round" fill="none"/>
<path d="M487.0 266.1h.01M509.3 257.8h.01M458.0 261.2h.01M480.4 288.2h.01M498.4 283.8h.01M498.2 258.6h.01M457.1 254.2h.01M465.4 270.9h.01M505.0 259.3h.01M488.3 269.4h.01M514.8 257.0h.01M468.7 250.1h.01M487.5 259.3h.01M496.3 273.0h.01M468.4 253.6h.01M476.7 264.3h.01M497.7 257.1h.01M471.1 279.9h.01M484.7 276.2h.01M470.6 260.3h.01M499.2 267.2h.01M466.7 251.1h.01M467.7 254.5h.01M501.8 260.5h.01M474.7 254.8h.01M519.4 255.9h.01M472.8 294.9h.01M474.3 255.6h.01M469.0 274.5h.01M476.7 271.5h.01M452.2 263.1h.01M519.5 261.8h.01M505.4 267.9h.01M499.7 275.0h.01M500.8 273.9h.01M470.2 250.5h.01M516.5 239.5h.01M484.9 275.3h.01M501.9 249.0h.01M465.9 259.3h.01M499.5 239.9h.01M476.7 275.7h.01M469.5 253.4h.01M463.2 265.8h.01M475.8 273.8h.01M505.7 269.2h.01M478.5 273.8h.01M478.6 263.0h.01M481.2 289.7h.01M495.7 282.0h.01M451.2 253.6h.01M470.8 292.0h.01M462.8 260.8h.01M465.4 268.8h.01M460.7 260.1h.01M469.9 277.8h.01" stroke="#fdc68f" stroke-width="1.85" stroke-linecap="round" fill="none"/>
<path d="M486.1 259.6h.01M470.7 260.7h.01M471.0 264.4h.01M508.2 236.8h.01M513.0 263.0h.01M458.8 268.1h.01M465.1 265.7h.01M473.7 288.0h.01M461.8 259.0h.01M501.9 277.6h.01M506.6 268.8h.01M493.9 243.8h.01M520.6 261.1h.01M499.4 281.0h.01M496.0 286.6h.01M469.0 279.8h.01M504.9 254.0h.01M462.1 272.8h.01M477.5 265.5h.01M468.8 274.8h.01M525.2 249.3h.01M449.5 259.8h.01M466.0 269.2h.01M492.9 260.2h.01M513.7 266.3h.01M502.9 272.6h.01M490.5 243.7h.01M475.0 282.8h.01M514.5 253.3h.01M522.4 259.3h.01M527.2 241.9h.01M469.3 285.3h.01M520.9 262.0h.01M449.3 254.8h.01M460.4 265.9h.01M466.8 271.3h.01M462.9 256.6h.01M463.7 249.1h.01M506.5 278.1h.01M496.0 232.7h.01M526.0 232.8h.01M487.7 276.1h.01M514.7 224.3h.01M481.4 271.8h.01M472.7 295.1h.01M517.0 263.1h.01M501.4 261.8h.01M484.7 284.4h.01M503.0 259.2h.01" stroke="#fdb47e" stroke-width="1.85" stroke-linecap="round" fill="none"/>
<path d="M460.8 257.4h.01M508.1 240.8h.01M455.4 258.7h.01M469.4 283.1h.01M488.8 245.8h.01M463.4 268.7h.01M514.6 235.0h.01M483.1 280.0h.01M490.4 279.8h.01M493.5 241.2h.01M500.4 237.8h.01M512.7 256.4h.01M496.4 247.8h.01M493.1 287.3h.01M458.0 255.5h.01M452.1 254.4h.01M468.6 272.8h.01M492.1 285.0h.01M505.9 256.5h.01M474.3 283.1h.01M503.1 267.6h.01M475.1 288.4h.01M524.0 241.0h.01M473.5 285.1h.01M526.7 249.1h.01M513.9 248.1h.01M492.1 248.3h.01M496.6 260.9h.01M470.4 290.0h.01M509.5 240.5h.01M485.8 277.5h.01M525.9 239.4h.01M523.1 229.7h.01M522.6 231.5h.01M473.9 276.9h.01M486.6 259.1h.01M494.1 276.6h.01M468.3 267.8h.01M483.4 276.4h.01M484.6 286.7h.01M475.1 291.9h.01M518.0 255.2h.01M457.8 257.2h.01M498.6 271.0h.01M488.5 265.0h.01M480.9 262.7h.01M508.2 258.5h.01M522.1 254.9h.01M479.0 250.3h.01M520.0 248.7h.01M486.9 268.2h.01M468.8 285.4h.01M469.5 269.6h.01M470.8 286.7h.01" stroke="#fc9a65" stroke-width="1.85" stroke-linecap="round" fill="none"/>
<path d="M456.2 253.3h.01M496.2 265.4h.01M465.3 260.7h.01M447.9 254.9h.01M483.5 267.9h.01M524.1 231.4h.01M467.1 251.9h.01M459.2 261.1h.01M467.4 269.7h.01M525.9 232.8h.01M473.8 272.8h.01M527.5 236.7h.01M498.9 244.9h.01M524.4 226.8h.01M476.5 287.5h.01M482.9 279.9h.01M458.2 267.2h.01M511.5 247.9h.01M527.2 240.9h.01M516.8 247.0h.01M477.4 266.6h.01M489.9 255.3h.01M473.2 275.3h.01M524.7 240.6h.01M502.0 248.3h.01M453.0 252.5h.01M515.6 231.1h.01M503.0 241.0h.01M521.8 242.6h.01M480.0 286.8h.01M463.2 264.7h.01M493.7 246.2h.01M484.7 247.0h.01M484.4 282.7h.01M513.0 261.8h.01M504.6 244.7h.01M501.0 264.7h.01M465.7 254.9h.01M480.0 272.9h.01M526.9 233.0h.01M527.1 236.3h.01M478.6 275.7h.01M502.0 264.3h.01M489.8 258.2h.01M476.7 291.3h.01M503.2 232.5h.01M508.2 226.3h.01M483.2 281.3h.01M507.2 263.3h.01M523.5 229.3h.01M469.6 259.6h.01M507.9 224.0h.01M480.4 261.3h.01" stroke="#f88254" stroke-width="1.85" stroke-linecap="round" fill="none"/>
<path d="M514.8 235.4h.01M472.7 265.8h.01M486.1 271.8h.01M510.8 231.6h.01M525.4 241.3h.01M474.1 268.7h.01M499.7 252.3h.01M490.3 250.2h.01M486.0 266.0h.01M486.2 239.5h.01M488.1 272.5h.01M475.8 293.7h.01M525.7 229.8h.01M498.3 238.2h.01M454.8 251.5h.01M477.4 259.8h.01M468.6 263.5h.01M512.5 261.2h.01M507.8 254.5h.01M471.6 257.9h.01M514.9 227.8h.01M492.8 281.8h.01M516.1 249.4h.01M489.4 261.7h.01M487.7 259.5h.01M499.4 249.2h.01M468.8 256.9h.01M488.2 255.2h.01M494.6 265.6h.01M449.8 252.8h.01M473.4 275.6h.01M456.6 260.4h.01M501.5 264.5h.01M491.9 240.6h.01M516.1 230.4h.01M483.5 264.2h.01M490.8 240.7h.01M492.8 238.9h.01M455.8 260.4h.01M519.8 247.5h.01M496.5 241.2h.01M477.1 261.0h.01M450.0 255.1h.01M496.5 262.5h.01M519.6 257.9h.01M504.3 242.7h.01M489.6 254.8h.01M518.9 237.8h.01M503.0 233.9h.01M490.1 245.9h.01M456.3 259.9h.01M472.4 287.5h.01M455.2 266.0h.01M472.8 259.8h.01M497.4 280.9h.01M518.3 258.6h.01M501.2 242.7h.01M515.5 222.8h.01M488.8 247.0h.01M513.8 239.1h.01M513.4 229.7h.01M460.5 260.2h.01M502.1 255.4h.01" stroke="#f16b4a" stroke-width="1.85" stroke-linecap="round" fill="none"/>
<path d="M488.4 261.8h.01M492.9 280.8h.01M507.8 263.3h.01M527.2 237.4h.01M525.5 223.7h.01M479.8 260.8h.01M525.3 232.5h.01M500.1 256.0h.01M520.4 263.6h.01M518.6 249.4h.01M515.7 246.8h.01M496.8 245.0h.01M514.1 243.1h.01M523.0 247.9h.01M505.0 236.5h.01M489.3 250.6h.01M520.8 253.5h.01M502.4 236.6h.01M527.8 243.7h.01M517.4 248.3h.01M512.3 253.8h.01M496.2 237.9h.01M492.5 252.4h.01M503.3 247.2h.01M488.4 263.6h.01M523.6 234.0h.01M473.5 270.4h.01M490.7 261.2h.01M509.5 264.3h.01M516.5 243.9h.01M502.0 234.2h.01M456.2 257.0h.01M491.2 259.9h.01M525.2 252.8h.01M502.2 227.5h.01M521.1 232.7h.01M525.5 236.7h.01M505.4 236.6h.01M512.3 256.7h.01M465.5 251.3h.01M517.5 229.5h.01M515.6 245.4h.01M529.4 235.1h.01M512.4 240.8h.01M526.7 237.4h.01M486.5 241.3h.01M522.0 237.2h.01M501.9 241.4h.01M478.8 258.2h.01M502.4 238.5h.01M484.5 269.7h.01M527.2 225.7h.01M480.0 254.3h.01M513.5 223.8h.01M480.3 274.3h.01M516.4 255.9h.01M481.8 245.0h.01M477.1 275.4h.01M465.9 265.9h.01M475.9 282.9h.01" stroke="#e54e36" stroke-width="1.85" stroke-linecap="round" fill="none"/>
<path d="M515.3 243.2h.01M520.1 251.1h.01M509.1 259.6h.01M509.2 252.9h.01M500.5 244.7h.01M465.0 253.2h.01M521.7 247.3h.01M511.2 267.5h.01M509.5 240.4h.01M483.4 260.2h.01M522.7 232.7h.01M506.4 249.5h.01M516.8 250.0h.01M502.5 251.4h.01M509.9 229.8h.01M495.2 237.0h.01M498.4 240.7h.01M518.6 231.8h.01M515.6 245.9h.01M479.2 257.6h.01M488.3 241.5h.01M513.5 256.4h.01M503.6 228.6h.01M507.7 242.4h.01M518.2 241.2h.01M500.6 231.8h.01M465.9 266.6h.01M512.7 257.9h.01M484.7 239.6h.01M476.0 285.3h.01M509.5 242.5h.01M494.8 252.2h.01M500.9 237.4h.01M510.8 222.4h.01M512.2 239.3h.01M511.4 229.8h.01M510.8 232.0h.01M497.0 243.5h.01M492.3 256.1h.01M512.5 248.6h.01M521.4 248.1h.01M486.3 246.8h.01M488.3 247.1h.01M492.8 252.3h.01M507.7 238.9h.01" stroke="#d7301f" stroke-width="1.85" stroke-linecap="round" fill="none"/>
<path d="M493.0 246.3h.01M484.0 242.0h.01M484.1 244.5h.01M493.8 248.7h.01M483.8 254.8h.01M465.9 256.5h.01M515.9 261.0h.01M506.5 236.5h.01M519.4 241.9h.01M502.4 237.7h.01M522.8 238.2h.01M487.9 242.4h.01M495.2 248.1h.01M516.4 231.4h.01M495.6 249.5h.01M472.4 269.8h.01M519.2 226.9h.01M490.1 257.7h.01M462.9 252.2h.01M506.7 226.6h.01M516.9 231.9h.01M508.5 224.7h.01M484.3 245.7h.01M514.5 240.9h.01M499.7 250.1h.01M502.5 248.9h.01M521.8 241.0h.01M468.9 258.5h.01M511.2 250.0h.01M497.6 243.9h.01" stroke="#c2150d" stroke-width="1.85" stroke-linecap="round" fill="none"/>
<path d="M491.3 249.3h.01M511.1 260.0h.01M489.6 247.3h.01M492.8 254.9h.01M490.5 239.8h.01M521.6 224.1h.01M494.2 270.7h.01M498.3 240.6h.01M520.6 232.5h.01M504.0 234.1h.01M490.8 264.3h.01M506.9 225.1h.01M509.8 250.4h.01M510.9 230.7h.01M487.3 265.7h.01M512.9 222.2h.01M499.1 232.3h.01M460.0 260.3h.01M490.3 239.9h.01M519.3 237.9h.01M482.8 251.2h.01M515.8 261.0h.01" stroke="#ac0000" stroke-width="1.85" stroke-linecap="round" fill="none"/>
<path d="M499.9 249.8h.01M479.2 251.8h.01M495.5 241.3h.01M516.2 234.0h.01M505.1 228.6h.01M504.1 253.8h.01M484.4 247.3h.01M524.1 242.0h.01M493.1 251.5h.01M519.6 223.5h.01M512.0 227.8h.01M507.4 237.1h.01M494.2 245.0h.01M499.8 229.9h.01M499.8 271.4h.01M501.4 240.6h.01M482.8 253.6h.01M480.2 259.7h.01M481.7 245.8h.01M495.8 236.1h.01M503.1 244.3h.01M499.0 255.8h.01M490.5 235.8h.01M514.9 224.1h.01M506.5 225.2h.01M500.6 230.9h.01M518.6 239.8h.01M494.5 252.7h.01M502.1 247.5h.01M505.5 228.8h.01M488.7 238.9h.01M499.0 255.9h.01M502.6 239.7h.01M527.7 228.6h.01M498.9 247.0h.01M507.1 246.6h.01M493.0 249.1h.01M504.6 255.6h.01M506.1 244.0h.01M508.4 252.0h.01M503.9 233.5h.01M515.4 235.7h.01M509.2 224.5h.01M508.3 234.7h.01M499.1 247.4h.01M513.4 227.7h.01M527.5 228.6h.01M497.3 241.2h.01M513.4 222.6h.01M508.8 247.5h.01M521.3 224.4h.01M489.2 250.0h.01M484.2 248.7h.01M496.3 241.0h.01M482.6 260.0h.01M519.8 248.7h.01" stroke="#8e0000" stroke-width="1.85" stroke-linecap="round" fill="none"/>
<text x="488.8" y="217.1" text-anchor="middle" font-style="italic">IFI6</text>
<rect x="534.1" y="219.20" width="3.0" height="81.00" fill="url(#orrd)" stroke="#8a8a8a" stroke-width="0.45"/>
<line x1="537.1" x2="540.3000000000001" y1="300.20" y2="300.20" stroke="#333" stroke-width="0.75"/>
<text x="543.9" y="303.3">0</text>
<line x1="537.1" x2="540.3000000000001" y1="263.21" y2="263.21" stroke="#333" stroke-width="0.75"/>
<text x="543.9" y="266.31">2.0</text>
<line x1="537.1" x2="540.3000000000001" y1="226.23" y2="226.23" stroke="#333" stroke-width="0.75"/>
<text x="543.9" y="229.33">4.0</text>
<path d="M571.3 253.7h.01M573.6 253.3h.01M613.6 265.4h.01M587.1 253.1h.01M585.6 249.4h.01M582.7 260.7h.01M610.4 246.3h.01M610.3 280.8h.01M591.5 268.7h.01M621.5 253.8h.01M641.5 242.0h.01M607.9 239.8h.01M603.5 259.6h.01M575.4 261.2h.01M585.5 271.1h.01M610.5 251.5h.01M607.7 250.2h.01M584.5 251.9h.01M617.9 244.7h.01M607.7 265.6h.01M641.9 246.6h.01M593.2 293.7h.01M644.6 237.4h.01M639.0 224.1h.01M628.6 267.5h.01M605.5 275.2h.01M572.3 257.5h.01M585.1 266.9h.01M591.2 272.8h.01M572.8 258.7h.01M612.9 271.7h.01M576.2 268.1h.01M606.7 289.1h.01M582.8 270.9h.01M580.8 268.7h.01M602.7 277.6h.01M583.3 256.5h.01M601.9 268.6h.01M572.2 265.0h.01M589.0 257.9h.01M618.8 240.6h.01M604.4 289.3h.01M600.2 253.6h.01M638.0 262.8h.01M610.9 241.2h.01M617.8 237.8h.01M585.8 253.6h.01M610.2 281.8h.01M638.0 261.1h.01M594.8 266.6h.01M590.6 275.3h.01M573.9 252.3h.01M588.5 279.9h.01M611.9 252.7h.01M612.6 248.1h.01M613.0 249.5h.01M590.6 271.7h.01M623.5 224.9h.01M616.4 255.9h.01M579.6 262.7h.01M592.1 254.8h.01M600.9 264.2h.01M608.2 264.3h.01M570.4 252.5h.01M620.4 241.0h.01M586.2 274.8h.01M641.0 234.0h.01M586.1 278.3h.01M621.5 270.9h.01M590.2 294.9h.01M590.7 269.1h.01M593.6 282.2h.01M622.0 255.6h.01M567.4 255.1h.01M612.5 245.8h.01M573.6 257.0h.01M608.6 259.9h.01M583.3 266.6h.01M631.0 266.2h.01M602.1 247.0h.01M593.4 285.3h.01M586.4 274.5h.01M610.1 286.6h.01M644.5 235.9h.01M585.5 251.4h.01M617.2 280.4h.01M587.9 269.2h.01M569.6 263.1h.01M636.9 261.8h.01M586.7 285.3h.01M624.3 269.2h.01M617.1 275.0h.01M620.2 275.5h.01M646.8 235.1h.01M633.9 239.5h.01M618.5 260.5h.01M614.7 241.2h.01M644.3 233.0h.01M584.2 271.3h.01M597.8 253.5h.01M596.0 275.7h.01M579.9 265.6h.01M628.8 229.8h.01M640.0 231.5h.01M628.2 232.0h.01M595.6 285.0h.01M589.8 287.5h.01M591.3 276.9h.01M575.8 269.3h.01M585.1 260.7h.01M580.6 265.8h.01M614.8 280.9h.01M600.6 281.3h.01M611.5 276.6h.01M585.7 267.8h.01M618.6 242.7h.01M638.7 224.4h.01M628.4 269.3h.01M632.9 222.8h.01M639.2 241.0h.01M613.1 282.0h.01M599.2 245.0h.01M631.2 239.1h.01M590.1 295.1h.01M583.3 265.9h.01M615.3 264.2h.01M625.3 224.0h.01M617.9 274.0h.01M617.8 232.1h.01M578.1 260.1h.01M589.6 272.8h.01M586.2 285.4h.01M597.8 261.3h.01M640.8 257.3h.01M593.3 282.9h.01M588.2 286.7h.01" stroke="#fff7ec" stroke-width="1.85" stroke-linecap="round" fill="none"/>
<path d="M608.7 249.3h.01M584.2 265.0h.01M632.7 243.2h.01M601.8 247.3h.01M589.3 278.9h.01M639.7 259.2h.01M584.8 269.7h.01M629.4 227.8h.01M644.9 236.7h.01M625.2 254.5h.01M605.7 269.4h.01M575.6 267.2h.01M608.2 277.6h.01M618.6 281.4h.01M594.2 270.3h.01M569.5 254.4h.01M615.8 240.7h.01M609.5 285.0h.01M606.7 250.6h.01M593.3 272.6h.01M596.5 263.6h.01M615.1 282.5h.01M590.8 275.6h.01M573.3 262.0h.01M574.0 260.4h.01M589.8 269.8h.01M591.7 283.1h.01M592.5 288.4h.01M600.6 286.7h.01M601.2 284.8h.01M591.5 277.5h.01M585.7 254.4h.01M590.9 270.4h.01M583.4 269.2h.01M580.6 264.7h.01M628.3 230.7h.01M620.9 275.3h.01M591.7 255.6h.01M610.0 281.1h.01M637.0 257.9h.01M619.2 282.5h.01M632.8 235.7h.01M619.6 227.5h.01M639.8 259.3h.01M638.5 232.7h.01M621.7 242.7h.01M569.2 252.9h.01M622.8 267.9h.01M632.9 242.4h.01M568.7 255.3h.01M622.8 236.6h.01M630.4 261.8h.01M633.0 245.4h.01M622.0 244.7h.01M601.0 276.6h.01M594.2 276.2h.01M607.7 239.9h.01M566.7 254.8h.01M596.2 258.2h.01M600.0 275.8h.01M571.4 261.2h.01M594.1 291.3h.01M591.9 279.5h.01M604.0 259.1h.01M601.6 288.1h.01M610.2 252.3h.01M626.0 275.7h.01M586.0 272.2h.01M597.3 273.6h.01M598.8 271.8h.01M594.9 279.1h.01M591.0 270.3h.01M571.3 256.6h.01M591.3 285.4h.01" stroke="#feeacd" stroke-width="1.85" stroke-linecap="round" fill="none"/>
<path d="M590.1 265.8h.01M593.4 256.3h.01M578.2 257.4h.01M600.9 267.9h.01M590.4 276.1h.01M583.2 265.9h.01M589.2 264.5h.01M629.7 269.0h.01M600.5 280.0h.01M607.8 279.8h.01M644.2 241.2h.01M616.4 255.8h.01M612.0 265.6h.01M572.1 263.1h.01M590.3 287.9h.01M618.1 282.8h.01M590.9 285.1h.01M595.6 270.0h.01M604.7 281.3h.01M623.4 226.5h.01M626.8 269.7h.01M577.3 261.5h.01M594.1 271.5h.01M587.3 279.1h.01M616.5 232.3h.01M569.7 257.8h.01M618.2 273.9h.01M577.4 260.3h.01M587.8 290.0h.01M587.6 250.5h.01M597.4 272.9h.01M608.3 284.5h.01M599.4 247.2h.01M595.9 273.8h.01M582.4 251.8h.01M620.7 268.8h.01M634.4 263.1h.01" stroke="#fedfb6" stroke-width="1.85" stroke-linecap="round" fill="none"/>
<path d="M565.3 254.9h.01M625.2 263.3h.01M589.5 293.5h.01M573.6 266.9h.01M629.9 261.2h.01M600.3 279.9h.01M579.2 259.0h.01M594.5 265.1h.01M613.4 286.6h.01M586.2 256.9h.01M611.6 270.7h.01M618.9 264.5h.01M610.9 249.0h.01M572.8 258.6h.01M588.8 265.5h.01M589.6 276.5h.01M593.7 280.0h.01M621.0 266.8h.01M573.5 259.1h.01M625.3 272.9h.01M601.8 282.7h.01M582.9 251.3h.01M613.0 271.5h.01M602.3 275.3h.01M592.5 272.1h.01M577.8 265.9h.01M601.9 269.7h.01M623.8 277.0h.01M575.2 257.2h.01M610.2 279.1h.01M590.0 264.6h.01M568.6 253.6h.01M642.3 240.2h.01M594.5 275.4h.01M617.0 274.0h.01M584.1 266.0h.01M582.8 268.8h.01M577.9 260.2h.01M594.9 286.6h.01M611.3 278.4h.01M586.9 269.6h.01M595.3 265.3h.01" stroke="#fdd49e" stroke-width="1.85" stroke-linecap="round" fill="none"/>
<path d="M603.5 271.8h.01M596.5 287.3h.01M585.9 284.1h.01M606.7 273.9h.01M637.5 251.1h.01M588.1 260.7h.01M643.1 237.7h.01M572.2 251.5h.01M573.4 261.7h.01M591.1 288.0h.01M640.1 232.7h.01M579.1 271.0h.01M596.6 279.2h.01M616.8 281.0h.01M605.1 259.5h.01M586.0 272.8h.01M636.0 239.8h.01M588.0 260.3h.01M567.2 252.8h.01M589.4 273.8h.01M619.0 274.4h.01M590.9 257.1h.01M645.1 228.6h.01M619.2 260.5h.01M594.9 265.5h.01M639.2 242.6h.01M626.6 270.6h.01M597.4 286.8h.01M595.5 275.4h.01M594.5 261.0h.01M590.1 261.9h.01M580.3 252.2h.01M625.7 234.7h.01M581.7 265.8h.01M582.1 250.7h.01M640.5 229.7h.01M603.9 241.3h.01M623.9 278.1h.01M613.2 272.7h.01M600.8 276.4h.01M597.7 274.3h.01M576.8 268.8h.01M639.5 254.9h.01M604.3 268.2h.01M633.2 261.0h.01M602.6 280.9h.01M592.9 276.9h.01" stroke="#fdc68f" stroke-width="1.85" stroke-linecap="round" fill="none"/>
<path d="M604.4 266.1h.01M642.8 241.3h.01M621.0 274.0h.01M626.5 259.6h.01M605.5 272.5h.01M582.4 253.2h.01M583.3 253.2h.01M588.4 264.4h.01M611.2 248.7h.01M597.8 288.2h.01M594.8 259.8h.01M582.5 265.7h.01M617.2 271.4h.01M640.4 247.9h.01M610.5 287.3h.01M623.9 225.2h.01M628.9 247.3h.01M616.6 267.2h.01M645.2 243.7h.01M586.4 279.8h.01M620.5 267.6h.01M604.0 270.5h.01M606.4 269.6h.01M605.6 269.7h.01M582.4 267.9h.01M627.2 250.4h.01M600.6 258.8h.01M568.5 254.4h.01M620.3 272.6h.01M631.6 262.2h.01M572.8 264.2h.01M638.3 262.0h.01M600.8 274.9h.01M577.2 261.7h.01M573.6 257.9h.01M608.6 276.4h.01M573.7 259.9h.01M615.7 244.4h.01M590.2 259.8h.01M593.2 273.8h.01M594.1 290.5h.01M605.1 276.1h.01M588.2 292.0h.01M580.2 260.8h.01M604.2 276.8h.01M602.1 284.4h.01M587.3 277.8h.01M584.5 274.1h.01M643.8 249.5h.01" stroke="#fdb47e" stroke-width="1.85" stroke-linecap="round" fill="none"/>
<path d="M581.0 273.0h.01M576.4 258.6h.01M605.8 261.8h.01M610.7 240.5h.01M628.5 260.0h.01M641.5 231.4h.01M603.4 266.0h.01M576.6 261.1h.01M582.5 267.0h.01M574.5 254.2h.01M600.8 260.2h.01M586.8 283.1h.01M642.7 232.5h.01M619.3 277.6h.01M633.3 261.0h.01M634.2 250.0h.01M624.0 268.8h.01M636.0 249.4h.01M597.6 259.7h.01M633.1 246.8h.01M583.3 267.5h.01M644.6 240.9h.01M614.0 265.2h.01M642.1 240.6h.01M589.1 250.5h.01M633.5 230.4h.01M610.2 238.9h.01M573.2 260.4h.01M579.2 263.5h.01M630.9 224.5h.01M609.9 252.4h.01M636.6 226.9h.01M642.6 249.3h.01M581.9 264.6h.01M621.0 228.6h.01M625.1 242.4h.01M567.3 260.1h.01M641.4 241.0h.01M635.6 241.2h.01M602.7 276.6h.01M644.1 249.1h.01M607.0 287.8h.01M629.7 256.7h.01M602.4 276.8h.01M583.3 259.3h.01M629.6 239.3h.01M619.4 264.3h.01M594.1 275.7h.01M636.7 237.9h.01M572.6 266.0h.01M638.8 248.1h.01M602.0 286.7h.01M609.1 277.5h.01M635.4 255.2h.01M596.0 263.0h.01M605.9 265.0h.01M582.3 255.1h.01" stroke="#fc9a65" stroke-width="1.85" stroke-linecap="round" fill="none"/>
<path d="M593.1 263.1h.01M622.5 228.6h.01M617.1 252.3h.01M644.9 231.3h.01M618.0 279.3h.01M639.1 247.3h.01M642.9 223.7h.01M643.8 250.9h.01M615.8 283.8h.01M593.9 287.5h.01M623.8 249.5h.01M616.5 240.6h.01M613.7 273.0h.01M632.3 227.8h.01M611.3 243.8h.01M578.0 261.1h.01M618.5 240.7h.01M615.7 282.8h.01M579.5 272.8h.01M605.7 241.5h.01M636.8 255.9h.01M637.2 247.5h.01M630.9 256.4h.01M604.4 288.8h.01M566.9 259.8h.01M610.4 249.1h.01M636.5 225.1h.01M635.8 237.0h.01M610.3 260.2h.01M604.7 265.7h.01M631.1 266.3h.01M610.8 282.0h.01M613.9 262.5h.01M630.3 222.2h.01M626.6 224.5h.01M596.6 278.0h.01M616.5 247.4h.01M624.1 226.6h.01M603.7 283.6h.01M609.5 243.7h.01M589.1 279.1h.01M618.4 264.7h.01M619.3 249.0h.01M603.2 277.5h.01M644.5 236.3h.01M607.5 245.9h.01M624.9 247.5h.01M619.3 241.4h.01M607.2 258.2h.01M586.9 253.4h.01M598.1 268.3h.01M625.0 270.6h.01M620.9 277.8h.01M619.9 248.9h.01M616.0 271.0h.01M598.3 262.7h.01M600.1 271.5h.01M586.3 258.5h.01M636.5 254.9h.01M613.7 241.0h.01M615.0 243.9h.01" stroke="#f88254" stroke-width="1.85" stroke-linecap="round" fill="none"/>
<path d="M610.2 254.9h.01M588.3 256.4h.01M616.3 273.0h.01M630.4 263.0h.01M629.7 238.5h.01M597.2 260.8h.01M615.6 258.6h.01M611.6 245.0h.01M625.5 226.8h.01M622.8 262.3h.01M622.4 259.3h.01M631.6 269.5h.01M586.1 250.1h.01M637.8 263.6h.01M591.4 295.6h.01M614.2 245.0h.01M604.5 264.5h.01M612.6 237.0h.01M622.4 236.5h.01M611.8 278.0h.01M616.8 249.2h.01M605.6 255.2h.01M615.7 240.6h.01M634.8 248.3h.01M585.1 254.5h.01M622.3 254.0h.01M631.3 241.5h.01M620.0 239.7h.01M638.0 232.5h.01M616.3 247.0h.01M613.9 241.2h.01M605.8 263.6h.01M608.1 261.2h.01M625.8 252.0h.01M642.6 252.8h.01M601.9 247.5h.01M607.0 254.8h.01M618.3 237.4h.01M644.4 246.0h.01M619.8 238.5h.01M644.6 225.7h.01M614.4 243.5h.01M631.9 240.9h.01M580.3 256.6h.01M629.9 248.6h.01M643.4 232.8h.01M600.2 251.2h.01M635.7 258.6h.01M605.7 247.1h.01M587.0 259.6h.01M606.6 250.0h.01M637.4 248.7h.01M618.8 261.8h.01M600.6 281.7h.01" stroke="#f16b4a" stroke-width="1.85" stroke-linecap="round" fill="none"/>
<path d="M625.5 240.8h.01M601.5 278.4h.01M615.7 238.2h.01M624.8 237.1h.01M617.2 229.9h.01M632.2 257.0h.01M604.9 259.3h.01M613.2 236.1h.01M627.3 229.8h.01M634.2 247.0h.01M640.2 238.2h.01M615.1 257.1h.01M602.1 276.2h.01M638.2 253.5h.01M584.1 251.1h.01M619.5 247.5h.01M633.0 245.9h.01M613.6 237.9h.01M633.0 231.1h.01M624.5 246.6h.01M607.5 257.7h.01M632.0 239.8h.01M626.9 264.3h.01M621.3 233.5h.01M618.0 231.8h.01M619.4 234.2h.01M592.4 282.8h.01M602.1 239.6h.01M631.9 253.3h.01M638.7 251.5h.01M644.6 241.9h.01M604.4 269.9h.01M568.2 257.2h.01M630.8 227.7h.01M626.9 240.5h.01M636.3 237.8h.01M616.9 239.9h.01M581.1 249.1h.01M617.1 250.1h.01M624.6 263.3h.01M640.9 229.3h.01M620.4 259.2h.01M625.1 238.9h.01" stroke="#e54e36" stroke-width="1.85" stroke-linecap="round" fill="none"/>
<path d="M596.6 251.8h.01M643.3 232.8h.01M626.9 240.4h.01M586.0 263.5h.01M631.5 243.1h.01M630.1 256.4h.01M594.1 264.3h.01M575.4 255.5h.01M607.3 255.3h.01M623.3 256.5h.01M589.2 285.1h.01M619.8 236.6h.01M609.3 240.6h.01M623.5 244.0h.01M611.1 246.2h.01M633.9 243.9h.01M629.0 224.0h.01M609.5 248.3h.01M634.9 229.5h.01M644.9 228.6h.01M639.4 237.2h.01M632.4 241.8h.01M609.7 256.1h.01M599.3 267.1h.01M603.7 246.8h.01M623.1 269.2h.01M592.5 291.9h.01M610.1 237.3h.01M598.6 289.7h.01M603.8 251.0h.01M606.2 247.0h.01M606.5 266.0h.01M600.0 260.0h.01" stroke="#d7301f" stroke-width="1.85" stroke-linecap="round" fill="none"/>
<path d="M617.3 249.8h.01M628.2 231.6h.01M633.6 234.0h.01M607.0 247.3h.01M626.6 252.9h.01M637.0 223.5h.01M603.6 239.5h.01M625.7 259.8h.01M643.1 229.8h.01M632.0 235.0h.01M628.9 247.9h.01M599.1 245.8h.01M619.9 251.4h.01M620.5 244.3h.01M623.9 236.5h.01M636.8 241.9h.01M632.3 224.1h.01M618.0 230.9h.01M622.9 228.8h.01M633.8 231.4h.01M619.4 248.3h.01M608.2 240.7h.01M624.3 225.1h.01M621.4 250.5h.01M620.0 242.3h.01M630.1 257.9h.01M626.9 242.5h.01M580.5 256.1h.01M625.9 224.7h.01M614.0 260.9h.01M601.7 245.7h.01M630.8 222.6h.01M620.4 233.9h.01M626.2 247.5h.01M613.4 232.7h.01M597.4 254.3h.01M632.1 224.3h.01M633.8 255.9h.01M601.6 248.7h.01M625.6 258.5h.01M628.6 250.0h.01M596.4 250.3h.01M619.5 255.4h.01" stroke="#c2150d" stroke-width="1.85" stroke-linecap="round" fill="none"/>
<path d="M626.7 257.8h.01M601.4 242.0h.01M607.9 235.8h.01M633.5 249.4h.01M596.6 257.6h.01M612.1 251.0h.01M611.4 244.6h.01M630.2 268.3h.01M631.3 248.1h.01M631.8 256.3h.01M629.8 240.8h.01M583.1 254.9h.01M610.9 275.3h.01M625.6 226.3h.01M623.9 230.5h.01M630.8 229.7h.01" stroke="#ac0000" stroke-width="1.85" stroke-linecap="round" fill="none"/>
<path d="M632.2 235.4h.01M612.9 241.3h.01M601.5 244.5h.01M613.1 248.9h.01M625.6 236.8h.01M616.3 244.9h.01M601.2 254.8h.01M641.8 226.8h.01M606.2 245.8h.01M617.9 248.0h.01M617.5 256.0h.01M613.8 247.8h.01M619.8 237.7h.01M605.3 242.4h.01M606.8 261.7h.01M606.1 238.9h.01M636.0 231.8h.01M621.4 234.1h.01M629.7 253.8h.01M620.7 247.2h.01M607.9 243.7h.01M642.9 236.7h.01M612.2 252.2h.01M634.3 231.9h.01M628.2 222.4h.01M643.3 239.4h.01M644.1 237.4h.01M624.2 226.0h.01M630.6 238.9h.01M620.6 232.5h.01M630.9 223.8h.01M637.2 248.7h.01" stroke="#8e0000" stroke-width="1.85" stroke-linecap="round" fill="none"/>
<text x="606.6" y="217.1" text-anchor="middle" font-style="italic">EPSTI1</text>
<rect x="651.8" y="219.20" width="3.0" height="81.00" fill="url(#orrd)" stroke="#8a8a8a" stroke-width="0.45"/>
<line x1="654.8" x2="658.0" y1="300.20" y2="300.20" stroke="#333" stroke-width="0.75"/>
<text x="661.6" y="303.3">0</text>
<line x1="654.8" x2="658.0" y1="252.55" y2="252.55" stroke="#333" stroke-width="0.75"/>
<text x="661.6" y="255.65">1.5</text>
<line x1="654.8" x2="658.0" y1="220.79" y2="220.79" stroke="#333" stroke-width="0.75"/>
<text x="661.6" y="223.89">2.5</text>
<path d="M349.1 366.6h.01M378.5 367.0h.01M368.4 373.4h.01M397.6 344.8h.01M361.4 388.9h.01M352.0 354.7h.01M350.8 385.7h.01M358.0 364.7h.01M358.3 357.9h.01M330.2 356.5h.01M343.1 359.0h.01M375.2 382.4h.01M365.8 369.5h.01M371.6 375.5h.01M356.4 370.3h.01M366.7 348.9h.01M406.4 343.6h.01M353.2 358.0h.01M391.4 361.2h.01M353.0 362.3h.01M366.4 346.1h.01M406.4 333.0h.01M391.5 354.5h.01M372.6 351.8h.01M368.3 367.6h.01M382.8 346.3h.01M347.4 368.6h.01M370.4 374.1h.01M406.8 348.2h.01M403.9 325.7h.01M407.8 325.3h.01M353.3 366.0h.01M337.2 359.1h.01M356.1 374.4h.01M359.7 361.4h.01M337.7 360.3h.01M394.6 340.1h.01M338.5 368.5h.01M366.1 356.4h.01M406.7 328.4h.01M338.3 363.3h.01M377.8 373.3h.01M341.1 369.7h.01M371.6 390.7h.01M345.7 370.3h.01M407.6 334.1h.01M367.6 379.2h.01M387.7 363.9h.01M382.8 349.6h.01M384.2 379.2h.01M366.8 370.2h.01M361.5 380.8h.01M396.5 371.1h.01M382.1 373.0h.01M383.7 342.2h.01M402.7 365.2h.01M356.3 397.2h.01M369.3 390.9h.01M388.9 370.4h.01M365.1 355.2h.01M383.5 383.0h.01M378.6 374.6h.01M382.7 339.4h.01M359.1 371.9h.01M379.1 346.6h.01M396.4 344.7h.01M405.3 349.5h.01M375.1 383.4h.01M348.2 369.1h.01M395.0 358.0h.01M359.0 365.9h.01M381.7 382.6h.01M369.4 366.1h.01M409.5 342.5h.01M375.4 388.9h.01M409.1 342.8h.01M385.4 345.9h.01M392.2 331.4h.01M388.8 338.1h.01M377.5 338.6h.01M355.5 376.9h.01M371.7 363.3h.01M387.3 338.1h.01M393.8 348.9h.01M407.0 342.2h.01M381.7 350.8h.01M350.9 374.4h.01M374.4 386.6h.01M376.5 372.3h.01M400.9 341.4h.01M353.4 381.5h.01M367.0 377.8h.01M361.4 365.2h.01M376.9 367.2h.01M381.5 368.8h.01M332.1 354.4h.01M354.3 375.4h.01M354.1 386.7h.01M355.7 377.2h.01M377.5 349.7h.01M380.6 342.2h.01M349.0 352.7h.01M410.1 345.3h.01M371.0 340.5h.01M351.3 381.4h.01M383.8 366.1h.01M388.4 326.5h.01M354.0 352.1h.01M350.0 356.1h.01M357.0 356.4h.01M368.9 372.1h.01M357.4 390.0h.01M344.4 374.4h.01M359.8 367.1h.01M337.0 364.7h.01M385.3 342.6h.01M344.1 365.1h.01M395.8 326.1h.01M371.3 371.2h.01M358.6 381.6h.01M351.1 376.4h.01M385.6 348.8h.01M370.7 365.2h.01M405.9 335.6h.01M395.8 358.0h.01M362.3 388.4h.01M346.8 366.2h.01M385.9 368.4h.01M355.2 389.5h.01M390.0 344.0h.01M386.4 372.5h.01M355.8 372.0h.01M355.1 396.5h.01M348.3 370.8h.01M373.0 362.8h.01M401.4 326.7h.01M359.4 362.6h.01M345.5 366.3h.01M332.3 356.7h.01M388.4 345.6h.01M383.0 384.4h.01M390.7 353.6h.01M385.8 376.9h.01M400.5 342.8h.01M369.6 367.3h.01M396.0 367.9h.01M375.7 383.6h.01M385.2 374.2h.01M355.8 386.7h.01M360.5 371.6h.01M367.6 378.2h.01M378.8 364.1h.01M356.6 357.2h.01M374.9 382.7h.01M401.9 359.5h.01M338.4 360.7h.01M338.5 358.6h.01M369.6 382.9h.01M357.3 384.4h.01M390.2 374.5h.01M391.7 371.3h.01M342.2 363.1h.01M366.7 384.3h.01M375.0 388.2h.01M403.4 334.3h.01M361.5 379.6h.01M352.2 380.7h.01M409.4 337.5h.01M407.8 338.3h.01M382.1 382.0h.01M334.5 364.7h.01M401.8 363.4h.01M351.6 386.9h.01M334.6 359.4h.01M366.8 349.1h.01M387.7 338.2h.01M368.6 385.2h.01M399.2 333.5h.01M403.2 363.6h.01M369.3 371.5h.01M345.4 357.7h.01M382.0 376.6h.01M333.1 358.8h.01M385.1 377.1h.01M383.1 375.5h.01M347.8 352.9h.01M374.4 349.9h.01M393.1 324.0h.01M365.7 376.5h.01M395.3 363.4h.01M352.7 391.6h.01M386.9 346.3h.01M377.9 373.1h.01M383.3 366.3h.01M359.1 377.8h.01M367.2 376.9h.01M338.5 359.5h.01M348.0 356.5h.01M367.3 378.4h.01M383.4 362.1h.01M348.2 360.9h.01M362.3 374.5h.01M409.3 347.6h.01M357.4 373.7h.01M375.8 376.9h.01M409.2 334.6h.01M342.7 367.5h.01M373.5 378.0h.01M360.9 377.3h.01M384.2 343.0h.01M389.1 327.6h.01M338.6 361.5h.01M366.8 371.3h.01M373.2 386.1h.01M388.7 378.6h.01M374.6 357.7h.01M401.6 339.5h.01M345.2 358.2h.01M337.5 367.6h.01M372.1 359.8h.01M364.9 377.4h.01M336.3 362.8h.01M356.2 378.5h.01M359.0 392.9h.01M340.7 370.9h.01M351.8 355.0h.01M345.5 367.4h.01M356.8 381.1h.01M378.3 334.3h.01M358.1 375.4h.01M362.3 355.9h.01M378.1 374.3h.01M368.6 348.4h.01M359.0 392.1h.01M388.0 370.8h.01M365.5 382.9h.01M360.8 375.4h.01M365.7 378.0h.01M370.0 377.7h.01M393.3 370.9h.01M360.9 364.6h.01M354.9 366.2h.01M363.5 391.3h.01M362.6 375.9h.01M380.9 372.6h.01M378.0 383.6h.01M370.8 366.6h.01M363.2 364.3h.01M341.7 370.4h.01M371.1 348.6h.01M390.9 377.3h.01M347.3 353.4h.01M353.1 393.6h.01M359.4 377.0h.01M351.9 361.2h.01M381.9 375.6h.01M396.1 340.7h.01M401.4 356.5h.01M355.0 396.7h.01M404.4 356.5h.01M359.8 380.7h.01M385.6 370.4h.01M348.2 367.5h.01M355.9 371.9h.01M349.0 367.6h.01M399.3 364.7h.01M336.2 358.2h.01M359.8 388.2h.01M380.2 365.8h.01M383.7 363.4h.01M356.2 387.0h.01M367.0 386.0h.01M382.8 375.6h.01M347.2 356.7h.01M376.2 380.0h.01M351.1 387.0h.01M365.5 383.3h.01M362.7 362.9h.01M405.7 358.9h.01M351.8 371.2h.01M360.2 366.9h.01M353.1 388.3h.01" stroke="#fff7ec" stroke-width="1.85" stroke-linecap="round" fill="none"/>
<path d="M397.1 337.0h.01M345.9 374.6h.01M350.5 351.0h.01M375.1 356.5h.01M354.2 380.5h.01M390.1 364.9h.01M340.3 362.8h.01M385.9 375.6h.01M390.4 342.4h.01M366.3 343.6h.01M409.8 332.9h.01M401.9 325.1h.01M349.7 371.3h.01M347.3 354.8h.01M408.2 334.4h.01M358.1 395.3h.01M408.0 331.4h.01M350.0 368.5h.01M351.7 384.7h.01M371.1 347.4h.01M358.8 389.1h.01M347.4 367.3h.01M350.9 365.1h.01M394.6 370.6h.01M348.2 358.1h.01M340.5 368.8h.01M344.0 372.6h.01M337.1 366.6h.01M398.2 362.6h.01M351.0 351.7h.01M402.9 364.4h.01M375.8 342.8h.01M376.2 345.4h.01M398.0 348.4h.01M350.7 355.2h.01M402.9 362.7h.01M372.2 356.9h.01M378.9 366.8h.01M338.8 353.9h.01M376.7 379.6h.01M403.1 355.1h.01M352.9 361.9h.01M355.5 373.3h.01M400.9 333.4h.01M384.3 349.9h.01M354.7 371.4h.01M356.6 384.7h.01M337.7 360.2h.01M344.5 364.3h.01M365.8 365.8h.01M380.6 384.4h.01M365.5 388.3h.01M366.1 386.4h.01M401.7 357.5h.01M354.5 378.1h.01M391.5 372.2h.01M406.3 342.6h.01M347.3 369.5h.01M358.5 383.8h.01M395.1 369.9h.01M355.0 363.5h.01M372.8 345.3h.01M388.3 328.1h.01M395.9 367.8h.01M396.8 354.9h.01M358.3 386.9h.01M397.7 337.3h.01M359.0 373.1h.01M404.7 360.9h.01M352.8 370.8h.01M387.7 369.5h.01M396.5 363.8h.01M389.2 370.8h.01M337.7 365.8h.01M346.6 367.4h.01M390.8 326.3h.01M342.3 361.9h.01M396.7 357.9h.01M397.9 347.0h.01M394.7 342.4h.01M384.3 365.9h.01M391.1 349.1h.01M360.5 386.6h.01M364.2 368.7h.01M350.0 362.3h.01M355.1 361.4h.01M350.6 369.4h.01M389.9 372.2h.01M397.0 325.9h.01M357.4 393.5h.01M400.3 356.8h.01M340.1 358.8h.01M375.1 380.7h.01M384.8 350.5h.01M375.0 338.9h.01M333.5 355.2h.01M351.2 360.1h.01M347.7 370.4h.01M364.9 361.6h.01M342.8 361.8h.01M369.2 369.8h.01M354.5 374.4h.01M352.2 379.4h.01M408.7 351.1h.01M358.2 384.5h.01" stroke="#feeacd" stroke-width="1.85" stroke-linecap="round" fill="none"/>
<path d="M341.3 360.2h.01M348.1 367.5h.01M381.2 374.6h.01M354.1 366.1h.01M349.4 353.5h.01M372.6 367.2h.01M393.5 369.1h.01M354.4 395.1h.01M362.7 389.8h.01M339.4 355.8h.01M365.7 361.8h.01M365.2 381.5h.01M387.3 360.9h.01M353.9 359.5h.01M372.7 381.4h.01M378.3 388.2h.01M338.9 362.0h.01M399.7 349.9h.01M402.9 334.1h.01M373.1 365.9h.01M335.3 354.1h.01M369.3 390.4h.01M355.6 370.7h.01M391.8 365.9h.01M351.3 376.1h.01M403.6 353.1h.01M371.9 389.4h.01M350.4 353.0h.01M409.5 343.5h.01M334.1 354.5h.01M354.0 380.7h.01M342.1 363.3h.01M411.7 336.7h.01M409.4 337.9h.01M344.8 367.2h.01M359.0 377.3h.01M388.8 379.7h.01M363.0 369.9h.01M379.7 382.5h.01M366.5 389.7h.01M376.4 378.2h.01M366.9 388.3h.01M365.0 373.1h.01M405.8 330.9h.01M390.5 360.1h.01M398.1 362.6h.01M367.5 382.5h.01M357.8 378.5h.01" stroke="#fedfb6" stroke-width="1.85" stroke-linecap="round" fill="none"/>
<path d="M369.3 367.7h.01M407.7 342.9h.01M404.6 360.8h.01M390.6 361.4h.01M370.4 376.8h.01M395.3 364.6h.01M394.8 362.8h.01M370.6 371.0h.01M382.4 357.6h.01M397.1 358.6h.01M373.1 379.2h.01M359.4 366.7h.01M334.4 356.0h.01M380.0 358.7h.01M380.0 384.1h.01M355.8 358.7h.01M385.4 369.2h.01M350.6 356.0h.01M333.4 356.0h.01M407.5 354.4h.01M352.5 352.1h.01M331.6 356.4h.01M349.1 372.9h.01M409.0 339.0h.01M361.1 359.8h.01M346.0 350.7h.01M368.9 360.7h.01M385.8 379.4h.01M398.7 357.5h.01M366.5 350.3h.01M349.4 375.7h.01" stroke="#fdd49e" stroke-width="1.85" stroke-linecap="round" fill="none"/>
<path d="M375.6 342.1h.01M371.9 348.9h.01M382.0 353.9h.01M368.4 361.2h.01M350.4 372.7h.01M404.0 348.9h.01M408.7 352.5h.01M394.3 329.4h.01M337.1 353.1h.01M380.7 385.4h.01M347.7 372.5h.01M384.8 353.0h.01M340.3 357.1h.01M381.3 357.4h.01M370.0 361.1h.01M384.7 338.2h.01M342.9 362.7h.01M353.7 367.1h.01M338.1 362.0h.01M386.3 352.1h.01M377.0 352.6h.01M384.9 343.9h.01M370.5 371.3h.01M351.0 379.9h.01M332.2 361.7h.01M365.5 360.4h.01M375.2 361.8h.01M367.0 341.2h.01M367.0 348.6h.01M384.1 384.1h.01M409.0 350.7h.01M396.2 349.7h.01M394.6 358.3h.01M383.2 339.0h.01M347.0 352.3h.01M394.8 350.2h.01M408.3 334.4h.01M374.0 379.1h.01M389.5 364.9h.01M350.9 373.8h.01M393.5 351.6h.01M379.9 345.5h.01M343.0 361.7h.01" stroke="#fdc68f" stroke-width="1.85" stroke-linecap="round" fill="none"/>
<path d="M355.0 367.4h.01M338.5 354.9h.01M408.0 339.3h.01M366.4 380.0h.01M375.4 353.1h.01M382.9 380.9h.01M409.5 339.0h.01M362.1 362.4h.01M380.5 360.2h.01M359.7 368.2h.01M351.1 358.5h.01M388.2 358.1h.01M383.9 376.0h.01M361.5 359.2h.01M376.3 346.2h.01M389.4 348.2h.01M331.8 361.4h.01M360.4 377.0h.01M398.8 345.5h.01M395.0 359.5h.01M384.5 329.1h.01M333.6 356.9h.01M378.9 362.5h.01M408.2 341.0h.01M385.3 335.5h.01M400.6 360.2h.01M369.1 378.4h.01M384.4 357.0h.01" stroke="#fdb47e" stroke-width="1.85" stroke-linecap="round" fill="none"/>
<path d="M370.7 363.4h.01M393.4 361.6h.01M398.5 335.6h.01M355.3 377.7h.01M402.4 352.7h.01M356.0 389.6h.01M344.1 360.6h.01M365.4 381.6h.01M393.8 349.5h.01M369.8 360.9h.01M372.8 337.4h.01M370.2 344.0h.01M384.4 349.1h.01M398.7 333.0h.01M383.4 342.3h.01M410.0 330.2h.01M397.9 332.7h.01M374.8 354.0h.01M404.1 344.2h.01M407.5 350.9h.01M385.9 330.2h.01M372.4 359.3h.01M386.9 357.2h.01M382.9 333.4h.01M384.3 335.8h.01M348.2 368.2h.01M377.1 353.8h.01M395.7 329.3h.01M365.9 378.2h.01M394.5 340.9h.01M364.3 348.8h.01M354.7 389.1h.01M388.8 332.1h.01M345.1 362.4h.01M371.4 367.6h.01M363.7 373.4h.01M390.2 325.6h.01" stroke="#fc9a65" stroke-width="1.85" stroke-linecap="round" fill="none"/>
<path d="M336.2 355.3h.01M347.6 362.3h.01M377.8 342.9h.01M375.3 347.9h.01M348.2 354.8h.01M390.5 338.4h.01M409.8 338.3h.01M376.5 346.6h.01M405.0 334.3h.01M388.7 351.1h.01M390.1 356.1h.01M381.4 342.2h.01M399.1 351.6h.01M400.9 351.0h.01M371.6 352.2h.01M358.2 374.2h.01M376.8 354.3h.01M377.9 351.1h.01M378.5 339.5h.01M401.5 328.5h.01M402.1 349.1h.01M399.8 331.1h.01M379.3 345.1h.01M395.8 325.4h.01M368.7 352.6h.01M364.1 346.6h.01M407.2 341.8h.01M362.2 375.2h.01M402.1 350.3h.01" stroke="#f88254" stroke-width="1.85" stroke-linecap="round" fill="none"/>
<path d="M361.5 353.4h.01M341.5 362.7h.01M376.1 350.3h.01M378.1 337.7h.01M399.1 348.6h.01M397.2 325.7h.01M394.6 355.4h.01M370.6 343.1h.01M356.4 379.1h.01M373.5 361.5h.01M345.2 353.8h.01M381.4 333.9h.01M381.4 349.0h.01M371.9 356.4h.01M409.8 330.2h.01M381.8 341.5h.01M393.1 333.6h.01M365.1 352.8h.01M390.5 327.9h.01M404.1 342.6h.01" stroke="#f16b4a" stroke-width="1.85" stroke-linecap="round" fill="none"/>
<path d="M391.6 359.4h.01M389.7 338.7h.01M381.2 346.5h.01M364.0 347.4h.01M378.7 349.4h.01M370.5 356.8h.01M338.2 363.6h.01M381.3 357.5h.01M384.9 341.3h.01M384.1 362.1h.01M377.4 347.4h.01M368.1 379.1h.01M395.7 324.2h.01M362.7 355.1h.01M372.4 347.5h.01M384.7 340.1h.01M380.6 346.0h.01M403.7 349.7h.01" stroke="#e54e36" stroke-width="1.85" stroke-linecap="round" fill="none"/>
<path d="M373.6 350.9h.01M382.2 351.4h.01M372.8 341.4h.01M391.8 342.0h.01M362.5 361.3h.01M398.4 351.0h.01M388.8 326.8h.01M396.2 343.1h.01M374.2 342.2h.01M397.9 347.5h.01M378.8 342.8h.01M400.7 338.6h.01M397.8 344.0h.01M393.9 325.6h.01M401.2 339.4h.01M368.8 342.9h.01M404.3 338.8h.01M404.9 333.1h.01M396.8 342.5h.01M395.5 340.5h.01" stroke="#d7301f" stroke-width="1.85" stroke-linecap="round" fill="none"/>
<path d="M393.1 333.2h.01M387.4 330.2h.01M396.9 336.6h.01M401.7 343.5h.01M375.8 350.6h.01M386.3 335.7h.01M375.1 340.5h.01M375.3 350.7h.01M392.1 352.0h.01M376.0 347.8h.01M386.2 335.1h.01M391.5 326.1h.01M386.6 344.3h.01M391.8 344.1h.01M398.8 341.1h.01M393.7 331.4h.01M409.5 327.3h.01M385.5 334.1h.01M370.6 348.7h.01M378.6 342.6h.01M385.3 360.8h.01" stroke="#c2150d" stroke-width="1.85" stroke-linecap="round" fill="none"/>
<path d="M386.4 355.4h.01M368.5 341.1h.01M380.6 339.8h.01M382.1 331.5h.01M397.2 329.4h.01M405.1 339.8h.01M382.9 332.5h.01M387.8 330.4h.01M387.2 355.6h.01M373.1 342.3h.01M381.2 348.6h.01M390.6 336.3h.01M389.0 328.2h.01M372.6 341.5h.01M366.6 347.3h.01M379.6 342.8h.01M389.8 349.1h.01M397.8 324.4h.01M382.7 333.7h.01" stroke="#ac0000" stroke-width="1.85" stroke-linecap="round" fill="none"/>
<path d="M378.0 350.5h.01M390.4 328.4h.01M384.7 339.3h.01M380.7 342.3h.01M398.4 332.0h.01M389.2 326.7h.01M396.9 341.4h.01M393.2 332.3h.01M395.2 323.8h.01M374.4 345.3h.01M391.8 342.1h.01M384.2 350.6h.01M405.4 331.3h.01M397.3 343.4h.01M383.5 344.3h.01M382.0 351.7h.01M403.6 326.0h.01M375.1 353.9h.01M371.5 351.6h.01M361.3 351.9h.01M395.7 331.3h.01M402.3 350.3h.01M390.0 340.5h.01" stroke="#8e0000" stroke-width="1.85" stroke-linecap="round" fill="none"/>
<text x="371.3" y="318.6" text-anchor="middle" font-style="italic">IFI27</text>
<rect x="416.7" y="320.60" width="3.0" height="81.30" fill="url(#orrd)" stroke="#8a8a8a" stroke-width="0.45"/>
<line x1="419.7" x2="422.9" y1="401.90" y2="401.90" stroke="#333" stroke-width="0.75"/>
<text x="426.5" y="405.0">0</text>
<line x1="419.7" x2="422.9" y1="369.18" y2="369.18" stroke="#333" stroke-width="0.75"/>
<text x="426.5" y="372.28">2</text>
<line x1="419.7" x2="422.9" y1="336.47" y2="336.47" stroke="#333" stroke-width="0.75"/>
<text x="426.5" y="339.57">4</text>
<path d="M514.8 337.0h.01M473.0 377.7h.01M504.1 355.4h.01M524.1 343.6h.01M499.7 353.9h.01M503.6 375.6h.01M495.7 350.5h.01M524.1 333.0h.01M522.3 360.8h.01M490.3 351.8h.01M490.3 367.2h.01M465.1 368.6h.01M488.1 374.1h.01M475.8 395.3h.01M471.0 366.0h.01M472.1 395.1h.01M498.2 360.2h.01M463.4 370.3h.01M525.3 334.1h.01M522.7 334.3h.01M458.2 368.8h.01M471.6 359.5h.01M490.8 379.2h.01M516.8 351.6h.01M468.4 355.2h.01M492.8 383.4h.01M520.6 362.7h.01M476.7 365.9h.01M506.5 338.1h.01M458.0 357.1h.01M519.4 343.5h.01M477.4 368.2h.01M489.9 356.9h.01M496.6 366.8h.01M494.2 372.3h.01M475.9 374.2h.01M466.7 352.7h.01M505.5 330.4h.01M501.6 376.0h.01M517.4 349.9h.01M472.4 371.4h.01M504.9 355.6h.01M502.6 341.3h.01M515.6 347.5h.01M455.8 362.0h.01M453.0 354.1h.01M483.2 388.3h.01M454.7 364.7h.01M494.0 346.2h.01M487.0 390.4h.01M503.6 368.4h.01M493.0 350.7h.01M466.0 370.8h.01M512.8 369.9h.01M500.7 384.4h.01M496.5 364.1h.01M492.6 382.7h.01M519.6 359.5h.01M487.3 382.9h.01M475.0 384.4h.01M514.5 354.9h.01M469.0 376.1h.01M509.2 326.1h.01M479.2 379.6h.01M489.6 389.4h.01M452.2 364.7h.01M451.8 354.5h.01M499.1 333.9h.01M451.3 356.9h.01M506.7 328.2h.01M506.9 370.8h.01M465.5 352.9h.01M527.5 330.2h.01M470.4 391.6h.01M483.6 378.2h.01M460.4 367.5h.01M513.4 324.2h.01M512.2 340.9h.01M514.5 342.5h.01M492.3 357.7h.01M455.2 367.6h.01M467.7 362.3h.01M472.8 361.4h.01M475.8 375.4h.01M495.8 374.3h.01M482.8 352.8h.01M492.8 353.9h.01M492.7 338.9h.01M521.8 342.6h.01M495.7 383.6h.01M462.8 362.4h.01M460.5 361.8h.01M520.0 350.3h.01M484.7 386.0h.01M500.5 375.6h.01M486.9 369.8h.01M467.1 375.7h.01M475.5 378.5h.01" stroke="#fff7ec" stroke-width="1.85" stroke-linecap="round" fill="none"/>
<path d="M476.0 357.9h.01M447.9 356.5h.01M492.9 382.4h.01M498.4 385.4h.01M456.2 368.5h.01M488.3 371.0h.01M499.1 342.2h.01M514.2 371.1h.01M481.7 347.4h.01M476.8 371.9h.01M487.9 344.0h.01M473.2 376.9h.01M468.6 374.4h.01M497.7 358.7h.01M471.1 381.5h.01M520.8 355.1h.01M473.4 377.2h.01M498.3 342.2h.01M456.6 362.0h.01M502.0 349.9h.01M499.0 357.5h.01M462.2 364.3h.01M477.5 367.1h.01M479.2 359.2h.01M509.2 372.2h.01M449.5 361.4h.01M465.0 369.5h.01M456.1 360.7h.01M476.0 386.9h.01M526.7 350.7h.01M470.5 370.8h.01M469.3 386.9h.01M500.9 339.0h.01M492.1 349.9h.01M496.6 362.5h.01M485.8 379.1h.01M465.9 360.9h.01M480.0 374.5h.01M527.1 337.9h.01M522.0 338.8h.01M522.6 333.1h.01M489.8 359.8h.01M458.4 370.9h.01M506.5 379.7h.01M480.7 369.9h.01M484.2 389.7h.01M483.4 378.0h.01M488.5 366.6h.01M508.6 377.3h.01M465.0 353.4h.01M470.8 393.6h.01M477.1 377.0h.01M469.6 361.2h.01M486.8 378.4h.01M497.6 345.5h.01" stroke="#feeacd" stroke-width="1.85" stroke-linecap="round" fill="none"/>
<path d="M525.4 342.9h.01M484.4 348.9h.01M498.9 374.6h.01M484.1 380.0h.01M519.6 325.1h.01M467.7 368.5h.01M473.8 374.4h.01M465.9 369.1h.01M489.4 363.3h.01M452.1 356.0h.01M471.8 386.7h.01M497.7 384.1h.01M471.4 367.1h.01M474.7 356.4h.01M468.3 356.0h.01M477.1 362.6h.01M513.7 367.9h.01M493.4 383.6h.01M512.7 359.5h.01M468.1 353.0h.01M471.7 380.7h.01M456.2 359.5h.01M478.2 386.6h.01M521.3 326.0h.01M516.4 357.5h.01M488.8 348.6h.01M464.9 356.7h.01" stroke="#fedfb6" stroke-width="1.85" stroke-linecap="round" fill="none"/>
<path d="M472.7 367.4h.01M459.0 360.2h.01M468.1 372.7h.01M480.4 389.8h.01M469.4 384.7h.01M479.2 380.8h.01M474.0 397.2h.01M490.4 381.4h.01M493.1 388.9h.01M470.6 361.9h.01M472.0 375.4h.01M493.5 350.6h.01M506.1 326.5h.01M474.3 384.7h.01M455.4 360.2h.01M475.1 390.0h.01M521.8 344.2h.01M468.8 376.4h.01M480.0 388.4h.01M472.8 396.5h.01M474.3 357.2h.01M521.1 334.3h.01M514.2 363.8h.01M486.3 385.2h.01M450.8 358.8h.01M500.8 375.5h.01M476.8 377.8h.01M478.6 377.3h.01M463.2 367.4h.01M474.5 381.1h.01M494.1 378.2h.01M507.6 372.2h.01M482.7 373.1h.01M479.9 375.2h.01M519.1 356.5h.01M472.7 396.7h.01M477.9 366.9h.01" stroke="#fdd49e" stroke-width="1.85" stroke-linecap="round" fill="none"/>
<path d="M468.5 385.7h.01M509.3 359.4h.01M458.0 362.8h.01M484.1 346.1h.01M511.2 369.1h.01M455.4 360.3h.01M456.0 363.3h.01M465.4 372.5h.01M473.7 389.6h.01M461.8 360.6h.01M505.0 360.9h.01M500.1 357.6h.01M454.8 366.6h.01M487.0 390.9h.01M520.6 364.4h.01M499.4 382.6h.01M494.4 379.6h.01M492.1 386.6h.01M518.6 341.4h.01M502.4 338.2h.01M527.8 345.3h.01M469.0 381.4h.01M467.7 356.1h.01M504.0 335.7h.01M489.0 371.2h.01M472.2 378.1h.01M474.1 379.1h.01M468.7 379.9h.01M507.7 344.0h.01M473.3 370.7h.01M476.2 383.8h.01M502.9 374.2h.01M478.2 371.6h.01M502.2 329.1h.01M527.2 343.5h.01M452.3 359.4h.01M455.4 365.8h.01M487.0 371.5h.01M463.1 357.7h.01M460.0 361.9h.01M491.2 378.0h.01M507.5 349.1h.01M506.4 378.6h.01M472.4 389.1h.01M454.0 362.8h.01M496.0 334.3h.01M497.4 382.5h.01M483.2 382.9h.01M491.7 379.1h.01M475.1 393.5h.01M481.2 391.3h.01M451.2 355.2h.01M468.6 373.8h.01M479.0 351.9h.01M503.3 370.4h.01M465.4 370.4h.01M483.2 383.3h.01" stroke="#fdc68f" stroke-width="1.85" stroke-linecap="round" fill="none"/>
<path d="M489.3 375.5h.01M492.8 356.5h.01M471.9 380.5h.01M509.2 354.5h.01M467.1 353.5h.01M527.2 339.0h.01M525.5 325.3h.01M498.3 339.8h.01M513.0 364.6h.01M524.4 328.4h.01M485.3 379.2h.01M512.5 362.8h.01M482.9 381.5h.01M512.3 370.6h.01M501.9 379.2h.01M483.1 381.6h.01M506.6 370.4h.01M496.3 374.6h.01M496.4 349.4h.01M522.8 339.8h.01M496.0 388.2h.01M524.7 342.2h.01M473.5 358.7h.01M506.9 326.7h.01M483.8 386.4h.01M461.8 365.1h.01M502.6 343.9h.01M519.4 357.5h.01M476.3 381.6h.01M519.8 349.1h.01M472.9 389.5h.01M524.0 342.6h.01M518.4 338.6h.01M450.0 356.7h.01M508.4 353.6h.01M487.3 367.3h.01M525.2 354.4h.01M509.4 371.3h.01M484.7 341.2h.01M484.4 384.3h.01M527.1 337.5h.01M509.5 344.1h.01M511.6 325.6h.01M464.3 367.4h.01M512.3 358.3h.01M517.5 331.1h.01M512.4 342.4h.01M484.9 376.9h.01M518.9 339.4h.01M449.3 356.4h.01M525.9 341.0h.01M466.8 372.9h.01M480.4 355.1h.01M502.4 340.1h.01M527.2 327.3h.01M462.9 358.2h.01M501.2 344.3h.01M484.6 388.3h.01M511.0 370.9h.01M492.8 380.7h.01M480.9 364.3h.01M523.5 330.9h.01M489.2 351.6h.01M468.9 360.1h.01M511.2 351.6h.01M473.6 371.9h.01M466.7 367.6h.01M501.4 363.4h.01M460.7 361.7h.01M485.2 382.5h.01" stroke="#fdb47e" stroke-width="1.85" stroke-linecap="round" fill="none"/>
<path d="M463.6 374.6h.01M466.8 366.6h.01M456.2 354.9h.01M510.8 333.2h.01M469.7 354.7h.01M475.7 364.7h.01M516.2 335.6h.01M470.7 362.3h.01M459.2 362.7h.01M525.9 334.4h.01M508.2 338.4h.01M527.5 338.3h.01M457.1 355.8h.01M488.8 347.4h.01M465.1 367.3h.01M514.6 336.6h.01M499.8 373.0h.01M477.1 366.7h.01M496.8 346.6h.01M526.8 342.8h.01M502.5 353.0h.01M456.5 353.9h.01M484.7 377.8h.01M495.2 349.7h.01M495.6 351.1h.01M473.2 373.3h.01M518.6 333.4h.01M512.3 355.4h.01M498.3 384.4h.01M486.6 372.1h.01M492.8 340.5h.01M488.3 343.1h.01M449.9 361.7h.01M490.1 359.3h.01M509.8 352.0h.01M509.5 365.9h.01M493.7 347.8h.01M462.9 353.8h.01M465.9 368.2h.01M459.9 363.1h.01M469.9 380.7h.01M525.5 338.3h.01M499.8 382.0h.01M519.5 363.4h.01M499.1 349.0h.01M502.8 377.1h.01M513.0 363.4h.01M459.8 363.3h.01M501.0 366.3h.01M485.0 378.4h.01M526.9 334.6h.01M486.5 342.9h.01M498.3 346.0h.01M510.8 333.6h.01M490.9 386.1h.01M519.3 339.5h.01M513.2 340.5h.01M463.7 350.7h.01M469.5 355.0h.01M521.4 349.7h.01M505.7 370.8h.01M468.3 369.4h.01M518.3 360.2h.01M518.0 356.8h.01M503.5 379.4h.01M457.8 358.8h.01M472.6 366.2h.01M507.2 364.9h.01M486.4 352.6h.01M496.3 342.6h.01M517.0 364.7h.01M513.4 331.3h.01M482.6 361.6h.01M477.5 388.2h.01M497.9 365.8h.01M469.5 371.2h.01" stroke="#fc9a65" stroke-width="1.85" stroke-linecap="round" fill="none"/>
<path d="M468.2 351.0h.01M507.8 364.9h.01M465.8 367.5h.01M520.1 352.7h.01M471.8 366.1h.01M500.5 346.3h.01M509.5 342.0h.01M488.1 376.8h.01M479.8 362.4h.01M495.5 373.3h.01M458.8 369.7h.01M468.6 365.1h.01M506.4 351.1h.01M505.4 363.9h.01M465.9 358.1h.01M507.8 356.1h.01M499.8 331.5h.01M514.8 358.6h.01M468.7 351.7h.01M487.5 360.9h.01M500.4 339.4h.01M514.9 329.4h.01M523.0 349.5h.01M495.8 337.7h.01M527.2 342.5h.01M509.9 331.4h.01M502.4 339.3h.01M500.6 332.5h.01M479.1 365.2h.01M460.6 362.7h.01M455.9 363.6h.01M516.4 333.0h.01M520.6 334.1h.01M490.8 365.9h.01M490.8 342.3h.01M498.9 348.6h.01M525.2 350.9h.01M464.5 366.2h.01M503.6 330.2h.01M473.5 372.0h.01M478.1 377.0h.01M504.6 357.2h.01M503.5 376.9h.01M491.2 361.5h.01M513.6 367.8h.01M508.3 336.3h.01M513.9 349.7h.01M484.5 349.1h.01M520.9 363.6h.01M499.7 376.6h.01M529.4 336.7h.01M495.6 373.1h.01M484.3 347.3h.01M501.9 350.6h.01M523.1 331.3h.01M499.5 341.5h.01M456.3 361.5h.01M476.7 377.3h.01M511.4 331.4h.01M473.9 378.5h.01M476.7 392.9h.01M481.9 368.7h.01M488.3 348.7h.01M480.3 375.9h.01M524.9 341.8h.01M459.4 370.4h.01M481.4 373.4h.01M484.2 350.3h.01M473.9 387.0h.01M472.2 374.4h.01M507.7 340.5h.01M469.9 379.4h.01M526.4 351.1h.01M480.4 362.9h.01" stroke="#f88254" stroke-width="1.85" stroke-linecap="round" fill="none"/>
<path d="M479.1 388.9h.01M465.3 362.3h.01M488.4 363.4h.01M490.5 341.4h.01M470.9 358.0h.01M527.5 332.9h.01M486.2 341.1h.01M521.6 325.7h.01M526.4 352.5h.01M525.7 331.4h.01M493.8 350.3h.01M498.9 346.5h.01M483.4 361.8h.01M476.5 389.1h.01M484.5 370.2h.01M515.9 362.6h.01M501.2 383.0h.01M512.7 358.0h.01M487.1 366.1h.01M495.2 338.6h.01M516.1 351.0h.01M505.0 338.1h.01M487.7 361.1h.01M505.9 358.1h.01M488.2 356.8h.01M494.6 367.2h.01M499.2 368.8h.01M449.8 354.4h.01M471.7 352.1h.01M513.9 343.1h.01M483.5 365.8h.01M504.0 352.1h.01M519.2 328.5h.01M503.3 348.8h.01M488.2 371.3h.01M513.5 358.0h.01M504.1 372.5h.01M519.1 326.7h.01M463.2 366.3h.01M451.1 356.0h.01M490.5 345.3h.01M500.6 333.4h.01M456.2 358.6h.01M521.3 353.1h.01M492.7 388.2h.01M476.7 373.1h.01M504.3 344.3h.01M516.9 333.5h.01M514.4 357.9h.01M509.5 342.1h.01M465.7 356.5h.01M490.3 341.5h.01M526.7 339.0h.01M503.0 335.5h.01M478.8 359.8h.01M484.5 371.3h.01M486.3 348.4h.01M476.7 392.1h.01M478.5 375.4h.01M487.7 377.7h.01M499.7 351.7h.01M502.5 350.5h.01M481.8 346.6h.01M499.6 375.6h.01M513.8 340.7h.01M508.2 360.1h.01M522.1 356.5h.01M477.5 380.7h.01M500.4 333.7h.01M515.8 362.6h.01M475.9 384.5h.01" stroke="#f16b4a" stroke-width="1.85" stroke-linecap="round" fill="none"/>
<path d="M496.2 367.0h.01M486.1 373.4h.01M460.8 359.0h.01M505.1 330.2h.01M525.7 339.3h.01M493.1 353.1h.01M500.6 380.9h.01M467.4 371.3h.01M508.3 361.4h.01M465.0 354.8h.01M465.9 354.8h.01M477.4 361.4h.01M483.8 356.4h.01M508.1 328.4h.01M500.5 349.6h.01M520.4 365.2h.01M480.2 361.3h.01M493.9 345.4h.01M503.1 345.9h.01M503.1 369.2h.01M496.2 339.5h.01M515.6 332.7h.01M503.0 342.6h.01M488.4 365.2h.01M490.7 362.8h.01M518.2 342.8h.01M503.9 335.1h.01M473.5 386.7h.01M506.0 328.1h.01M507.9 374.5h.01M501.8 384.1h.01M494.8 353.8h.01M508.5 326.3h.01M483.4 376.5h.01M504.6 346.3h.01M464.7 352.3h.01M527.0 347.6h.01M462.5 367.2h.01M512.5 350.2h.01M526.0 334.4h.01M486.6 360.7h.01M478.6 364.6h.01M515.5 324.4h.01M465.9 367.5h.01M453.9 358.2h.01M503.0 360.8h.01M493.9 380.0h.01M523.4 358.9h.01" stroke="#e54e36" stroke-width="1.85" stroke-linecap="round" fill="none"/>
<path d="M453.9 355.3h.01M499.9 351.4h.01M515.3 344.8h.01M495.5 342.9h.01M493.3 342.1h.01M511.1 361.6h.01M483.5 369.5h.01M489.6 348.9h.01M486.1 361.2h.01M512.0 329.4h.01M507.4 338.7h.01M512.3 340.1h.01M461.7 372.6h.01M490.5 337.4h.01M506.5 326.8h.01M511.5 348.9h.01M498.4 342.3h.01M488.7 340.5h.01M501.5 366.1h.01M496.5 342.8h.01M514.6 341.4h.01M483.2 360.4h.01M502.0 335.8h.01M515.4 337.3h.01M522.4 360.9h.01M505.4 369.5h.01M513.4 329.3h.01M470.2 352.1h.01M516.5 341.1h.01M501.1 362.1h.01M475.1 373.7h.01M493.5 376.9h.01M501.9 343.0h.01M506.8 327.6h.01M482.6 377.4h.01M513.5 325.4h.01M498.6 372.6h.01M506.5 332.1h.01M468.8 387.0h.01M470.8 388.3h.01" stroke="#d7301f" stroke-width="1.85" stroke-linecap="round" fill="none"/>
<path d="M487.0 367.7h.01M479.2 353.4h.01M474.1 370.3h.01M508.1 342.4h.01M484.0 343.6h.01M524.5 348.2h.01M521.7 348.9h.01M454.8 353.1h.01M501.4 342.2h.01M511.5 349.5h.01M493.5 342.8h.01M515.7 348.4h.01M514.9 325.7h.01M468.8 358.5h.01M494.5 354.3h.01M502.1 349.1h.01M491.9 342.2h.01M516.1 332.0h.01M501.1 342.3h.01M527.7 330.2h.01M501.8 362.1h.01M492.5 354.0h.01M523.6 335.6h.01M510.9 332.3h.01M492.9 361.8h.01M485.3 378.2h.01M512.9 323.8h.01M515.5 344.0h.01M510.8 324.0h.01M497.3 342.8h.01M497.0 345.1h.01M503.2 334.1h.01M480.0 355.9h.01M508.2 327.9h.01M489.1 367.6h.01M507.9 325.6h.01M519.8 350.3h.01" stroke="#c2150d" stroke-width="1.85" stroke-linecap="round" fill="none"/>
<path d="M491.3 350.9h.01M493.0 347.9h.01M509.1 361.2h.01M486.0 367.6h.01M489.3 390.7h.01M482.8 355.2h.01M514.1 344.7h.01M499.0 357.4h.01M516.8 348.6h.01M513.5 326.1h.01M494.7 352.6h.01M507.1 348.2h.01M506.1 345.6h.01M472.7 363.5h.01M516.5 345.5h.01M495.1 347.4h.01M484.7 348.6h.01M505.4 338.2h.01M492.1 345.3h.01M515.6 347.0h.01M502.0 365.9h.01M482.0 348.8h.01M515.0 343.4h.01M502.1 357.0h.01" stroke="#ac0000" stroke-width="1.85" stroke-linecap="round" fill="none"/>
<path d="M454.9 359.1h.01M494.2 346.6h.01M518.6 351.0h.01M499.4 350.8h.01M489.3 352.2h.01M462.1 374.4h.01M489.6 356.4h.01M490.1 347.5h.01M508.8 349.1h.01M514.7 325.9h.01" stroke="#8e0000" stroke-width="1.85" stroke-linecap="round" fill="none"/>
<text x="488.8" y="318.6" text-anchor="middle" font-style="italic">IRF7</text>
<rect x="534.1" y="320.60" width="3.0" height="81.30" fill="url(#orrd)" stroke="#8a8a8a" stroke-width="0.45"/>
<line x1="537.1" x2="540.3000000000001" y1="401.90" y2="401.90" stroke="#333" stroke-width="0.75"/>
<text x="543.9" y="405.0">0</text>
<line x1="537.1" x2="540.3000000000001" y1="356.73" y2="356.73" stroke="#333" stroke-width="0.75"/>
<text x="543.9" y="359.83">1.5</text>
<line x1="537.1" x2="540.3000000000001" y1="326.62" y2="326.62" stroke="#333" stroke-width="0.75"/>
<text x="543.9" y="329.72">2.5</text>
<path d="M626.7 359.4h.01M593.4 357.9h.01M616.3 374.6h.01M639.0 325.7h.01M629.4 329.4h.01M588.4 366.0h.01M594.8 361.4h.01M574.5 355.8h.01M586.8 384.7h.01M617.9 349.6h.01M619.3 379.2h.01M605.7 371.0h.01M633.3 362.6h.01M586.1 351.7h.01M617.2 373.0h.01M607.8 381.4h.01M638.0 364.4h.01M613.7 374.6h.01M613.2 337.7h.01M633.5 351.0h.01M614.0 366.8h.01M622.9 330.4h.01M633.8 333.0h.01M618.9 366.1h.01M616.4 357.5h.01M572.1 364.7h.01M611.4 346.2h.01M586.1 379.9h.01M582.4 369.5h.01M608.1 362.8h.01M618.1 384.4h.01M610.3 361.8h.01M610.8 383.6h.01M573.6 358.6h.01M580.3 353.8h.01M604.7 382.9h.01M631.0 367.8h.01M586.4 376.1h.01M596.6 379.6h.01M626.9 344.1h.01M580.5 357.7h.01M618.2 375.5h.01M614.0 362.5h.01M618.5 362.1h.01M644.4 347.6h.01M579.9 367.2h.01M644.6 327.3h.01M572.6 367.6h.01M599.3 368.7h.01M625.6 327.9h.01M585.7 369.4h.01M610.2 353.9h.01M596.0 364.6h.01M619.9 350.5h.01M616.0 372.6h.01M623.9 332.1h.01M591.0 371.9h.01M615.3 365.8h.01M618.8 363.4h.01M591.3 387.0h.01M604.3 369.8h.01M586.2 387.0h.01M592.9 378.5h.01" stroke="#fff7ec" stroke-width="1.85" stroke-linecap="round" fill="none"/>
<path d="M587.1 354.7h.01M593.1 364.7h.01M641.5 343.6h.01M589.2 366.1h.01M605.5 374.1h.01M593.2 395.3h.01M643.8 352.5h.01M589.5 395.1h.01M615.8 385.4h.01M638.0 362.7h.01M616.8 382.6h.01M604.5 366.1h.01M623.9 338.1h.01M640.2 339.8h.01M573.9 353.9h.01M586.0 374.4h.01M578.0 362.7h.01M633.0 332.7h.01M612.1 352.6h.01M605.7 343.1h.01M593.6 383.8h.01M569.6 364.7h.01M569.7 359.4h.01M597.4 374.5h.01M640.5 331.3h.01M608.3 386.1h.01M631.9 342.5h.01M613.2 374.3h.01M610.2 380.7h.01M576.8 370.4h.01M626.0 377.3h.01M594.9 388.2h.01M637.4 350.3h.01M587.3 379.4h.01" stroke="#feeacd" stroke-width="1.85" stroke-linecap="round" fill="none"/>
<path d="M632.2 337.0h.01M590.1 367.4h.01M582.7 362.3h.01M605.8 363.4h.01M600.9 369.5h.01M582.5 368.6h.01M628.6 369.1h.01M585.1 368.5h.01M591.2 374.4h.01M597.2 362.4h.01M573.6 368.5h.01M624.0 370.4h.01M611.6 372.3h.01M589.8 371.4h.01M589.6 378.1h.01M604.4 390.4h.01M602.7 378.2h.01M593.4 386.9h.01M610.1 388.2h.01M617.2 382.0h.01M586.7 386.9h.01M581.7 367.4h.01M610.9 376.9h.01M591.3 378.5h.01M594.1 392.1h.01M620.9 379.4h.01M588.2 393.6h.01M583.3 367.5h.01M611.3 380.0h.01M588.2 388.3h.01" stroke="#fedfb6" stroke-width="1.85" stroke-linecap="round" fill="none"/>
<path d="M585.6 351.0h.01M591.5 370.3h.01M643.1 331.4h.01M593.9 389.1h.01M600.3 381.5h.01M591.4 397.2h.01M590.8 377.2h.01M592.1 356.4h.01M600.9 365.8h.01M579.2 365.1h.01M626.6 372.2h.01M591.5 379.1h.01M597.4 388.4h.01M585.7 356.0h.01M567.3 361.7h.01M621.5 372.5h.01M641.4 342.6h.01M583.4 370.8h.01M595.5 377.0h.01M580.6 366.3h.01M625.8 353.6h.01M590.1 363.5h.01M590.9 386.7h.01M602.1 341.2h.01M619.2 384.1h.01M624.3 370.8h.01M618.4 366.3h.01M594.1 377.3h.01M575.8 370.9h.01M585.1 362.3h.01M591.9 381.1h.01M600.8 378.0h.01M598.3 364.3h.01M600.1 373.1h.01M580.2 362.4h.01M606.6 351.6h.01M590.1 396.7h.01M620.7 370.4h.01M600.0 361.6h.01M582.3 356.7h.01" stroke="#fdd49e" stroke-width="1.85" stroke-linecap="round" fill="none"/>
<path d="M578.2 359.0h.01M633.6 335.6h.01M588.3 358.0h.01M583.2 367.5h.01M588.1 362.3h.01M584.5 353.5h.01M626.9 342.0h.01M600.8 361.8h.01M580.8 370.3h.01M629.7 370.6h.01M600.5 381.6h.01M617.5 357.6h.01M631.6 371.1h.01M637.8 365.2h.01M594.1 365.9h.01M613.4 388.2h.01M611.8 379.6h.01M569.5 356.0h.01M567.2 354.4h.01M615.1 384.1h.01M590.9 358.7h.01M615.7 384.4h.01M592.5 390.0h.01M579.5 374.4h.01M601.2 386.4h.01M606.4 371.2h.01M605.6 371.3h.01M610.4 350.7h.01M626.9 365.9h.01M620.9 376.9h.01M577.3 363.1h.01M587.3 380.7h.01M631.6 363.8h.01M572.8 365.8h.01M629.7 358.3h.01M587.8 391.6h.01M622.0 346.3h.01M613.0 373.1h.01M603.2 379.1h.01M592.5 373.7h.01M577.8 367.5h.01M604.0 360.7h.01M614.8 382.5h.01M601.6 389.7h.01M625.0 372.2h.01M594.5 377.0h.01M587.0 361.2h.01M636.5 356.5h.01M600.6 383.3h.01M602.6 382.5h.01M593.3 384.5h.01" stroke="#fdc68f" stroke-width="1.85" stroke-linecap="round" fill="none"/>
<path d="M603.5 373.4h.01M632.7 344.8h.01M596.5 388.9h.01M601.8 348.9h.01M589.3 380.5h.01M625.2 364.9h.01M637.5 352.7h.01M639.7 360.8h.01M582.4 354.8h.01M572.3 359.1h.01M644.9 338.3h.01M576.2 369.7h.01M582.5 367.3h.01M602.7 379.2h.01M586.0 365.1h.01M579.2 360.6h.01M604.4 390.9h.01M597.6 361.3h.01M618.6 383.0h.01M644.2 342.8h.01M605.6 356.8h.01M615.7 342.2h.01M574.0 362.0h.01M586.4 381.4h.01M590.6 373.3h.01M638.0 334.1h.01M588.8 367.1h.01M604.0 372.1h.01M600.6 388.3h.01M586.2 376.4h.01M637.2 349.1h.01M624.5 348.2h.01M621.0 330.2h.01M566.9 361.4h.01M590.2 396.5h.01M590.7 370.7h.01M594.5 362.6h.01M635.8 338.6h.01M567.4 356.7h.01M568.5 356.0h.01M613.9 364.1h.01M591.7 357.2h.01M583.3 368.2h.01M642.9 338.3h.01M585.5 353.0h.01M568.2 358.8h.01M620.2 377.1h.01M600.8 376.5h.01M630.4 363.4h.01M587.6 352.1h.01M608.6 378.0h.01M596.0 377.3h.01M580.6 367.4h.01M623.1 370.8h.01M600.6 382.9h.01M618.6 344.3h.01M575.2 358.8h.01M590.0 366.2h.01M597.3 375.2h.01M640.9 330.9h.01M598.8 373.4h.01M617.0 375.6h.01M594.9 380.7h.01M602.1 386.0h.01M589.6 374.4h.01M584.5 375.7h.01M643.8 351.1h.01M640.8 358.9h.01" stroke="#fdb47e" stroke-width="1.85" stroke-linecap="round" fill="none"/>
<path d="M581.0 374.6h.01M576.4 360.2h.01M613.6 367.0h.01M612.9 342.9h.01M585.5 372.7h.01M644.9 332.9h.01M618.0 380.9h.01M644.6 339.0h.01M625.6 338.4h.01M630.4 364.6h.01M572.2 353.1h.01M572.8 360.3h.01M573.4 363.3h.01M606.7 390.7h.01M591.1 389.6h.01M622.4 360.9h.01M633.1 348.4h.01M610.2 383.4h.01M627.3 331.4h.01M594.8 368.2h.01M607.3 356.9h.01M590.6 376.9h.01M609.5 386.6h.01M588.5 381.5h.01M596.5 365.2h.01M638.2 355.1h.01M645.2 345.3h.01M573.3 363.6h.01M589.1 352.1h.01M572.8 360.2h.01M645.1 330.2h.01M619.2 362.1h.01M594.9 367.1h.01M624.3 326.7h.01M636.6 328.5h.01M639.2 344.2h.01M605.8 365.2h.01M590.3 389.5h.01M607.5 359.3h.01M631.1 367.9h.01M607.9 345.3h.01M638.7 353.1h.01M601.8 384.3h.01M594.1 373.1h.01M639.8 360.9h.01M607.0 389.4h.01M587.9 370.8h.01M636.9 363.4h.01M603.7 385.2h.01M604.4 371.5h.01M617.1 376.6h.01M625.9 326.3h.01M577.4 361.9h.01M626.9 342.1h.01M601.0 378.2h.01M602.3 376.9h.01M636.3 339.4h.01M602.4 378.4h.01M584.2 372.9h.01M619.4 365.9h.01M616.9 341.5h.01M573.7 361.5h.01M595.6 386.6h.01M589.8 389.1h.01M600.0 377.4h.01M594.1 392.9h.01M586.9 355.0h.01M593.2 375.4h.01M635.7 360.2h.01M609.1 379.1h.01M632.9 324.4h.01M597.7 375.9h.01M605.9 366.6h.01M582.4 353.4h.01M604.2 378.4h.01M639.5 356.5h.01M571.3 358.2h.01M633.2 362.6h.01M625.1 340.5h.01" stroke="#fc9a65" stroke-width="1.85" stroke-linecap="round" fill="none"/>
<path d="M604.4 367.7h.01M596.6 353.4h.01M585.9 385.7h.01M565.3 356.5h.01M610.3 382.4h.01M610.7 342.1h.01M606.7 375.5h.01M607.0 348.9h.01M621.0 375.6h.01M637.0 325.1h.01M603.4 367.6h.01M607.7 367.2h.01M603.6 341.1h.01M625.7 361.4h.01M641.9 348.2h.01M642.9 325.3h.01M641.8 328.4h.01M612.9 373.3h.01M625.5 328.4h.01M579.1 372.6h.01M572.2 366.6h.01M631.5 344.7h.01M640.4 349.5h.01M644.6 342.5h.01M636.8 343.5h.01M586.2 358.5h.01M615.1 358.7h.01M612.0 367.2h.01M616.6 368.8h.01M589.4 375.4h.01M619.8 338.2h.01M619.4 349.9h.01M619.0 376.0h.01M634.8 349.9h.01M585.1 356.1h.01M631.3 343.1h.01M591.7 384.7h.01M579.6 364.3h.01M593.7 381.6h.01M616.3 348.6h.01M642.6 350.9h.01M630.9 358.0h.01M581.9 366.2h.01M590.9 372.0h.01M632.0 341.4h.01M623.5 345.6h.01M595.6 371.6h.01M610.0 382.7h.01M625.3 374.5h.01M630.1 359.5h.01M621.7 344.3h.01M644.5 337.5h.01M601.9 349.1h.01M607.0 356.4h.01M577.2 363.3h.01M583.3 360.9h.01M643.3 341.0h.01M614.7 342.8h.01M644.1 339.0h.01M607.5 347.5h.01M624.9 349.1h.01M596.2 359.8h.01M601.9 371.3h.01M581.1 350.7h.01M623.9 379.7h.01M598.1 369.9h.01M592.5 393.5h.01M635.4 356.8h.01M598.6 391.3h.01M568.6 355.2h.01M633.8 357.5h.01M628.6 351.6h.01M620.4 360.8h.01M595.3 366.9h.01" stroke="#f88254" stroke-width="1.85" stroke-linecap="round" fill="none"/>
<path d="M584.2 366.6h.01M628.5 361.6h.01M642.8 342.9h.01M590.4 377.7h.01M617.1 353.9h.01M603.5 361.2h.01M575.4 362.8h.01M641.5 333.0h.01M610.5 353.1h.01M576.6 362.7h.01M617.9 346.3h.01M605.5 376.8h.01M597.8 389.8h.01M582.8 372.5h.01M629.9 362.8h.01M622.8 363.9h.01M583.3 358.1h.01M616.5 342.2h.01M589.0 359.5h.01M618.8 342.2h.01M610.9 342.8h.01M594.2 371.9h.01M614.2 346.6h.01M585.8 355.2h.01M613.8 349.4h.01M610.5 388.9h.01M575.4 357.1h.01M616.4 357.4h.01M606.8 363.3h.01M623.3 358.1h.01M636.0 341.4h.01M593.3 374.2h.01M602.1 377.8h.01M612.6 349.7h.01M606.1 340.5h.01M636.0 333.4h.01M620.0 341.3h.01M621.4 335.7h.01M620.5 369.2h.01M608.2 342.3h.01M609.9 354.0h.01M636.8 357.5h.01M621.0 368.4h.01M600.6 360.4h.01M628.3 332.3h.01M604.7 367.3h.01M611.1 347.8h.01M620.3 374.2h.01M621.3 335.1h.01M631.9 354.9h.01M602.1 348.6h.01M632.8 337.3h.01M626.6 326.1h.01M625.7 336.3h.01M568.7 356.9h.01M638.3 363.6h.01M589.1 380.7h.01M644.9 330.2h.01M594.2 377.8h.01M582.1 352.3h.01M633.9 341.1h.01M573.6 359.5h.01M583.1 356.5h.01M566.7 356.4h.01M644.5 337.9h.01M629.6 340.9h.01M623.8 378.6h.01M632.4 343.4h.01M636.7 339.5h.01M630.6 340.5h.01M571.4 362.8h.01M613.4 334.3h.01M595.9 375.4h.01M632.1 325.9h.01M624.6 364.9h.01M586.0 373.8h.01M586.3 360.1h.01M615.0 345.5h.01M582.8 370.4h.01M634.4 364.7h.01M630.8 331.3h.01M617.9 375.6h.01M617.8 333.7h.01M597.8 362.9h.01M586.9 371.2h.01" stroke="#f16b4a" stroke-width="1.85" stroke-linecap="round" fill="none"/>
<path d="M608.7 350.9h.01M617.3 351.4h.01M626.5 361.2h.01M601.5 380.0h.01M639.1 348.9h.01M615.7 339.8h.01M611.2 350.3h.01M616.3 346.5h.01M606.2 347.4h.01M642.7 334.1h.01M640.1 334.3h.01M575.6 368.8h.01M601.9 370.2h.01M628.9 349.5h.01M594.5 366.7h.01M622.4 338.1h.01M623.9 326.8h.01M606.7 352.2h.01M589.2 386.7h.01M610.9 350.6h.01M609.3 342.2h.01M629.7 355.4h.01M613.6 339.5h.01M620.0 343.9h.01M641.0 335.6h.01M630.2 369.9h.01M635.6 342.8h.01M573.5 360.7h.01M608.6 361.5h.01M592.4 384.4h.01M642.6 354.4h.01M619.6 329.1h.01M631.3 349.7h.01M612.2 353.8h.01M624.1 328.2h.01M631.8 357.9h.01M639.4 338.8h.01M614.4 345.1h.01M626.2 349.1h.01M607.2 359.8h.01M629.9 350.2h.01M620.6 334.1h.01M590.2 361.4h.01M643.4 334.4h.01M605.1 377.7h.01M602.0 388.3h.01M617.1 351.7h.01M605.7 348.7h.01M603.8 352.6h.01M642.3 341.8h.01M606.2 348.6h.01M606.5 367.6h.01M625.6 360.1h.01M596.4 351.9h.01M625.3 325.6h.01M578.1 361.7h.01" stroke="#e54e36" stroke-width="1.85" stroke-linecap="round" fill="none"/>
<path d="M571.3 355.3h.01M622.5 330.2h.01M621.5 355.4h.01M607.9 341.4h.01M601.4 343.6h.01M613.1 350.5h.01M626.6 354.5h.01M624.8 338.7h.01M629.7 340.1h.01M601.2 356.4h.01M611.6 346.6h.01M596.6 380.8h.01M608.2 379.2h.01M604.9 360.9h.01M599.1 347.4h.01M632.3 329.4h.01M620.5 345.9h.01M605.1 361.1h.01M616.8 350.8h.01M615.8 342.3h.01M618.0 332.5h.01M619.5 349.1h.01M623.5 326.5h.01M622.3 355.6h.01M633.5 332.0h.01M610.2 340.5h.01M625.1 344.0h.01M636.5 326.7h.01M618.0 333.4h.01M637.0 359.5h.01M623.4 328.1h.01M626.8 371.3h.01M630.3 323.8h.01M644.1 350.7h.01M638.5 334.3h.01M622.8 369.5h.01M632.9 344.0h.01M616.5 333.9h.01M622.8 338.2h.01M582.9 352.9h.01M609.5 349.9h.01M633.0 347.0h.01M603.9 342.9h.01M619.3 343.0h.01M619.8 340.1h.01M640.0 333.1h.01M615.7 346.0h.01M609.7 357.7h.01M638.8 349.7h.01M611.5 378.2h.01M601.6 350.3h.01M631.2 340.7h.01M577.9 361.8h.01M637.2 350.3h.01" stroke="#d7301f" stroke-width="1.85" stroke-linecap="round" fill="none"/>
<path d="M643.3 334.4h.01M625.2 356.1h.01M634.2 351.6h.01M636.0 351.0h.01M634.2 348.6h.01M612.6 338.6h.01M588.0 361.9h.01M611.9 354.3h.01M620.4 342.6h.01M620.7 348.8h.01M622.0 357.2h.01M627.2 352.0h.01M633.9 345.5h.01M619.4 335.8h.01M644.6 343.5h.01M616.5 349.0h.01M646.8 336.7h.01M607.7 341.5h.01M644.3 334.6h.01M630.8 324.2h.01M580.3 358.2h.01M630.9 325.4h.01M603.7 348.4h.01M600.2 352.8h.01M610.1 338.9h.01M613.1 383.6h.01" stroke="#c2150d" stroke-width="1.85" stroke-linecap="round" fill="none"/>
<path d="M573.6 354.9h.01M610.4 347.9h.01M610.2 356.5h.01M625.5 342.4h.01M601.5 346.1h.01M584.8 371.3h.01M623.8 351.1h.01M600.2 355.2h.01M630.1 358.0h.01M619.9 353.0h.01M619.8 339.3h.01M607.9 337.4h.01M628.9 348.9h.01M642.1 342.2h.01M584.1 352.7h.01M613.0 351.1h.01M618.5 342.3h.01M608.2 365.9h.01M573.2 362.0h.01M570.4 354.1h.01M621.4 352.1h.01M630.9 326.1h.01M596.6 359.2h.01M634.3 333.5h.01M609.5 345.3h.01M618.3 339.0h.01M629.8 342.4h.01M624.2 327.6h.01M628.8 331.4h.01M599.4 348.8h.01M638.7 326.0h.01M613.7 342.6h.01M584.1 367.6h.01M619.5 357.0h.01" stroke="#ac0000" stroke-width="1.85" stroke-linecap="round" fill="none"/>
<path d="M628.2 333.2h.01M643.1 339.3h.01M607.7 351.8h.01M583.3 354.8h.01M615.6 360.2h.01M632.0 336.6h.01M617.2 331.5h.01M632.2 358.6h.01M617.8 339.4h.01M611.3 345.4h.01M583.3 369.1h.01M605.3 344.0h.01M632.3 325.7h.01M633.0 347.5h.01M613.9 342.8h.01M612.5 347.4h.01M569.2 354.5h.01M629.0 325.6h.01M630.8 329.3h.01M634.9 331.1h.01M628.2 324.0h.01M601.7 347.3h.01M619.3 350.6h.01M597.8 355.1h.01M620.4 335.5h.01M628.2 333.6h.01M597.4 355.9h.01M628.4 370.9h.01M639.2 342.6h.01M599.2 346.6h.01" stroke="#8e0000" stroke-width="1.85" stroke-linecap="round" fill="none"/>
<text x="606.6" y="318.6" text-anchor="middle" font-style="italic">LY6E</text>
<rect x="651.8" y="320.60" width="3.0" height="81.30" fill="url(#orrd)" stroke="#8a8a8a" stroke-width="0.45"/>
<line x1="654.8" x2="658.0" y1="401.90" y2="401.90" stroke="#333" stroke-width="0.75"/>
<text x="661.6" y="405.0">0</text>
<line x1="654.8" x2="658.0" y1="363.79" y2="363.79" stroke="#333" stroke-width="0.75"/>
<text x="661.6" y="366.89">1.5</text>
<line x1="654.8" x2="658.0" y1="325.68" y2="325.68" stroke="#333" stroke-width="0.75"/>
<text x="661.6" y="328.78">3.0</text>
<path d="M382.2 453.0h.01M368.4 475.0h.01M350.8 487.3h.01M347.6 463.9h.01M371.6 477.1h.01M407.7 444.5h.01M398.5 437.2h.01M355.3 479.3h.01M356.4 471.9h.01M354.2 482.1h.01M353.2 459.6h.01M368.4 462.8h.01M348.1 469.1h.01M402.4 454.3h.01M391.4 462.8h.01M350.4 474.3h.01M404.6 462.4h.01M401.9 426.7h.01M368.3 469.2h.01M349.7 472.9h.01M368.5 442.7h.01M408.2 436.0h.01M406.8 449.8h.01M393.5 470.7h.01M394.3 431.0h.01M348.2 456.4h.01M395.3 466.2h.01M337.7 461.9h.01M409.8 439.9h.01M380.7 487.0h.01M406.7 430.0h.01M351.7 486.3h.01M341.1 471.3h.01M347.7 474.1h.01M367.6 480.8h.01M350.9 466.7h.01M376.5 448.2h.01M365.4 483.2h.01M396.5 472.7h.01M369.3 492.5h.01M372.7 483.0h.01M396.4 446.3h.01M350.7 456.8h.01M395.0 459.6h.01M402.9 464.3h.01M384.8 454.6h.01M340.3 458.7h.01M381.3 459.0h.01M377.5 440.2h.01M378.9 468.4h.01M370.0 462.7h.01M378.3 489.8h.01M376.7 481.2h.01M381.7 452.4h.01M374.4 488.2h.01M367.0 479.4h.01M403.1 456.7h.01M352.9 463.5h.01M381.5 470.4h.01M398.7 434.6h.01M377.9 452.7h.01M355.8 460.3h.01M410.0 431.8h.01M357.0 458.0h.01M385.4 470.8h.01M378.5 441.1h.01M344.1 466.7h.01M376.3 447.8h.01M370.5 472.9h.01M362.3 490.0h.01M350.6 457.6h.01M346.8 467.8h.01M385.9 431.8h.01M331.8 463.0h.01M386.4 474.1h.01M348.3 472.4h.01M372.4 460.9h.01M401.4 428.3h.01M332.3 458.3h.01M390.7 455.2h.01M355.0 465.1h.01M375.7 485.2h.01M385.2 475.8h.01M377.4 449.0h.01M355.8 488.3h.01M374.9 484.3h.01M382.9 435.0h.01M338.4 462.3h.01M390.2 476.1h.01M396.8 456.5h.01M351.3 477.7h.01M403.6 454.7h.01M342.2 464.7h.01M375.0 489.8h.01M359.0 474.7h.01M409.5 445.1h.01M382.1 483.6h.01M334.1 456.1h.01M397.8 445.6h.01M366.8 450.7h.01M387.7 439.8h.01M337.7 467.4h.01M399.2 435.1h.01M369.3 473.1h.01M333.1 460.4h.01M390.8 427.9h.01M393.1 425.6h.01M342.1 464.9h.01M352.7 493.2h.01M411.7 438.3h.01M377.9 474.7h.01M359.1 479.4h.01M394.7 444.0h.01M338.5 461.1h.01M362.3 476.1h.01M409.3 449.2h.01M342.7 469.1h.01M362.7 456.7h.01M373.5 479.6h.01M361.1 461.4h.01M409.5 428.9h.01M388.7 480.2h.01M397.3 445.0h.01M374.6 459.3h.01M346.0 452.3h.01M364.9 479.0h.01M345.5 469.0h.01M356.8 482.7h.01M403.7 451.3h.01M379.7 484.1h.01M366.5 491.3h.01M350.6 471.0h.01M389.9 473.8h.01M383.5 445.9h.01M357.4 495.1h.01M393.3 472.5h.01M385.8 481.0h.01M340.1 460.4h.01M375.1 482.3h.01M360.9 466.2h.01M363.5 492.9h.01M378.0 485.2h.01M341.7 472.0h.01M371.1 450.2h.01M347.3 455.0h.01M350.9 475.4h.01M405.8 432.5h.01M371.5 453.2h.01M366.5 451.9h.01M381.9 477.2h.01M348.2 469.1h.01M399.3 466.3h.01M336.2 459.8h.01M342.8 463.4h.01M380.2 467.4h.01M382.8 477.2h.01M369.2 471.4h.01M354.5 476.0h.01M398.1 464.2h.01M367.5 484.1h.01M362.7 464.5h.01M358.2 486.1h.01M351.8 472.8h.01" stroke="#fff7ec" stroke-width="1.85" stroke-linecap="round" fill="none"/>
<path d="M341.3 461.8h.01M378.5 468.6h.01M375.6 443.7h.01M393.4 463.2h.01M390.4 444.0h.01M406.4 434.6h.01M409.5 440.6h.01M356.1 476.0h.01M354.4 496.7h.01M389.7 440.3h.01M381.2 448.1h.01M365.7 463.4h.01M377.8 474.9h.01M356.0 491.2h.01M365.2 483.1h.01M370.6 472.6h.01M366.8 471.8h.01M373.1 480.8h.01M382.7 441.0h.01M381.7 484.2h.01M369.4 467.7h.01M409.5 444.1h.01M359.7 469.8h.01M400.9 443.0h.01M358.2 475.8h.01M354.3 477.0h.01M342.9 464.3h.01M355.7 478.8h.01M387.8 432.0h.01M338.9 463.6h.01M354.0 453.7h.01M354.7 473.0h.01M350.0 457.7h.01M353.7 468.7h.01M380.6 486.0h.01M335.3 455.7h.01M395.8 427.7h.01M402.1 450.7h.01M385.6 450.4h.01M381.2 450.2h.01M356.4 480.7h.01M395.8 459.6h.01M355.2 491.1h.01M355.1 498.1h.01M388.4 447.2h.01M391.8 467.5h.01M356.6 458.8h.01M401.9 461.1h.01M345.2 455.4h.01M395.9 469.4h.01M358.3 488.5h.01M384.1 485.7h.01M401.8 465.0h.01M387.7 471.1h.01M403.2 465.2h.01M345.4 459.3h.01M383.2 440.6h.01M354.0 482.3h.01M365.9 479.8h.01M352.5 453.7h.01M347.0 453.9h.01M367.2 478.5h.01M368.1 480.7h.01M375.8 478.5h.01M405.4 432.9h.01M395.7 425.8h.01M389.8 450.7h.01M359.0 478.9h.01M366.8 472.9h.01M373.2 487.7h.01M356.2 480.1h.01M388.0 472.4h.01M370.0 479.3h.01M368.7 454.2h.01M390.9 478.9h.01M365.0 474.7h.01M353.1 495.2h.01M371.4 469.2h.01M364.9 463.2h.01M359.8 489.8h.01M356.2 488.6h.01M365.5 484.9h.01M408.7 452.7h.01M360.2 468.5h.01M353.1 489.9h.01" stroke="#feeacd" stroke-width="1.85" stroke-linecap="round" fill="none"/>
<path d="M353.0 463.9h.01M382.9 482.5h.01M372.6 468.8h.01M347.4 470.2h.01M359.7 463.0h.01M353.9 461.1h.01M402.7 466.8h.01M388.9 472.0h.01M383.5 484.6h.01M359.4 468.3h.01M378.7 451.0h.01M375.4 490.5h.01M399.1 450.2h.01M376.5 473.9h.01M353.4 483.1h.01M380.0 485.7h.01M355.5 474.9h.01M396.2 444.7h.01M368.9 473.7h.01M359.8 468.7h.01M373.1 467.5h.01M405.9 437.2h.01M355.8 473.6h.01M355.6 472.3h.01M358.5 485.4h.01M400.7 440.2h.01M369.6 484.5h.01M366.7 485.9h.01M407.8 439.9h.01M389.2 472.4h.01M383.3 467.9h.01M357.4 475.3h.01M349.1 474.5h.01M384.3 467.5h.01M344.8 468.8h.01M393.7 433.0h.01M337.5 469.2h.01M364.2 470.3h.01M350.0 463.9h.01M385.6 472.0h.01M355.9 473.5h.01M347.7 472.0h.01M383.7 465.0h.01" stroke="#fedfb6" stroke-width="1.85" stroke-linecap="round" fill="none"/>
<path d="M336.2 456.9h.01M345.9 476.2h.01M393.1 434.8h.01M390.1 466.5h.01M391.5 456.1h.01M370.4 475.7h.01M380.6 441.4h.01M338.5 470.1h.01M371.6 492.3h.01M369.8 462.5h.01M356.3 498.8h.01M400.9 452.6h.01M359.1 473.5h.01M375.1 485.0h.01M359.0 467.5h.01M361.4 466.8h.01M370.5 458.4h.01M383.8 467.7h.01M402.9 435.7h.01M356.6 486.3h.01M365.5 489.9h.01M354.5 479.7h.01M358.6 483.2h.01M370.7 466.8h.01M407.5 452.5h.01M375.3 452.3h.01M347.3 471.1h.01M385.8 478.5h.01M367.6 479.8h.01M407.5 456.0h.01M391.7 472.9h.01M361.5 481.2h.01M351.6 488.5h.01M385.1 478.7h.01M383.1 477.1h.01M347.8 454.5h.01M378.9 464.1h.01M367.3 480.0h.01M331.6 458.0h.01M360.9 478.9h.01M338.6 463.1h.01M359.0 494.5h.01M340.7 472.5h.01M351.8 456.6h.01M355.1 463.0h.01M358.1 477.0h.01M376.4 479.8h.01M354.9 467.8h.01M362.2 476.8h.01M359.4 478.6h.01M343.0 463.3h.01M376.2 481.6h.01" stroke="#fdd49e" stroke-width="1.85" stroke-linecap="round" fill="none"/>
<path d="M355.0 469.0h.01M352.0 456.3h.01M358.3 459.5h.01M343.1 460.6h.01M365.8 471.1h.01M406.4 445.2h.01M385.9 477.2h.01M354.1 467.7h.01M349.4 455.1h.01M341.5 464.3h.01M403.9 427.3h.01M404.0 450.5h.01M337.2 460.7h.01M394.8 464.4h.01M390.4 430.0h.01M344.1 462.2h.01M390.1 457.7h.01M397.1 460.2h.01M388.8 439.7h.01M405.1 441.4h.01M393.8 450.5h.01M354.1 488.3h.01M338.2 465.2h.01M400.9 435.0h.01M344.5 465.9h.01M394.6 457.0h.01M344.4 476.0h.01M371.3 472.8h.01M391.5 473.8h.01M351.0 481.5h.01M406.3 444.2h.01M360.4 478.6h.01M359.4 464.2h.01M333.4 457.6h.01M338.5 460.2h.01M404.7 462.5h.01M403.4 435.9h.01M396.5 465.4h.01M382.0 478.2h.01M383.4 463.7h.01M388.8 481.3h.01M378.1 475.9h.01M366.9 489.9h.01M374.0 480.7h.01M362.6 477.5h.01M398.7 459.1h.01M369.1 480.0h.01M351.2 461.7h.01M355.0 498.3h.01M367.0 487.6h.01M351.1 488.6h.01M352.2 481.0h.01M357.8 480.1h.01" stroke="#fdc68f" stroke-width="1.85" stroke-linecap="round" fill="none"/>
<path d="M361.4 490.5h.01M377.8 444.5h.01M386.4 457.0h.01M381.2 476.2h.01M358.1 496.9h.01M370.4 478.4h.01M338.3 464.9h.01M358.8 490.7h.01M345.7 471.9h.01M387.3 462.5h.01M340.5 470.4h.01M382.4 459.2h.01M398.2 464.2h.01M361.5 482.4h.01M383.7 443.8h.01M402.9 466.0h.01M348.2 470.7h.01M370.2 445.6h.01M372.2 458.5h.01M355.5 478.5h.01M338.8 455.5h.01M350.9 476.0h.01M388.2 459.7h.01M349.0 454.3h.01M383.9 477.6h.01M399.7 451.5h.01M357.4 491.6h.01M389.2 428.3h.01M337.0 466.3h.01M377.0 454.2h.01M370.6 444.7h.01M401.7 459.1h.01M351.1 478.0h.01M385.9 470.0h.01M332.2 463.3h.01M395.1 471.5h.01M375.2 463.4h.01M396.0 469.5h.01M348.2 469.8h.01M388.3 429.7h.01M357.3 486.0h.01M395.0 461.1h.01M409.0 452.3h.01M371.9 491.0h.01M409.4 439.1h.01M352.8 472.4h.01M393.9 427.2h.01M334.6 461.0h.01M368.6 486.8h.01M394.6 459.9h.01M409.8 431.8h.01M396.8 444.1h.01M401.6 441.1h.01M336.3 464.4h.01M394.8 451.8h.01M363.0 471.5h.01M359.0 493.7h.01M360.8 477.0h.01M403.6 427.6h.01M370.6 450.3h.01M363.2 465.9h.01M407.2 443.4h.01M351.9 462.8h.01M401.4 458.1h.01M379.9 447.1h.01M349.0 469.2h.01M385.3 462.4h.01M382.7 435.3h.01M405.7 460.5h.01" stroke="#fdb47e" stroke-width="1.85" stroke-linecap="round" fill="none"/>
<path d="M397.1 438.6h.01M349.1 468.2h.01M350.5 452.6h.01M358.0 466.3h.01M387.4 431.8h.01M382.0 455.5h.01M350.0 470.1h.01M362.7 491.4h.01M380.5 461.8h.01M339.4 457.4h.01M371.1 449.0h.01M396.9 438.2h.01M384.2 480.8h.01M382.1 474.6h.01M401.7 445.1h.01M371.7 464.9h.01M334.4 457.6h.01M351.1 460.1h.01M376.9 468.8h.01M376.8 455.9h.01M410.1 446.9h.01M384.4 450.7h.01M351.3 483.0h.01M375.8 452.2h.01M337.7 461.8h.01M384.9 445.5h.01M369.3 492.0h.01M345.5 467.9h.01M376.0 449.4h.01M378.8 465.7h.01M373.5 463.1h.01M352.2 482.3h.01M333.6 458.5h.01M397.9 448.6h.01M348.2 462.5h.01M408.2 442.6h.01M409.2 436.2h.01M372.4 449.1h.01M354.7 490.7h.01M372.1 461.4h.01M365.5 484.5h.01M365.7 479.6h.01M375.0 440.5h.01M333.5 456.8h.01M378.6 444.2h.01M359.8 482.3h.01M402.3 451.9h.01" stroke="#fc9a65" stroke-width="1.85" stroke-linecap="round" fill="none"/>
<path d="M369.3 469.3h.01M330.2 458.1h.01M375.2 484.0h.01M340.3 464.4h.01M353.3 467.6h.01M390.5 440.0h.01M337.1 454.7h.01M362.1 464.0h.01M347.4 468.9h.01M344.0 474.2h.01M399.1 453.2h.01M378.6 476.2h.01M398.0 450.0h.01M405.3 451.1h.01M378.1 439.3h.01M388.8 428.4h.01M332.1 456.0h.01M398.4 433.6h.01M386.3 437.3h.01M365.8 467.4h.01M385.3 444.2h.01M366.1 488.0h.01M373.0 464.4h.01M400.5 444.4h.01M384.5 430.7h.01M346.6 469.0h.01M342.3 463.5h.01M395.3 465.0h.01M386.9 447.9h.01M348.0 458.1h.01M366.6 448.9h.01M409.4 439.5h.01M394.5 442.5h.01M409.0 440.6h.01M379.3 446.7h.01M380.9 474.2h.01M404.1 444.2h.01M370.8 468.2h.01M345.1 464.0h.01M363.7 475.0h.01M349.4 477.3h.01" stroke="#f88254" stroke-width="1.85" stroke-linecap="round" fill="none"/>
<path d="M338.5 456.5h.01M397.6 446.4h.01M391.6 461.0h.01M375.1 458.1h.01M372.8 443.0h.01M378.0 452.1h.01M366.4 481.6h.01M390.6 463.0h.01M408.7 454.1h.01M366.1 458.0h.01M394.6 472.2h.01M382.1 433.1h.01M376.2 447.0h.01M379.1 448.2h.01M381.3 459.1h.01M383.4 443.9h.01M338.1 463.6h.01M386.3 453.7h.01M386.9 458.8h.01M393.2 433.9h.01M398.8 447.1h.01M395.2 425.4h.01M350.4 454.6h.01M334.5 466.3h.01M381.4 435.5h.01M365.7 478.1h.01M372.6 443.1h.01M381.8 443.1h.01M389.1 429.2h.01M385.5 435.7h.01M368.6 450.0h.01M400.6 461.8h.01M389.5 466.5h.01M395.7 432.9h.01M390.0 442.1h.01" stroke="#f16b4a" stroke-width="1.85" stroke-linecap="round" fill="none"/>
<path d="M408.0 440.9h.01M372.6 453.4h.01M408.0 433.0h.01M376.1 451.9h.01M407.6 435.7h.01M387.7 465.5h.01M381.4 443.8h.01M337.1 468.2h.01M351.0 453.3h.01M364.0 449.0h.01M409.1 444.4h.01M398.4 452.6h.01M380.7 443.9h.01M382.9 434.1h.01M380.0 460.3h.01M380.6 443.8h.01M388.4 428.1h.01M397.9 434.3h.01M396.9 443.0h.01M369.6 468.9h.01M372.8 446.9h.01M367.0 442.8h.01M397.7 438.9h.01M391.5 427.7h.01M386.6 445.9h.01M390.6 437.9h.01M371.9 458.0h.01M395.7 430.9h.01M368.8 444.5h.01M384.7 441.7h.01M391.1 450.7h.01M362.3 457.5h.01M382.0 453.3h.01M397.0 427.5h.01M400.3 458.4h.01M396.1 442.3h.01M390.5 461.7h.01M404.4 458.1h.01M347.2 458.3h.01" stroke="#e54e36" stroke-width="1.85" stroke-linecap="round" fill="none"/>
<path d="M366.7 450.5h.01M366.3 445.2h.01M366.4 447.7h.01M409.8 434.5h.01M382.8 447.9h.01M347.3 456.4h.01M391.8 443.6h.01M388.7 452.7h.01M348.2 459.7h.01M382.8 451.2h.01M362.5 462.9h.01M375.8 444.4h.01M392.2 433.0h.01M372.8 439.0h.01M407.0 443.8h.01M371.6 453.8h.01M387.2 457.2h.01M384.9 442.9h.01M384.1 463.7h.01M373.1 443.9h.01M401.5 430.1h.01M383.0 486.0h.01M392.1 453.6h.01M365.5 462.0h.01M360.5 473.2h.01M367.0 450.2h.01M396.2 451.3h.01M377.1 455.4h.01M389.0 429.8h.01M396.7 459.5h.01M374.4 451.5h.01M399.8 432.7h.01M401.2 441.0h.01M384.2 444.6h.01M364.3 450.4h.01M360.5 488.2h.01M345.2 459.8h.01M368.9 462.3h.01M365.1 454.4h.01M397.8 426.0h.01M388.8 433.7h.01M361.3 453.5h.01M402.1 451.9h.01" stroke="#d7301f" stroke-width="1.85" stroke-linecap="round" fill="none"/>
<path d="M375.3 449.5h.01M407.8 426.9h.01M394.6 441.7h.01M384.7 440.9h.01M377.5 451.3h.01M371.0 442.1h.01M374.2 443.8h.01M361.5 460.8h.01M374.8 455.6h.01M404.1 445.8h.01M378.8 444.4h.01M384.3 437.4h.01M374.4 446.9h.01M384.2 452.2h.01M404.3 440.4h.01M393.1 435.2h.01M408.3 436.0h.01M384.8 452.1h.01M384.4 458.6h.01M390.2 427.2h.01" stroke="#c2150d" stroke-width="1.85" stroke-linecap="round" fill="none"/>
<path d="M373.6 452.5h.01M361.5 455.0h.01M397.2 431.0h.01M397.9 449.1h.01M375.1 442.1h.01M391.8 445.7h.01M404.9 434.7h.01M395.5 442.1h.01" stroke="#ac0000" stroke-width="1.85" stroke-linecap="round" fill="none"/>
<path d="M370.7 465.0h.01M371.9 450.5h.01M375.4 454.7h.01M405.0 435.9h.01M393.8 451.1h.01M365.1 456.8h.01M385.4 447.5h.01M397.2 427.3h.01M387.3 439.7h.01M384.7 439.8h.01M384.3 451.5h.01M389.4 449.8h.01M390.0 445.6h.01M386.2 436.7h.01M381.4 450.6h.01M391.8 443.7h.01M398.8 442.7h.01M379.6 444.4h.01M385.3 437.1h.01M380.6 447.6h.01M378.3 435.9h.01M395.8 427.0h.01M390.5 429.5h.01M375.1 455.5h.01M364.1 448.2h.01M393.5 453.2h.01" stroke="#8e0000" stroke-width="1.85" stroke-linecap="round" fill="none"/>
<text x="371.3" y="420.1" text-anchor="middle" font-style="italic">IFITM1</text>
<rect x="416.7" y="422.10" width="3.0" height="81.50" fill="url(#orrd)" stroke="#8a8a8a" stroke-width="0.45"/>
<line x1="419.7" x2="422.9" y1="503.60" y2="503.60" stroke="#333" stroke-width="0.75"/>
<text x="426.5" y="506.7">0</text>
<line x1="419.7" x2="422.9" y1="462.02" y2="462.02" stroke="#333" stroke-width="0.75"/>
<text x="426.5" y="465.12">1.5</text>
<line x1="419.7" x2="422.9" y1="434.30" y2="434.30" stroke="#333" stroke-width="0.75"/>
<text x="426.5" y="437.4">2.5</text>
<path d="M514.8 438.6h.01M510.8 434.8h.01M487.0 469.3h.01M468.5 487.3h.01M488.4 465.0h.01M447.9 458.1h.01M525.4 444.5h.01M516.2 437.2h.01M473.0 479.3h.01M474.1 471.9h.01M524.1 445.2h.01M471.9 482.1h.01M508.1 444.0h.01M471.8 467.7h.01M484.1 447.7h.01M484.1 481.6h.01M490.3 468.8h.01M465.1 470.2h.01M465.0 456.4h.01M511.2 470.7h.01M488.1 478.4h.01M471.0 467.6h.01M454.9 460.7h.01M525.7 433.0h.01M473.8 476.0h.01M527.5 439.9h.01M456.2 470.1h.01M483.4 463.4h.01M524.4 430.0h.01M495.5 474.9h.01M458.8 471.3h.01M465.1 468.9h.01M514.6 438.2h.01M461.8 462.2h.01M512.3 472.2h.01M483.1 483.2h.01M488.3 472.6h.01M484.5 471.8h.01M461.7 474.2h.01M514.2 472.7h.01M468.7 453.3h.01M516.8 453.2h.01M480.2 462.9h.01M496.3 476.2h.01M493.5 444.4h.01M481.7 449.0h.01M477.1 468.3h.01M493.9 447.0h.01M465.9 470.7h.01M520.6 464.3h.01M495.8 439.3h.01M499.4 484.2h.01M519.4 445.1h.01M473.2 478.5h.01M505.0 439.7h.01M496.0 489.8h.01M494.4 481.2h.01M492.1 488.2h.01M494.2 473.9h.01M479.1 466.8h.01M473.4 478.8h.01M456.6 463.6h.01M471.7 453.7h.01M516.1 433.6h.01M462.2 465.9h.01M515.6 449.1h.01M503.1 470.8h.01M486.6 473.7h.01M477.5 468.7h.01M515.6 434.3h.01M503.0 444.2h.01M461.8 466.7h.01M513.5 427.7h.01M489.0 472.8h.01M492.5 455.6h.01M472.2 479.7h.01M509.2 473.8h.01M507.1 449.8h.01M513.5 459.6h.01M480.0 490.0h.01M468.3 457.6h.01M503.6 431.8h.01M449.9 463.3h.01M524.0 444.2h.01M472.8 498.1h.01M466.0 472.4h.01M478.1 478.6h.01M490.1 460.9h.01M490.7 464.4h.01M514.6 443.0h.01M477.1 464.2h.01M483.2 462.0h.01M508.4 455.2h.01M503.5 478.5h.01M487.3 468.9h.01M478.2 473.2h.01M456.1 462.3h.01M475.0 486.0h.01M512.7 461.1h.01M509.4 472.9h.01M513.6 469.4h.01M501.8 485.7h.01M459.9 464.7h.01M484.4 485.9h.01M502.2 430.7h.01M476.7 474.7h.01M522.4 462.5h.01M509.2 427.7h.01M479.2 481.2h.01M489.6 491.0h.01M525.5 439.9h.01M470.5 472.4h.01M451.8 456.1h.01M505.4 471.1h.01M451.3 458.5h.01M452.3 461.0h.01M506.9 472.4h.01M464.3 469.0h.01M520.9 465.2h.01M487.0 473.1h.01M499.7 478.2h.01M500.8 477.1h.01M460.0 463.5h.01M470.4 493.2h.01M529.4 438.3h.01M483.6 479.8h.01M470.2 453.7h.01M456.2 461.1h.01M490.3 443.1h.01M480.0 476.1h.01M460.4 469.1h.01M527.1 439.5h.01M480.4 456.7h.01M491.2 479.6h.01M490.1 449.1h.01M506.8 429.2h.01M476.7 478.9h.01M522.6 434.7h.01M490.9 487.7h.01M489.8 461.4h.01M454.0 464.4h.01M476.7 494.5h.01M458.4 472.5h.01M469.5 456.6h.01M480.7 471.5h.01M475.8 477.0h.01M495.8 475.9h.01M497.4 484.1h.01M484.2 491.3h.01M468.3 471.0h.01M491.7 480.7h.01M499.7 453.3h.01M488.3 450.3h.01M511.0 472.5h.01M503.5 481.0h.01M492.8 482.3h.01M502.5 452.1h.01M480.3 477.5h.01M498.6 474.2h.01M507.2 466.5h.01M495.7 485.2h.01M480.9 465.9h.01M459.4 472.0h.01M482.7 474.7h.01M468.6 475.4h.01M506.5 433.7h.01M489.1 469.2h.01M469.6 462.8h.01M481.4 475.0h.01M486.8 480.0h.01M508.2 461.7h.01M477.5 482.3h.01M482.6 463.2h.01M460.5 463.4h.01M477.5 489.8h.01M484.7 487.6h.01M500.5 477.2h.01M468.8 488.6h.01M507.7 442.1h.01M467.1 477.3h.01M475.5 480.1h.01M480.4 464.5h.01M475.9 486.1h.01M469.5 472.8h.01" stroke="#fff7ec" stroke-width="1.85" stroke-linecap="round" fill="none"/>
<path d="M459.0 461.8h.01M479.1 490.5h.01M465.3 463.9h.01M475.7 466.3h.01M460.8 460.6h.01M492.9 484.0h.01M511.1 463.2h.01M483.5 471.1h.01M504.1 457.0h.01M484.4 450.5h.01M465.8 469.1h.01M458.0 464.4h.01M503.6 477.2h.01M509.1 462.8h.01M495.7 452.1h.01M459.2 464.3h.01M500.6 482.5h.01M508.3 463.0h.01M467.7 470.1h.01M498.4 487.0h.01M489.3 492.3h.01M494.2 448.2h.01M522.7 435.9h.01M482.9 483.1h.01M499.8 474.6h.01M490.8 480.8h.01M520.4 466.8h.01M474.0 498.8h.01M490.4 483.0h.01M514.9 431.0h.01M523.0 451.1h.01M492.8 485.0h.01M487.9 445.6h.01M499.4 452.4h.01M488.2 458.4h.01M520.8 456.7h.01M470.6 463.5h.01M499.2 470.4h.01M467.7 457.7h.01M501.1 443.9h.01M453.0 455.7h.01M483.8 488.0h.01M476.3 483.2h.01M468.8 478.0h.01M503.6 470.0h.01M472.9 491.1h.01M507.7 445.6h.01M504.1 474.1h.01M465.0 471.1h.01M504.6 458.8h.01M509.5 467.5h.01M513.7 469.5h.01M451.1 457.6h.01M527.1 439.1h.01M468.1 454.6h.01M465.5 454.5h.01M471.7 482.3h.01M513.0 465.0h.01M504.6 447.9h.01M495.6 474.7h.01M484.9 478.5h.01M501.1 463.7h.01M475.1 475.3h.01M497.3 444.4h.01M502.0 467.5h.01M462.5 468.8h.01M510.8 435.2h.01M462.9 459.8h.01M472.4 490.7h.01M455.2 469.2h.01M482.6 479.0h.01M481.9 470.3h.01M474.5 482.7h.01M483.2 484.5h.01M483.4 479.6h.01M507.6 473.8h.01M487.7 479.3h.01M484.6 489.9h.01M472.6 467.8h.01M516.4 459.1h.01M479.9 476.8h.01M473.9 488.6h.01M483.2 484.9h.01M470.8 489.9h.01" stroke="#feeacd" stroke-width="1.85" stroke-linecap="round" fill="none"/>
<path d="M453.9 456.9h.01M466.8 468.2h.01M468.2 452.6h.01M469.4 486.3h.01M465.4 474.1h.01M458.2 470.4h.01M454.8 468.2h.01M487.0 492.5h.01M476.8 473.5h.01M487.1 467.7h.01M526.8 444.4h.01M477.4 469.8h.01M449.8 456.0h.01M472.0 477.0h.01M497.7 485.7h.01M501.6 477.6h.01M474.3 486.3h.01M475.1 491.6h.01M462.1 476.0h.01M490.8 467.5h.01M519.4 459.1h.01M521.8 445.8h.01M523.6 437.2h.01M468.7 481.5h.01M473.5 473.6h.01M473.3 472.3h.01M476.2 485.4h.01M473.5 488.3h.01M525.2 456.0h.01M476.0 488.5h.01M514.2 465.4h.01M455.4 467.4h.01M513.4 430.9h.01M465.7 458.1h.01M485.8 480.7h.01M525.9 442.6h.01M526.7 440.6h.01M522.0 440.4h.01M484.5 472.9h.01M506.4 480.2h.01M478.2 488.2h.01M463.2 469.0h.01M505.7 472.4h.01M451.2 456.8h.01M508.6 478.9h.01M517.0 466.3h.01M464.9 458.3h.01M477.9 468.5h.01" stroke="#fedfb6" stroke-width="1.85" stroke-linecap="round" fill="none"/>
<path d="M463.6 476.2h.01M486.1 475.0h.01M469.7 456.3h.01M479.2 455.0h.01M493.0 449.5h.01M520.1 454.3h.01M470.7 463.9h.01M524.1 434.6h.01M522.3 462.4h.01M486.2 442.7h.01M527.2 440.6h.01M521.7 450.5h.01M465.9 456.4h.01M513.0 466.2h.01M480.4 491.4h.01M457.1 457.4h.01M476.5 490.7h.01M463.4 471.9h.01M473.7 491.2h.01M506.4 452.7h.01M465.9 459.7h.01M501.9 480.8h.01M479.2 482.4h.01M471.6 461.1h.01M506.6 472.0h.01M520.6 466.0h.01M493.1 490.5h.01M468.6 476.0h.01M468.8 460.1h.01M475.9 475.8h.01M494.6 468.8h.01M471.8 488.3h.01M499.0 459.1h.01M498.3 486.0h.01M494.7 454.2h.01M474.1 480.7h.01M464.5 467.8h.01M463.2 467.9h.01M472.7 465.1h.01M502.9 475.8h.01M485.3 479.8h.01M496.5 465.7h.01M492.6 484.3h.01M487.3 484.5h.01M521.1 435.9h.01M499.8 483.6h.01M469.3 488.5h.01M486.3 486.8h.01M516.5 442.7h.01M527.0 449.2h.01M456.3 463.1h.01M473.9 480.1h.01M494.1 479.8h.01M518.0 458.4h.01M486.4 454.2h.01M499.6 477.2h.01M472.7 498.3h.01M511.2 453.2h.01M465.9 469.1h.01M526.4 452.7h.01" stroke="#fdd49e" stroke-width="1.85" stroke-linecap="round" fill="none"/>
<path d="M470.9 459.6h.01M486.1 462.8h.01M468.1 474.3h.01M467.1 455.1h.01M486.0 469.2h.01M467.4 472.9h.01M475.8 496.9h.01M456.0 464.9h.01M485.3 480.8h.01M512.5 464.4h.01M515.9 464.2h.01M514.1 446.3h.01M499.0 459.0h.01M505.9 459.7h.01M497.7 460.3h.01M473.2 474.9h.01M472.4 473.0h.01M471.4 468.7h.01M501.8 463.7h.01M483.5 467.4h.01M483.2 489.9h.01M488.2 472.9h.01M449.5 463.0h.01M500.7 486.0h.01M519.6 461.1h.01M465.9 469.8h.01M507.9 476.1h.01M469.0 477.7h.01M527.2 445.1h.01M452.2 466.3h.01M512.3 459.9h.01M463.1 459.3h.01M502.8 478.7h.01M483.4 478.1h.01M459.8 464.9h.01M485.0 480.0h.01M465.9 462.5h.01M449.3 458.0h.01M493.5 478.5h.01M466.8 474.5h.01M513.4 425.8h.01M512.5 451.8h.01M506.5 481.3h.01M472.8 463.0h.01M521.4 451.3h.01M476.7 493.7h.01M478.5 477.0h.01M478.6 466.2h.01M524.9 443.4h.01M488.8 450.2h.01M489.2 453.2h.01M502.1 458.6h.01M503.0 462.4h.01M460.7 463.3h.01M469.9 481.0h.01M519.8 451.9h.01" stroke="#fdc68f" stroke-width="1.85" stroke-linecap="round" fill="none"/>
<path d="M493.3 443.7h.01M489.3 477.1h.01M490.5 443.0h.01M498.9 476.2h.01M488.1 475.7h.01M512.0 431.0h.01M505.4 465.5h.01M505.0 462.5h.01M476.7 467.5h.01M527.2 444.1h.01M522.8 441.4h.01M484.7 479.4h.01M502.4 439.8h.01M460.6 464.3h.01M527.8 446.9h.01M488.7 442.1h.01M469.0 483.0h.01M504.9 457.2h.01M473.5 460.3h.01M455.8 463.6h.01M525.2 452.5h.01M512.8 471.5h.01M450.0 458.3h.01M492.9 463.4h.01M493.4 485.2h.01M521.3 454.7h.01M513.9 451.3h.01M494.8 455.4h.01M506.7 429.8h.01M450.8 460.4h.01M508.5 427.9h.01M476.8 479.4h.01M526.9 436.2h.01M523.1 432.9h.01M478.8 461.4h.01M515.0 445.0h.01M467.7 463.9h.01M486.3 450.0h.01M518.3 461.8h.01M492.8 455.5h.01M481.2 492.9h.01M465.0 455.0h.01M470.8 495.2h.01M468.9 461.7h.01M473.6 473.5h.01M466.7 469.2h.01M486.9 471.4h.01M472.2 476.0h.01M485.2 484.1h.01M523.4 460.5h.01" stroke="#fdb47e" stroke-width="1.85" stroke-linecap="round" fill="none"/>
<path d="M472.7 469.0h.01M456.2 456.5h.01M507.8 466.5h.01M484.0 445.2h.01M524.5 449.8h.01M454.8 454.7h.01M472.1 496.7h.01M507.8 457.7h.01M514.8 460.2h.01M518.6 452.6h.01M506.5 439.7h.01M496.6 468.4h.01M471.1 483.1h.01M516.4 434.6h.01M502.6 442.9h.01M455.4 461.8h.01M506.9 428.3h.01M474.3 458.8h.01M500.6 435.0h.01M462.9 455.4h.01M484.7 442.8h.01M515.5 445.6h.01M514.4 459.5h.01M492.1 451.5h.01M527.5 431.8h.01M518.9 441.0h.01M501.9 452.2h.01M478.6 478.9h.01M511.4 433.0h.01M502.4 441.7h.01M492.3 459.3h.01M526.0 436.0h.01M475.1 495.1h.01M457.8 460.4h.01M523.5 432.5h.01M477.1 478.6h.01M519.1 458.1h.01M465.4 472.0h.01M453.9 459.8h.01M493.9 481.6h.01" stroke="#fc9a65" stroke-width="1.85" stroke-linecap="round" fill="none"/>
<path d="M499.7 455.5h.01M493.1 454.7h.01M525.9 436.0h.01M526.4 454.1h.01M498.3 441.4h.01M477.4 463.0h.01M468.6 466.7h.01M500.5 451.2h.01M499.1 443.8h.01M487.5 462.5h.01M501.2 484.6h.01M500.4 441.0h.01M515.7 450.0h.01M468.4 456.8h.01M516.1 452.6h.01M506.5 428.4h.01M456.5 455.5h.01M524.7 443.8h.01M489.3 453.8h.01M518.6 443.0h.01M498.3 443.8h.01M466.7 454.3h.01M455.9 465.2h.01M518.6 435.0h.01M520.6 435.7h.01M474.7 458.0h.01M496.2 441.1h.01M454.7 466.3h.01M498.9 450.2h.01M496.5 444.4h.01M487.0 492.0h.01M493.0 452.3h.01M506.1 447.2h.01M456.2 460.2h.01M491.2 463.1h.01M484.7 450.2h.01M469.9 482.3h.01M508.3 437.9h.01M519.5 465.0h.01M492.1 446.9h.01M503.0 437.1h.01M519.3 441.1h.01M513.5 427.0h.01M521.3 427.6h.01M488.5 468.2h.01M513.8 442.3h.01M522.1 458.1h.01M479.0 453.5h.01M497.9 467.4h.01M501.4 465.0h.01M507.9 427.2h.01" stroke="#f88254" stroke-width="1.85" stroke-linecap="round" fill="none"/>
<path d="M496.2 468.6h.01M525.7 440.9h.01M509.2 456.1h.01M527.5 434.5h.01M508.2 440.0h.01M507.4 440.3h.01M455.4 461.9h.01M483.8 458.0h.01M500.1 459.2h.01M511.5 451.1h.01M482.8 456.8h.01M496.8 448.2h.01M512.7 459.6h.01M503.1 447.5h.01M509.9 433.0h.01M458.0 458.7h.01M489.4 464.9h.01M505.5 432.0h.01M493.5 452.2h.01M502.0 451.5h.01M506.1 428.1h.01M504.0 437.3h.01M479.2 460.8h.01M502.6 445.5h.01M519.8 450.7h.01M503.3 450.4h.01M509.8 453.6h.01M518.2 444.4h.01M516.5 447.1h.01M514.5 456.5h.01M526.7 452.3h.01M504.3 445.9h.01M499.1 435.5h.01M499.1 450.6h.01M515.6 448.6h.01M501.0 467.9h.01M512.4 444.0h.01M464.7 453.9h.01M527.2 428.9h.01M482.0 450.4h.01M514.5 444.1h.01M513.2 442.1h.01M463.7 452.3h.01M482.8 454.4h.01M501.2 445.9h.01M521.8 444.2h.01M481.8 448.2h.01M503.3 472.0h.01M497.6 447.1h.01M500.4 435.3h.01" stroke="#f16b4a" stroke-width="1.85" stroke-linecap="round" fill="none"/>
<path d="M491.3 452.5h.01M509.3 461.0h.01M476.0 459.5h.01M505.1 431.8h.01M490.3 453.4h.01M525.5 426.9h.01M493.8 451.9h.01M512.3 441.7h.01M479.8 464.0h.01M488.8 449.0h.01M502.5 454.6h.01M516.8 450.2h.01M487.7 462.7h.01M511.5 450.5h.01M452.1 457.6h.01M498.4 443.9h.01M495.6 452.7h.01M501.5 467.7h.01M527.7 431.8h.01M492.8 442.1h.01M488.4 466.8h.01M503.9 436.7h.01M502.0 437.4h.01M509.5 445.7h.01M484.5 450.7h.01M516.9 435.1h.01M517.5 432.7h.01M496.6 464.1h.01M499.5 443.1h.01M497.0 446.7h.01M486.6 462.3h.01M514.7 427.5h.01M492.7 440.5h.01M462.8 464.0h.01" stroke="#e54e36" stroke-width="1.85" stroke-linecap="round" fill="none"/>
<path d="M521.6 427.3h.01M509.5 443.6h.01M498.2 461.8h.01M514.9 427.3h.01M502.1 450.7h.01M512.3 457.0h.01M490.8 443.9h.01M518.4 440.2h.01M510.9 433.9h.01M493.7 449.4h.01M490.5 446.9h.01M492.7 489.8h.01M500.9 440.6h.01M484.3 448.9h.01M512.2 442.5h.01M501.9 444.6h.01M480.0 457.5h.01" stroke="#d7301f" stroke-width="1.85" stroke-linecap="round" fill="none"/>
<path d="M499.9 453.0h.01M515.3 446.4h.01M492.8 458.1h.01M519.6 426.7h.01M498.9 448.1h.01M490.5 439.0h.01M495.2 440.2h.01M500.6 434.1h.01M517.4 451.5h.01M504.0 453.7h.01M494.0 447.8h.01M519.2 430.1h.01M495.1 449.0h.01M511.6 427.2h.01M505.4 439.8h.01M509.5 443.7h.01M486.5 444.5h.01M508.8 450.7h.01M484.2 451.9h.01M515.8 464.2h.01" stroke="#c2150d" stroke-width="1.85" stroke-linecap="round" fill="none"/>
<path d="M495.5 444.5h.01M525.3 435.7h.01M499.8 433.1h.01M496.4 451.0h.01M489.9 458.5h.01M519.1 428.3h.01M512.9 425.4h.01M489.6 458.0h.01M510.8 425.6h.01M507.5 450.7h.01M496.0 435.9h.01M508.2 429.5h.01M496.3 444.2h.01M513.4 432.9h.01M520.0 451.9h.01" stroke="#ac0000" stroke-width="1.85" stroke-linecap="round" fill="none"/>
<path d="M489.6 450.5h.01M500.5 447.9h.01M508.1 430.0h.01M501.4 443.8h.01M502.4 440.9h.01M494.5 455.9h.01M495.2 451.3h.01M513.9 444.7h.01M491.9 443.8h.01M488.3 444.7h.01M506.0 429.7h.01M515.4 438.9h.01M498.3 447.6h.01M503.2 435.7h.01M515.5 426.0h.01" stroke="#8e0000" stroke-width="1.85" stroke-linecap="round" fill="none"/>
<text x="488.8" y="420.1" text-anchor="middle" font-style="italic">MX1</text>
<rect x="534.1" y="422.10" width="3.0" height="81.50" fill="url(#orrd)" stroke="#8a8a8a" stroke-width="0.45"/>
<line x1="537.1" x2="540.3000000000001" y1="503.60" y2="503.60" stroke="#333" stroke-width="0.75"/>
<text x="543.9" y="506.7">0</text>
<line x1="537.1" x2="540.3000000000001" y1="463.65" y2="463.65" stroke="#333" stroke-width="0.75"/>
<text x="543.9" y="466.75">1.5</text>
<line x1="537.1" x2="540.3000000000001" y1="423.70" y2="423.70" stroke="#333" stroke-width="0.75"/>
<text x="543.9" y="426.8">3.0</text>
<path d="M603.5 475.0h.01M596.5 490.5h.01M607.0 450.5h.01M610.2 458.1h.01M591.5 471.9h.01M641.5 445.2h.01M588.3 459.6h.01M575.4 464.4h.01M601.4 445.2h.01M613.1 452.1h.01M601.5 481.6h.01M576.6 464.3h.01M603.6 442.7h.01M644.6 440.6h.01M628.6 470.7h.01M572.2 454.7h.01M572.8 461.9h.01M629.7 441.7h.01M573.6 470.1h.01M641.8 430.0h.01M582.8 474.1h.01M582.5 468.9h.01M625.2 457.7h.01M617.2 433.1h.01M579.1 474.2h.01M608.2 480.8h.01M591.4 498.8h.01M607.8 483.0h.01M638.0 466.0h.01M594.2 473.5h.01M638.0 464.3h.01M594.1 467.5h.01M616.8 484.2h.01M623.9 439.7h.01M594.8 469.8h.01M607.3 458.5h.01M605.1 462.7h.01M613.4 489.8h.01M615.1 460.3h.01M593.3 475.8h.01M605.6 458.4h.01M567.2 456.0h.01M645.2 446.9h.01M620.5 470.8h.01M600.6 489.9h.01M572.1 466.3h.01M605.7 444.7h.01M605.6 472.9h.01M581.9 467.8h.01M566.9 463.0h.01M621.5 474.1h.01M595.5 478.6h.01M618.1 486.0h.01M590.1 465.1h.01M610.8 485.2h.01M621.3 436.7h.01M610.0 484.3h.01M630.3 425.4h.01M593.4 488.5h.01M619.2 485.7h.01M607.0 491.0h.01M612.2 455.4h.01M622.8 471.1h.01M581.7 469.0h.01M577.2 464.9h.01M613.0 474.7h.01M607.7 443.1h.01M597.4 476.1h.01M577.8 469.1h.01M624.9 450.7h.01M596.0 478.9h.01M639.4 440.4h.01M619.3 444.6h.01M619.8 441.7h.01M623.8 480.2h.01M626.2 450.7h.01M631.9 444.1h.01M580.3 459.8h.01M571.4 464.4h.01M623.1 472.4h.01M600.6 484.5h.01M609.1 480.7h.01M596.0 466.2h.01M597.7 477.5h.01M568.6 456.8h.01M603.8 454.2h.01M626.0 478.9h.01M586.0 475.4h.01M597.3 476.8h.01M604.2 480.0h.01M601.6 451.9h.01M586.3 461.7h.01M590.1 498.3h.01M584.1 469.2h.01M582.8 472.0h.01M602.1 487.6h.01M625.1 442.1h.01M640.8 460.5h.01M593.3 486.1h.01" stroke="#fff7ec" stroke-width="1.85" stroke-linecap="round" fill="none"/>
<path d="M581.0 476.2h.01M584.2 468.2h.01M585.6 452.6h.01M565.3 458.1h.01M610.3 484.0h.01M583.2 469.1h.01M616.3 476.2h.01M639.7 462.4h.01M618.0 482.5h.01M582.4 456.4h.01M593.2 496.9h.01M643.8 454.1h.01M597.8 491.4h.01M593.9 490.7h.01M619.3 480.8h.01M610.2 485.0h.01M644.6 444.1h.01M574.0 463.6h.01M586.4 483.0h.01M621.4 437.3h.01M604.0 473.7h.01M594.9 468.7h.01M601.2 488.0h.01M606.4 472.8h.01M630.9 459.6h.01M631.1 469.5h.01M620.3 475.8h.01M580.3 455.4h.01M604.7 484.5h.01M596.6 481.2h.01M587.9 472.4h.01M618.2 477.1h.01M600.8 478.1h.01M602.3 478.5h.01M629.6 442.5h.01M644.1 440.6h.01M620.4 437.1h.01M589.8 490.7h.01M607.2 461.4h.01M600.0 479.0h.01M610.2 482.3h.01M598.8 475.0h.01M615.3 467.4h.01M589.6 476.0h.01M587.3 481.0h.01M592.9 480.1h.01" stroke="#feeacd" stroke-width="1.85" stroke-linecap="round" fill="none"/>
<path d="M588.1 463.9h.01M588.4 467.6h.01M585.1 470.1h.01M600.3 483.1h.01M579.2 462.2h.01M586.1 453.3h.01M588.5 483.1h.01M589.4 477.0h.01M615.1 485.7h.01M590.8 478.8h.01M590.9 460.3h.01M615.7 486.0h.01M579.5 476.0h.01M608.2 467.5h.01M585.7 457.6h.01M594.5 464.2h.01M604.7 468.9h.01M573.5 462.3h.01M583.3 469.8h.01M610.1 489.8h.01M587.3 482.3h.01M586.7 488.5h.01M646.8 438.3h.01M572.6 469.2h.01M580.6 469.0h.01M590.2 463.0h.01M614.8 484.1h.01M595.9 477.0h.01M605.1 479.3h.01M602.0 489.9h.01M613.1 485.2h.01M582.4 455.0h.01M639.5 458.1h.01M596.4 453.5h.01M591.3 488.6h.01M578.1 463.3h.01M602.6 484.1h.01" stroke="#fedfb6" stroke-width="1.85" stroke-linecap="round" fill="none"/>
<path d="M578.2 460.6h.01M591.2 476.0h.01M612.9 474.9h.01M629.7 472.2h.01M633.3 464.2h.01M604.4 492.5h.01M624.0 472.0h.01M618.6 484.6h.01M610.5 490.5h.01M590.6 478.5h.01M614.0 468.4h.01M573.9 455.5h.01M611.6 473.9h.01M596.5 466.8h.01M612.0 468.8h.01M573.3 465.2h.01M610.9 452.2h.01M619.0 477.6h.01M589.1 453.7h.01M591.5 480.7h.01M590.2 498.1h.01M625.8 455.2h.01M620.9 478.5h.01M602.7 479.8h.01M573.6 460.2h.01M631.0 469.4h.01M639.8 462.5h.01M631.6 465.4h.01M569.7 461.0h.01M624.3 472.4h.01M572.8 467.4h.01M582.1 453.9h.01M619.3 452.2h.01M583.3 462.5h.01M644.5 439.5h.01M591.3 480.1h.01M598.1 471.5h.01M594.1 493.7h.01M600.8 479.6h.01M635.4 458.4h.01M639.2 444.2h.01M606.5 469.2h.01M617.0 477.2h.01M633.2 464.2h.01M595.3 468.5h.01" stroke="#fdd49e" stroke-width="1.85" stroke-linecap="round" fill="none"/>
<path d="M590.1 469.0h.01M587.1 456.3h.01M585.9 487.3h.01M605.8 465.0h.01M590.4 479.3h.01M625.2 466.5h.01M621.0 477.2h.01M626.5 462.8h.01M584.8 472.9h.01M607.7 468.8h.01M643.1 433.0h.01M589.5 496.7h.01M594.8 463.0h.01M574.5 457.4h.01M573.4 464.9h.01M580.8 471.9h.01M602.7 480.8h.01M600.5 483.2h.01M601.9 471.8h.01M589.0 461.1h.01M637.8 466.8h.01M636.0 452.6h.01M613.7 476.2h.01M599.1 449.0h.01M614.2 448.2h.01M585.8 456.8h.01M640.4 451.1h.01M640.2 441.4h.01M569.5 457.6h.01M586.2 460.1h.01M609.5 488.2h.01M602.1 479.4h.01M584.1 454.3h.01M589.8 473.0h.01M622.3 457.2h.01M570.4 455.7h.01M605.8 466.8h.01M604.4 492.0h.01M621.0 470.0h.01M590.9 473.6h.01M583.4 472.4h.01M590.7 472.3h.01M628.3 433.9h.01M595.6 473.2h.01M644.1 452.3h.01M577.3 464.7h.01M638.5 435.9h.01M569.6 466.3h.01M622.8 439.8h.01M589.1 482.3h.01M630.4 465.0h.01M622.0 447.9h.01M601.0 479.8h.01M594.2 479.4h.01M643.3 442.6h.01M640.5 432.9h.01M594.1 478.9h.01M608.3 487.7h.01M629.9 451.8h.01M586.9 456.6h.01M623.9 481.3h.01M601.6 491.3h.01M585.7 471.0h.01M625.0 473.8h.01M592.5 495.1h.01M598.6 492.9h.01M616.0 474.2h.01M633.8 459.1h.01M588.2 495.2h.01M591.0 473.5h.01M634.4 466.3h.01M617.9 477.2h.01" stroke="#fdc68f" stroke-width="1.85" stroke-linecap="round" fill="none"/>
<path d="M608.7 452.5h.01M613.6 468.6h.01M628.2 434.8h.01M604.4 469.3h.01M642.8 444.5h.01M633.6 437.2h.01M637.5 454.3h.01M589.2 467.7h.01M601.5 447.7h.01M641.5 434.6h.01M585.5 474.3h.01M644.9 434.5h.01M584.5 455.1h.01M605.5 475.7h.01M583.3 456.4h.01M572.3 460.7h.01M644.9 439.9h.01M576.2 471.3h.01M606.7 492.3h.01M605.7 472.6h.01M575.6 470.4h.01M596.6 482.4h.01M604.5 467.7h.01M620.5 447.5h.01M636.8 445.1h.01M606.8 464.9h.01M611.8 481.2h.01M618.9 467.7h.01M590.6 474.9h.01M585.1 457.7h.01M645.1 431.8h.01M592.5 491.6h.01M620.0 445.5h.01M586.2 478.0h.01M642.6 452.5h.01M597.4 490.0h.01M586.1 481.5h.01M582.4 471.1h.01M632.0 443.0h.01M580.6 467.9h.01M610.3 463.4h.01M635.6 444.4h.01M591.7 458.8h.01M592.4 486.0h.01M642.6 456.0h.01M586.4 477.7h.01M594.1 474.7h.01M642.9 439.9h.01M585.5 454.6h.01M644.6 445.1h.01M636.9 465.0h.01M569.2 456.1h.01M601.9 450.7h.01M604.4 473.1h.01M577.4 463.5h.01M630.8 430.9h.01M631.8 459.5h.01M614.0 464.1h.01M587.8 493.2h.01M587.6 453.7h.01M602.4 480.0h.01M584.2 474.5h.01M595.6 488.2h.01M575.8 472.5h.01M625.6 429.5h.01M638.7 427.6h.01M628.4 472.5h.01M620.9 481.0h.01M590.0 467.8h.01M624.6 466.5h.01M605.9 468.2h.01M576.8 472.0h.01M587.0 462.8h.01M613.7 444.2h.01M594.9 482.3h.01M583.3 469.1h.01M594.9 489.8h.01M584.5 477.3h.01M643.8 452.7h.01M586.9 472.8h.01" stroke="#fdb47e" stroke-width="1.85" stroke-linecap="round" fill="none"/>
<path d="M571.3 456.9h.01M617.3 453.0h.01M573.6 456.5h.01M610.4 449.5h.01M600.9 471.1h.01M606.7 477.1h.01M622.5 431.8h.01M643.1 440.9h.01M607.7 453.4h.01M643.3 436.0h.01M639.0 427.3h.01M615.7 441.4h.01M630.4 466.2h.01M615.8 487.0h.01M616.3 448.1h.01M629.9 464.4h.01M591.1 491.2h.01M640.1 435.9h.01M623.8 452.7h.01M622.8 465.5h.01M617.5 459.2h.01M572.2 468.2h.01M632.2 460.2h.01M617.2 474.6h.01M618.8 443.8h.01M610.9 444.4h.01M630.1 459.6h.01M613.2 439.3h.01M575.4 458.7h.01M619.8 440.9h.01M607.9 439.0h.01M605.3 445.6h.01M622.4 439.7h.01M636.0 443.0h.01M588.0 463.5h.01M611.9 455.9h.01M638.0 435.7h.01M591.7 486.3h.01M633.5 433.6h.01M572.8 461.8h.01M588.8 468.7h.01M579.2 466.7h.01M639.2 445.8h.01M641.0 437.2h.01M567.3 463.3h.01M635.8 440.2h.01M630.2 471.5h.01M567.4 458.3h.01M626.9 467.5h.01M568.5 457.6h.01M590.9 488.3h.01M626.8 472.9h.01M601.8 485.9h.01M617.2 483.6h.01M568.2 460.4h.01M609.5 446.9h.01M618.4 467.9h.01M633.9 442.7h.01M573.6 461.1h.01M583.1 458.1h.01M603.2 480.7h.01M566.7 458.0h.01M610.9 478.5h.01M608.6 479.6h.01M603.9 444.5h.01M619.4 467.5h.01M632.4 445.0h.01M630.6 442.1h.01M613.4 435.9h.01M613.2 475.9h.01M611.5 479.8h.01M575.2 460.4h.01M594.5 478.6h.01M580.2 464.0h.01M625.6 461.7h.01M577.9 463.4h.01M604.3 471.4h.01M611.3 481.6h.01M586.2 488.6h.01M588.2 489.9h.01" stroke="#fc9a65" stroke-width="1.85" stroke-linecap="round" fill="none"/>
<path d="M576.4 461.8h.01M632.7 446.4h.01M582.7 463.9h.01M593.1 466.3h.01M593.4 459.5h.01M603.4 469.2h.01M582.5 470.2h.01M625.7 463.0h.01M624.8 440.3h.01M597.2 464.0h.01M586.8 486.3h.01M586.0 466.7h.01M622.4 462.5h.01M631.6 472.7h.01M633.1 450.0h.01M627.3 433.0h.01M616.4 459.0h.01M586.0 476.0h.01M616.6 470.4h.01M578.0 464.3h.01M612.6 451.3h.01M636.0 435.0h.01M579.6 465.9h.01M619.2 463.7h.01M600.9 467.4h.01M596.6 460.8h.01M636.8 459.1h.01M637.2 450.7h.01M626.6 473.8h.01M621.0 431.8h.01M590.3 491.1h.01M593.6 485.4h.01M622.0 458.8h.01M633.9 447.1h.01M612.5 449.0h.01M625.3 476.1h.01M630.1 461.1h.01M619.6 430.7h.01M580.5 459.3h.01M620.2 478.7h.01M609.5 451.5h.01M644.9 431.8h.01M618.5 463.7h.01M644.4 449.2h.01M592.5 475.3h.01M601.9 472.9h.01M628.2 435.2h.01M614.4 446.7h.01M599.3 470.3h.01M591.9 482.7h.01M593.2 477.0h.01M635.7 461.8h.01M610.1 440.5h.01M642.3 443.4h.01M600.1 474.7h.01M571.3 459.8h.01M619.5 458.6h.01M582.3 458.3h.01M600.6 484.9h.01" stroke="#f88254" stroke-width="1.85" stroke-linecap="round" fill="none"/>
<path d="M596.6 455.0h.01M612.9 444.5h.01M621.5 457.0h.01M589.3 482.1h.01M625.5 444.0h.01M605.5 478.4h.01M601.2 458.0h.01M615.6 461.8h.01M600.8 463.4h.01M583.3 459.7h.01M604.9 462.5h.01M633.5 452.6h.01M628.9 450.5h.01M623.3 459.7h.01M638.2 456.7h.01M589.2 488.3h.01M613.0 452.7h.01M618.5 443.9h.01M633.0 449.1h.01M592.1 458.0h.01M608.2 443.9h.01M573.2 463.6h.01M609.9 455.6h.01M589.6 479.7h.01M593.7 483.2h.01M613.9 444.4h.01M610.4 452.3h.01M641.4 444.2h.01M608.1 464.4h.01M623.5 447.2h.01M607.9 446.9h.01M613.9 465.7h.01M637.0 461.1h.01M602.1 450.2h.01M638.7 454.7h.01M632.9 445.6h.01M607.0 458.0h.01M603.7 486.8h.01M634.3 435.1h.01M629.7 459.9h.01M582.9 454.5h.01M633.0 448.6h.01M630.8 425.8h.01M573.7 463.1h.01M636.7 441.1h.01M630.9 427.0h.01M638.8 451.3h.01M600.2 454.4h.01M610.2 455.5h.01M598.3 465.9h.01M599.2 448.2h.01M628.6 453.2h.01M600.0 463.2h.01M618.8 465.0h.01M625.3 427.2h.01M597.8 464.5h.01" stroke="#f16b4a" stroke-width="1.85" stroke-linecap="round" fill="none"/>
<path d="M610.7 443.7h.01M628.5 463.2h.01M601.8 450.5h.01M617.9 447.9h.01M629.4 431.0h.01M626.9 443.6h.01M642.7 435.7h.01M632.0 438.2h.01M625.5 430.0h.01M632.3 431.0h.01M613.8 451.0h.01M644.2 444.4h.01M634.2 450.2h.01M623.9 428.4h.01M642.1 443.8h.01M615.8 443.9h.01M619.8 439.8h.01M634.8 451.5h.01M616.4 459.1h.01M609.3 443.8h.01M620.0 442.9h.01M629.7 457.0h.01M613.6 441.1h.01M624.3 428.3h.01M620.7 450.4h.01M636.5 428.3h.01M618.0 435.0h.01M608.6 463.1h.01M631.9 456.5h.01M621.7 445.9h.01M644.5 439.1h.01M626.9 445.7h.01M631.3 451.3h.01M616.5 435.5h.01M624.1 429.8h.01M617.1 478.2h.01M618.3 440.6h.01M628.2 425.6h.01M601.7 448.9h.01M597.8 456.7h.01M607.5 449.1h.01M579.9 468.8h.01M624.2 429.2h.01M596.2 461.4h.01M640.0 434.7h.01M609.7 459.3h.01M581.1 452.3h.01M585.1 463.9h.01M620.6 435.7h.01M597.4 457.5h.01M604.0 462.3h.01M605.7 450.3h.01M606.2 450.2h.01M636.5 458.1h.01M637.4 451.9h.01M620.4 462.4h.01M617.8 435.3h.01M637.2 451.9h.01" stroke="#e54e36" stroke-width="1.85" stroke-linecap="round" fill="none"/>
<path d="M626.7 461.0h.01M603.5 462.8h.01M610.5 454.7h.01M637.0 426.7h.01M641.9 449.8h.01M639.1 450.5h.01M625.6 440.0h.01M611.2 451.9h.01M600.2 456.8h.01M597.6 462.9h.01M594.5 468.3h.01M616.8 452.4h.01M618.0 434.1h.01M606.7 453.8h.01M619.5 450.7h.01M606.1 442.1h.01M619.4 451.5h.01M623.5 428.1h.01M610.2 442.1h.01M612.1 454.2h.01M636.6 430.1h.01M625.1 445.6h.01M607.5 460.9h.01M627.2 453.6h.01M626.6 427.7h.01M625.7 437.9h.01M629.0 427.2h.01M614.7 444.4h.01M644.3 436.2h.01M594.1 494.5h.01M643.4 436.0h.01M603.7 450.0h.01M632.1 427.5h.01M620.7 472.0h.01M630.8 432.9h.01" stroke="#d7301f" stroke-width="1.85" stroke-linecap="round" fill="none"/>
<path d="M607.9 443.0h.01M626.6 456.1h.01M642.9 426.9h.01M616.5 443.8h.01M631.5 446.3h.01M583.3 470.7h.01M612.6 440.2h.01M632.3 427.3h.01M615.7 443.8h.01M631.3 444.7h.01M633.0 434.3h.01M624.5 449.8h.01M600.6 462.0h.01M619.4 437.4h.01M623.4 429.7h.01M568.7 458.5h.01M616.5 450.6h.01M625.9 427.9h.01M634.9 432.7h.01M629.8 444.0h.01M636.3 441.0h.01M644.6 428.9h.01M619.9 452.1h.01" stroke="#c2150d" stroke-width="1.85" stroke-linecap="round" fill="none"/>
<path d="M632.2 438.6h.01M617.1 455.5h.01M606.2 449.0h.01M628.9 451.1h.01M619.9 454.6h.01M633.8 434.6h.01M621.4 453.7h.01M611.4 447.8h.01M611.1 449.4h.01M602.1 442.8h.01M632.8 438.9h.01M638.3 465.2h.01M628.8 433.0h.01M599.4 450.4h.01M617.1 453.3h.01M632.9 426.0h.01M640.9 432.5h.01M623.9 433.7h.01M606.6 453.2h.01M631.2 442.3h.01" stroke="#ac0000" stroke-width="1.85" stroke-linecap="round" fill="none"/>
<path d="M611.6 448.2h.01M617.9 451.2h.01M634.2 453.2h.01M617.8 441.0h.01M611.3 447.0h.01M622.9 432.0h.01M620.4 444.2h.01M630.9 427.7h.01M616.3 450.2h.01M626.9 443.7h.01M616.9 443.1h.01M615.7 447.6h.01M618.6 445.9h.01M615.0 447.1h.01" stroke="#8e0000" stroke-width="1.85" stroke-linecap="round" fill="none"/>
<text x="606.6" y="420.1" text-anchor="middle" font-style="italic">ISG15</text>
<rect x="651.8" y="422.10" width="3.0" height="81.50" fill="url(#orrd)" stroke="#8a8a8a" stroke-width="0.45"/>
<line x1="654.8" x2="658.0" y1="503.60" y2="503.60" stroke="#333" stroke-width="0.75"/>
<text x="661.6" y="506.7">0</text>
<line x1="654.8" x2="658.0" y1="456.58" y2="456.58" stroke="#333" stroke-width="0.75"/>
<text x="661.6" y="459.68">3</text>
<line x1="654.8" x2="658.0" y1="425.23" y2="425.23" stroke="#333" stroke-width="0.75"/>
<text x="661.6" y="428.33">5</text>
</svg>
</body></html>
